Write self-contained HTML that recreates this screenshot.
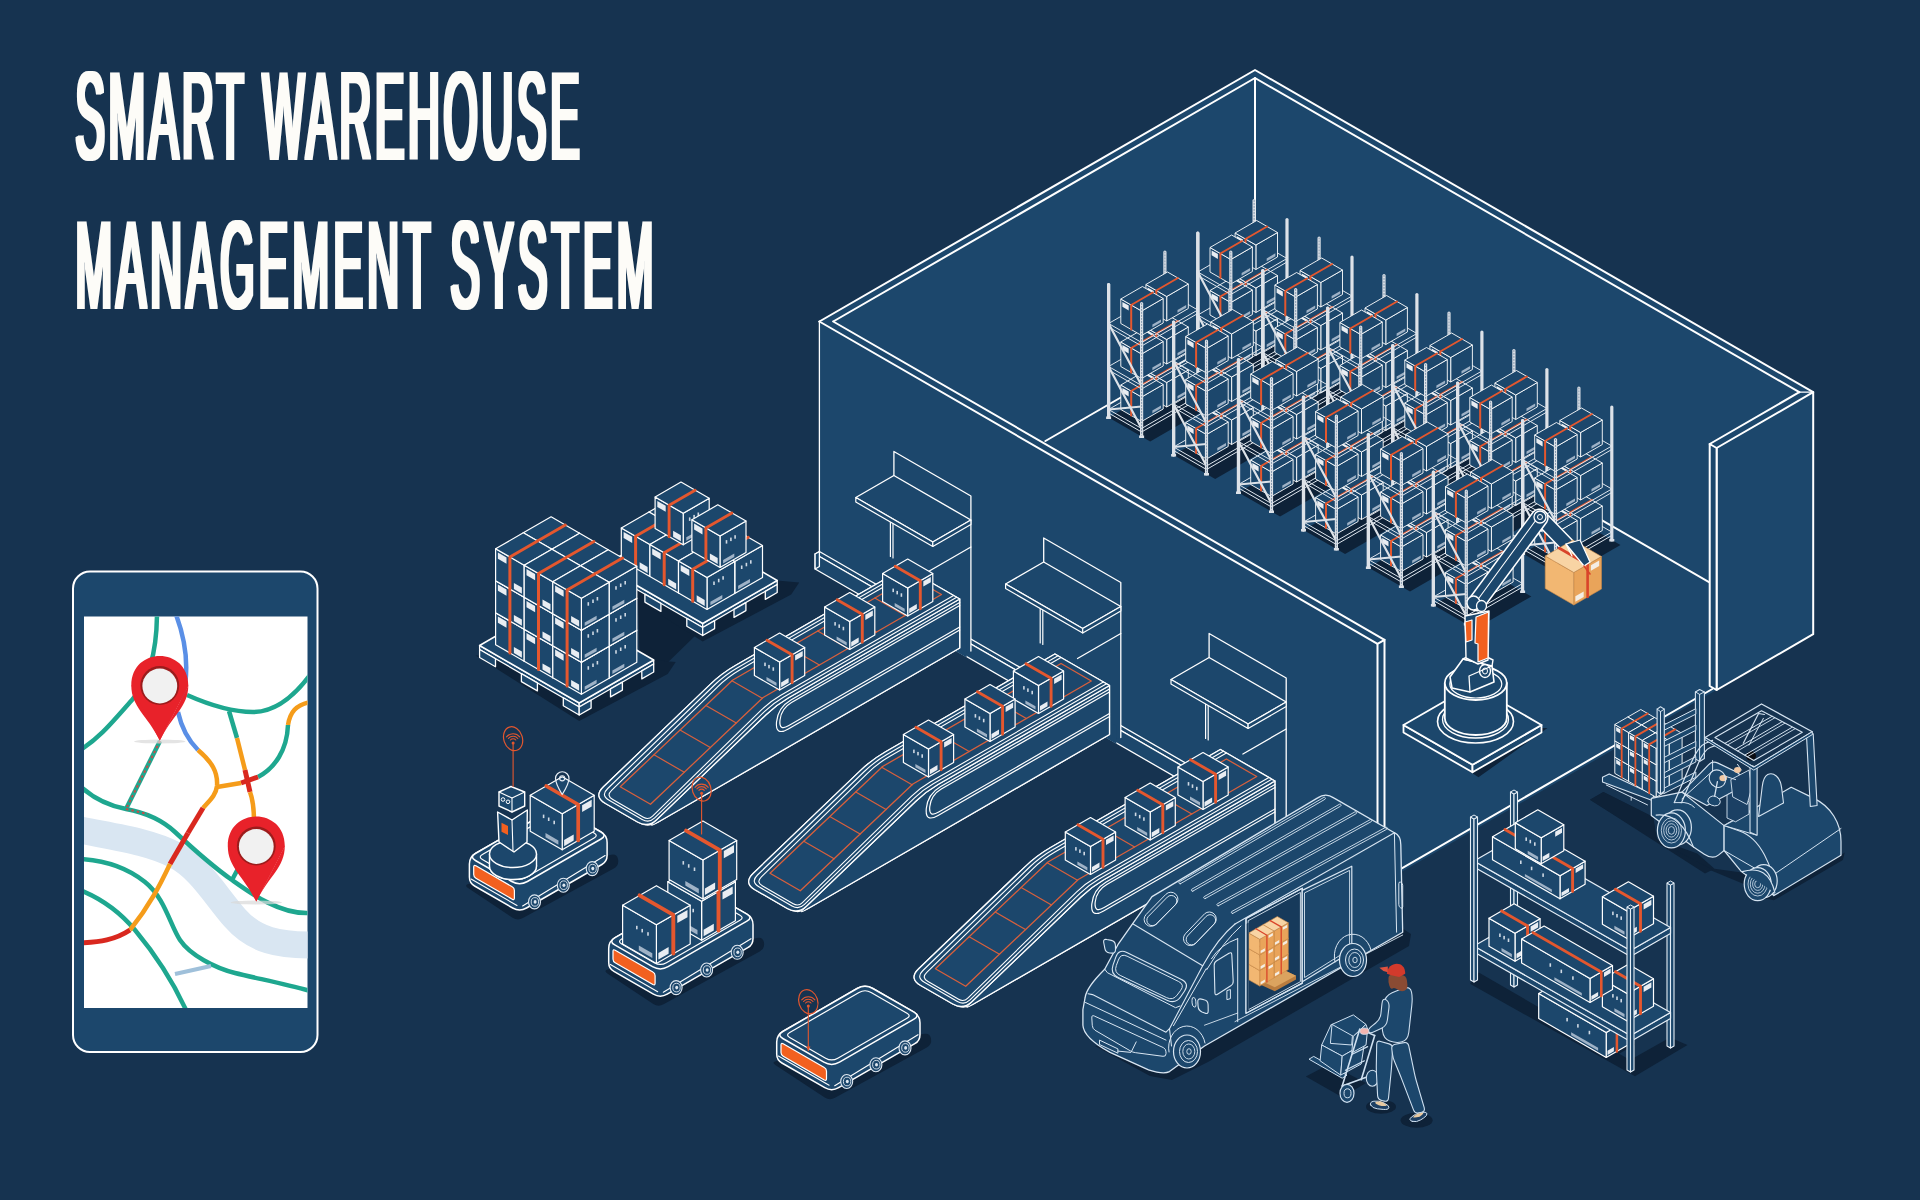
<!DOCTYPE html>
<html><head><meta charset="utf-8"><title>Smart Warehouse Management System</title>
<style>html,body{margin:0;padding:0;background:#163350;overflow:hidden}svg{display:block}</style></head>
<body><svg width="1920" height="1200" viewBox="0 0 1920 1200">
<rect width="1920" height="1200" fill="#163350"/>
<polygon points="819.4,321.5 1255,70 1813.2,392.2 1813.2,634.2 1377.5,885.8 819.4,563.5" fill="#1c476c" stroke="none" stroke-width="0" stroke-linejoin="round" />
<polygon points="819.4,551.5 1377.5,873.8 1377.5,889.8 819.4,567.5" fill="#1c476c" stroke="none" stroke-width="0" stroke-linejoin="round" />
<polyline points="1045.4,441 1255,320 1799.3,634.2" fill="none" stroke="#ffffff" stroke-width="2" stroke-linejoin="round" stroke-linecap="round" />
<polyline points="1255,320 1255,78" fill="none" stroke="#ffffff" stroke-width="2" stroke-linejoin="round" stroke-linecap="round" />
<polyline points="819.4,321.5 1255,70 1813.2,392.2" fill="none" stroke="#ffffff" stroke-width="2" stroke-linejoin="round" stroke-linecap="round" />
<polyline points="833.2,321.5 1255,78 1799.3,392.2" fill="none" stroke="#ffffff" stroke-width="2" stroke-linejoin="round" stroke-linecap="round" />
<polygon points="1813.2,392.2 1716.6,448 1716.6,690 1813.2,634.2" fill="#1c476c" stroke="#ffffff" stroke-width="2" stroke-linejoin="round" />
<polygon points="1716.6,448 1709.7,444 1709.7,686 1716.6,690" fill="#1c476c" stroke="#ffffff" stroke-width="2" stroke-linejoin="round" />
<polyline points="1799.3,392.2 1709.7,444" fill="none" stroke="#ffffff" stroke-width="2" stroke-linejoin="round" stroke-linecap="round" />
<polyline points="1813.2,392.2 1799.3,392.2" fill="none" stroke="#ffffff" stroke-width="1.2" stroke-linejoin="round" stroke-linecap="round" />
<polyline points="1712.3,689 1373.2,884.8" fill="none" stroke="#ffffff" stroke-width="2" stroke-linejoin="round" stroke-linecap="round" />
<polygon points="1254.1,333.5 1295.7,357.5 1239.4,390 1197.8,366" fill="#0e2238" stroke="none" stroke-width="0" stroke-linejoin="round" />
<polyline points="1254.1,333.5 1254.1,200.5" fill="none" stroke="#dde2e8" stroke-width="3.2" stroke-linejoin="round" stroke-linecap="round" stroke-linecap="butt"/>
<polyline points="1254.1,333.5 1254.1,200.5" fill="none" stroke="#8398ae" stroke-width="1" stroke-linejoin="round" stroke-linecap="round" stroke-dasharray="1.2 1.8" stroke-linecap="butt"/>
<polyline points="1287,352.5 1287,219.5" fill="none" stroke="#dde2e8" stroke-width="3.2" stroke-linejoin="round" stroke-linecap="round" stroke-linecap="butt"/>
<polyline points="1197.8,366 1197.8,233" fill="none" stroke="#dde2e8" stroke-width="3.2" stroke-linejoin="round" stroke-linecap="round" stroke-linecap="butt"/>
<polygon points="1254.1,325.5 1287,344.5 1230.8,377 1197.8,358" fill="none" stroke="#dfe6ee" stroke-width="1" stroke-linejoin="round" />
<polyline points="1197.8,361.5 1230.8,380.5 1287,348" fill="none" stroke="#dfe6ee" stroke-width="1" stroke-linejoin="round" stroke-linecap="round" />
<polygon points="1255.9,355.5 1277.5,343 1277.5,318.5 1255.9,331" fill="#1c476c" stroke="#ffffff" stroke-width="0.9" stroke-linejoin="round" />
<polygon points="1255.9,355.5 1235.1,343.5 1235.1,319 1255.9,331" fill="#1c476c" stroke="#ffffff" stroke-width="0.9" stroke-linejoin="round" />
<polygon points="1255.9,331 1277.5,318.5 1256.7,306.5 1235.1,319" fill="#1c476c" stroke="#ffffff" stroke-width="0.9" stroke-linejoin="round" />
<polyline points="1267.1,312.5 1245.5,325 1245.5,349.5" fill="none" stroke="#e4572e" stroke-width="2" stroke-linejoin="round" stroke-linecap="round" stroke-linecap="butt"/>
<polygon points="1236.7,321.9 1243,325.5 1243,330.4 1236.7,326.8" fill="#e9edf2" stroke="none" stroke-width="0" stroke-linejoin="round" />
<polygon points="1266.7,344.4 1275.4,339.4 1275.4,342.3 1266.7,347.3" fill="#9fb2c6" stroke="none" stroke-width="0" stroke-linejoin="round" />
<polygon points="1230.8,370 1252.4,357.5 1252.4,333 1230.8,345.5" fill="#1c476c" stroke="#ffffff" stroke-width="0.9" stroke-linejoin="round" />
<polygon points="1230.8,370 1210,358 1210,333.5 1230.8,345.5" fill="#1c476c" stroke="#ffffff" stroke-width="0.9" stroke-linejoin="round" />
<polygon points="1230.8,345.5 1252.4,333 1231.6,321 1210,333.5" fill="#1c476c" stroke="#ffffff" stroke-width="0.9" stroke-linejoin="round" />
<polyline points="1242,327 1220.4,339.5 1220.4,364" fill="none" stroke="#e4572e" stroke-width="2" stroke-linejoin="round" stroke-linecap="round" stroke-linecap="butt"/>
<polygon points="1211.6,336.4 1217.9,340 1217.9,344.9 1211.6,341.3" fill="#e9edf2" stroke="none" stroke-width="0" stroke-linejoin="round" />
<polygon points="1241.6,358.9 1250.2,353.9 1250.2,356.8 1241.6,361.8" fill="#9fb2c6" stroke="none" stroke-width="0" stroke-linejoin="round" />
<polygon points="1254.1,282.5 1287,301.5 1230.8,334 1197.8,315" fill="none" stroke="#dfe6ee" stroke-width="1" stroke-linejoin="round" />
<polyline points="1197.8,318.5 1230.8,337.5 1287,305" fill="none" stroke="#dfe6ee" stroke-width="1" stroke-linejoin="round" stroke-linecap="round" />
<polygon points="1255.9,312.5 1277.5,300 1277.5,275.5 1255.9,288" fill="#1c476c" stroke="#ffffff" stroke-width="0.9" stroke-linejoin="round" />
<polygon points="1255.9,312.5 1235.1,300.5 1235.1,276 1255.9,288" fill="#1c476c" stroke="#ffffff" stroke-width="0.9" stroke-linejoin="round" />
<polygon points="1255.9,288 1277.5,275.5 1256.7,263.5 1235.1,276" fill="#1c476c" stroke="#ffffff" stroke-width="0.9" stroke-linejoin="round" />
<polyline points="1267.1,269.5 1245.5,282 1245.5,306.5" fill="none" stroke="#e4572e" stroke-width="2" stroke-linejoin="round" stroke-linecap="round" stroke-linecap="butt"/>
<polygon points="1236.7,278.9 1243,282.5 1243,287.4 1236.7,283.8" fill="#e9edf2" stroke="none" stroke-width="0" stroke-linejoin="round" />
<polygon points="1266.7,301.4 1275.4,296.4 1275.4,299.3 1266.7,304.3" fill="#9fb2c6" stroke="none" stroke-width="0" stroke-linejoin="round" />
<polygon points="1230.8,327 1252.4,314.5 1252.4,290 1230.8,302.5" fill="#1c476c" stroke="#ffffff" stroke-width="0.9" stroke-linejoin="round" />
<polygon points="1230.8,327 1210,315 1210,290.5 1230.8,302.5" fill="#1c476c" stroke="#ffffff" stroke-width="0.9" stroke-linejoin="round" />
<polygon points="1230.8,302.5 1252.4,290 1231.6,278 1210,290.5" fill="#1c476c" stroke="#ffffff" stroke-width="0.9" stroke-linejoin="round" />
<polyline points="1242,284 1220.4,296.5 1220.4,321" fill="none" stroke="#e4572e" stroke-width="2" stroke-linejoin="round" stroke-linecap="round" stroke-linecap="butt"/>
<polygon points="1211.6,293.4 1217.9,297 1217.9,301.9 1211.6,298.3" fill="#e9edf2" stroke="none" stroke-width="0" stroke-linejoin="round" />
<polygon points="1241.6,315.9 1250.2,310.9 1250.2,313.8 1241.6,318.8" fill="#9fb2c6" stroke="none" stroke-width="0" stroke-linejoin="round" />
<polygon points="1254.1,239.5 1287,258.5 1230.8,291 1197.8,272" fill="none" stroke="#dfe6ee" stroke-width="1" stroke-linejoin="round" />
<polyline points="1197.8,275.5 1230.8,294.5 1287,262" fill="none" stroke="#dfe6ee" stroke-width="1" stroke-linejoin="round" stroke-linecap="round" />
<polygon points="1255.9,269.5 1277.5,257 1277.5,232.5 1255.9,245" fill="#1c476c" stroke="#ffffff" stroke-width="0.9" stroke-linejoin="round" />
<polygon points="1255.9,269.5 1235.1,257.5 1235.1,233 1255.9,245" fill="#1c476c" stroke="#ffffff" stroke-width="0.9" stroke-linejoin="round" />
<polygon points="1255.9,245 1277.5,232.5 1256.7,220.5 1235.1,233" fill="#1c476c" stroke="#ffffff" stroke-width="0.9" stroke-linejoin="round" />
<polyline points="1267.1,226.5 1245.5,239 1245.5,263.5" fill="none" stroke="#e4572e" stroke-width="2" stroke-linejoin="round" stroke-linecap="round" stroke-linecap="butt"/>
<polygon points="1236.7,235.9 1243,239.5 1243,244.4 1236.7,240.8" fill="#e9edf2" stroke="none" stroke-width="0" stroke-linejoin="round" />
<polygon points="1266.7,258.4 1275.4,253.3 1275.4,256.3 1266.7,261.3" fill="#9fb2c6" stroke="none" stroke-width="0" stroke-linejoin="round" />
<polygon points="1230.8,284 1252.4,271.5 1252.4,247 1230.8,259.5" fill="#1c476c" stroke="#ffffff" stroke-width="0.9" stroke-linejoin="round" />
<polygon points="1230.8,284 1210,272 1210,247.5 1230.8,259.5" fill="#1c476c" stroke="#ffffff" stroke-width="0.9" stroke-linejoin="round" />
<polygon points="1230.8,259.5 1252.4,247 1231.6,235 1210,247.5" fill="#1c476c" stroke="#ffffff" stroke-width="0.9" stroke-linejoin="round" />
<polyline points="1242,241 1220.4,253.5 1220.4,278" fill="none" stroke="#e4572e" stroke-width="2" stroke-linejoin="round" stroke-linecap="round" stroke-linecap="butt"/>
<polygon points="1211.6,250.4 1217.9,254 1217.9,258.9 1211.6,255.3" fill="#e9edf2" stroke="none" stroke-width="0" stroke-linejoin="round" />
<polygon points="1241.6,272.9 1250.2,267.9 1250.2,270.8 1241.6,275.8" fill="#9fb2c6" stroke="none" stroke-width="0" stroke-linejoin="round" />
<polyline points="1197.8,315 1230.8,377" fill="none" stroke="#dde2e8" stroke-width="2.2" stroke-linejoin="round" stroke-linecap="round" />
<polyline points="1197.8,272 1230.8,334" fill="none" stroke="#dde2e8" stroke-width="2.2" stroke-linejoin="round" stroke-linecap="round" />
<polyline points="1197.8,358 1230.8,355" fill="none" stroke="#dde2e8" stroke-width="2.2" stroke-linejoin="round" stroke-linecap="round" />
<polyline points="1197.8,366 1197.8,233" fill="none" stroke="#dde2e8" stroke-width="3.2" stroke-linejoin="round" stroke-linecap="round" stroke-linecap="butt"/>
<polyline points="1230.8,385 1230.8,252" fill="none" stroke="#dde2e8" stroke-width="3.2" stroke-linejoin="round" stroke-linecap="round" stroke-linecap="butt"/>
<polyline points="1230.8,385 1230.8,252" fill="none" stroke="#8398ae" stroke-width="1" stroke-linejoin="round" stroke-linecap="round" stroke-dasharray="1.2 1.8" stroke-linecap="butt"/>
<rect x="1228.3" y="384" width="5" height="2.5" fill="#dde2e8"/>
<rect x="1195.3" y="365" width="5" height="2.5" fill="#dde2e8"/>
<rect x="1284.5" y="351.5" width="5" height="2.5" fill="#dde2e8"/>
<polygon points="1319.1,371 1360.7,395 1304.4,427.5 1262.8,403.5" fill="#0e2238" stroke="none" stroke-width="0" stroke-linejoin="round" />
<polyline points="1319.1,371 1319.1,238" fill="none" stroke="#dde2e8" stroke-width="3.2" stroke-linejoin="round" stroke-linecap="round" stroke-linecap="butt"/>
<polyline points="1319.1,371 1319.1,238" fill="none" stroke="#8398ae" stroke-width="1" stroke-linejoin="round" stroke-linecap="round" stroke-dasharray="1.2 1.8" stroke-linecap="butt"/>
<polyline points="1352,390 1352,257" fill="none" stroke="#dde2e8" stroke-width="3.2" stroke-linejoin="round" stroke-linecap="round" stroke-linecap="butt"/>
<polyline points="1262.8,403.5 1262.8,270.5" fill="none" stroke="#dde2e8" stroke-width="3.2" stroke-linejoin="round" stroke-linecap="round" stroke-linecap="butt"/>
<polygon points="1319.1,363 1352,382 1295.7,414.5 1262.8,395.5" fill="none" stroke="#dfe6ee" stroke-width="1" stroke-linejoin="round" />
<polyline points="1262.8,399 1295.7,418 1352,385.5" fill="none" stroke="#dfe6ee" stroke-width="1" stroke-linejoin="round" stroke-linecap="round" />
<polygon points="1320.8,393 1342.5,380.5 1342.5,356 1320.8,368.5" fill="#1c476c" stroke="#ffffff" stroke-width="0.9" stroke-linejoin="round" />
<polygon points="1320.8,393 1300,381 1300,356.5 1320.8,368.5" fill="#1c476c" stroke="#ffffff" stroke-width="0.9" stroke-linejoin="round" />
<polygon points="1320.8,368.5 1342.5,356 1321.7,344 1300,356.5" fill="#1c476c" stroke="#ffffff" stroke-width="0.9" stroke-linejoin="round" />
<polyline points="1332.1,350 1310.4,362.5 1310.4,387" fill="none" stroke="#e4572e" stroke-width="2" stroke-linejoin="round" stroke-linecap="round" stroke-linecap="butt"/>
<polygon points="1301.7,359.4 1307.9,363 1307.9,367.9 1301.7,364.3" fill="#e9edf2" stroke="none" stroke-width="0" stroke-linejoin="round" />
<polygon points="1331.6,381.9 1340.3,376.9 1340.3,379.8 1331.6,384.8" fill="#9fb2c6" stroke="none" stroke-width="0" stroke-linejoin="round" />
<polygon points="1295.7,407.5 1317.4,395 1317.4,370.5 1295.7,383" fill="#1c476c" stroke="#ffffff" stroke-width="0.9" stroke-linejoin="round" />
<polygon points="1295.7,407.5 1274.9,395.5 1274.9,371 1295.7,383" fill="#1c476c" stroke="#ffffff" stroke-width="0.9" stroke-linejoin="round" />
<polygon points="1295.7,383 1317.4,370.5 1296.6,358.5 1274.9,371" fill="#1c476c" stroke="#ffffff" stroke-width="0.9" stroke-linejoin="round" />
<polyline points="1307,364.5 1285.3,377 1285.3,401.5" fill="none" stroke="#e4572e" stroke-width="2" stroke-linejoin="round" stroke-linecap="round" stroke-linecap="butt"/>
<polygon points="1276.6,373.9 1282.8,377.5 1282.8,382.4 1276.6,378.8" fill="#e9edf2" stroke="none" stroke-width="0" stroke-linejoin="round" />
<polygon points="1306.5,396.4 1315.2,391.4 1315.2,394.3 1306.5,399.3" fill="#9fb2c6" stroke="none" stroke-width="0" stroke-linejoin="round" />
<polygon points="1319.1,320 1352,339 1295.7,371.5 1262.8,352.5" fill="none" stroke="#dfe6ee" stroke-width="1" stroke-linejoin="round" />
<polyline points="1262.8,356 1295.7,375 1352,342.5" fill="none" stroke="#dfe6ee" stroke-width="1" stroke-linejoin="round" stroke-linecap="round" />
<polygon points="1320.8,350 1342.5,337.5 1342.5,313 1320.8,325.5" fill="#1c476c" stroke="#ffffff" stroke-width="0.9" stroke-linejoin="round" />
<polygon points="1320.8,350 1300,338 1300,313.5 1320.8,325.5" fill="#1c476c" stroke="#ffffff" stroke-width="0.9" stroke-linejoin="round" />
<polygon points="1320.8,325.5 1342.5,313 1321.7,301 1300,313.5" fill="#1c476c" stroke="#ffffff" stroke-width="0.9" stroke-linejoin="round" />
<polyline points="1332.1,307 1310.4,319.5 1310.4,344" fill="none" stroke="#e4572e" stroke-width="2" stroke-linejoin="round" stroke-linecap="round" stroke-linecap="butt"/>
<polygon points="1301.7,316.4 1307.9,320 1307.9,324.9 1301.7,321.3" fill="#e9edf2" stroke="none" stroke-width="0" stroke-linejoin="round" />
<polygon points="1331.6,338.9 1340.3,333.9 1340.3,336.8 1331.6,341.8" fill="#9fb2c6" stroke="none" stroke-width="0" stroke-linejoin="round" />
<polygon points="1295.7,364.5 1317.4,352 1317.4,327.5 1295.7,340" fill="#1c476c" stroke="#ffffff" stroke-width="0.9" stroke-linejoin="round" />
<polygon points="1295.7,364.5 1274.9,352.5 1274.9,328 1295.7,340" fill="#1c476c" stroke="#ffffff" stroke-width="0.9" stroke-linejoin="round" />
<polygon points="1295.7,340 1317.4,327.5 1296.6,315.5 1274.9,328" fill="#1c476c" stroke="#ffffff" stroke-width="0.9" stroke-linejoin="round" />
<polyline points="1307,321.5 1285.3,334 1285.3,358.5" fill="none" stroke="#e4572e" stroke-width="2" stroke-linejoin="round" stroke-linecap="round" stroke-linecap="butt"/>
<polygon points="1276.6,330.9 1282.8,334.5 1282.8,339.4 1276.6,335.8" fill="#e9edf2" stroke="none" stroke-width="0" stroke-linejoin="round" />
<polygon points="1306.5,353.4 1315.2,348.4 1315.2,351.3 1306.5,356.3" fill="#9fb2c6" stroke="none" stroke-width="0" stroke-linejoin="round" />
<polygon points="1319.1,277 1352,296 1295.7,328.5 1262.8,309.5" fill="none" stroke="#dfe6ee" stroke-width="1" stroke-linejoin="round" />
<polyline points="1262.8,313 1295.7,332 1352,299.5" fill="none" stroke="#dfe6ee" stroke-width="1" stroke-linejoin="round" stroke-linecap="round" />
<polygon points="1320.8,307 1342.5,294.5 1342.5,270 1320.8,282.5" fill="#1c476c" stroke="#ffffff" stroke-width="0.9" stroke-linejoin="round" />
<polygon points="1320.8,307 1300,295 1300,270.5 1320.8,282.5" fill="#1c476c" stroke="#ffffff" stroke-width="0.9" stroke-linejoin="round" />
<polygon points="1320.8,282.5 1342.5,270 1321.7,258 1300,270.5" fill="#1c476c" stroke="#ffffff" stroke-width="0.9" stroke-linejoin="round" />
<polyline points="1332.1,264 1310.4,276.5 1310.4,301" fill="none" stroke="#e4572e" stroke-width="2" stroke-linejoin="round" stroke-linecap="round" stroke-linecap="butt"/>
<polygon points="1301.7,273.4 1307.9,277 1307.9,281.9 1301.7,278.3" fill="#e9edf2" stroke="none" stroke-width="0" stroke-linejoin="round" />
<polygon points="1331.6,295.9 1340.3,290.9 1340.3,293.8 1331.6,298.8" fill="#9fb2c6" stroke="none" stroke-width="0" stroke-linejoin="round" />
<polygon points="1295.7,321.5 1317.4,309 1317.4,284.5 1295.7,297" fill="#1c476c" stroke="#ffffff" stroke-width="0.9" stroke-linejoin="round" />
<polygon points="1295.7,321.5 1274.9,309.5 1274.9,285 1295.7,297" fill="#1c476c" stroke="#ffffff" stroke-width="0.9" stroke-linejoin="round" />
<polygon points="1295.7,297 1317.4,284.5 1296.6,272.5 1274.9,285" fill="#1c476c" stroke="#ffffff" stroke-width="0.9" stroke-linejoin="round" />
<polyline points="1307,278.5 1285.3,291 1285.3,315.5" fill="none" stroke="#e4572e" stroke-width="2" stroke-linejoin="round" stroke-linecap="round" stroke-linecap="butt"/>
<polygon points="1276.6,287.9 1282.8,291.5 1282.8,296.4 1276.6,292.8" fill="#e9edf2" stroke="none" stroke-width="0" stroke-linejoin="round" />
<polygon points="1306.5,310.4 1315.2,305.4 1315.2,308.3 1306.5,313.3" fill="#9fb2c6" stroke="none" stroke-width="0" stroke-linejoin="round" />
<polyline points="1262.8,352.5 1295.7,414.5" fill="none" stroke="#dde2e8" stroke-width="2.2" stroke-linejoin="round" stroke-linecap="round" />
<polyline points="1262.8,309.5 1295.7,371.5" fill="none" stroke="#dde2e8" stroke-width="2.2" stroke-linejoin="round" stroke-linecap="round" />
<polyline points="1262.8,395.5 1295.7,392.5" fill="none" stroke="#dde2e8" stroke-width="2.2" stroke-linejoin="round" stroke-linecap="round" />
<polyline points="1262.8,403.5 1262.8,270.5" fill="none" stroke="#dde2e8" stroke-width="3.2" stroke-linejoin="round" stroke-linecap="round" stroke-linecap="butt"/>
<polyline points="1295.7,422.5 1295.7,289.5" fill="none" stroke="#dde2e8" stroke-width="3.2" stroke-linejoin="round" stroke-linecap="round" stroke-linecap="butt"/>
<polyline points="1295.7,422.5 1295.7,289.5" fill="none" stroke="#8398ae" stroke-width="1" stroke-linejoin="round" stroke-linecap="round" stroke-dasharray="1.2 1.8" stroke-linecap="butt"/>
<rect x="1293.2" y="421.5" width="5" height="2.5" fill="#dde2e8"/>
<rect x="1260.3" y="402.5" width="5" height="2.5" fill="#dde2e8"/>
<rect x="1349.5" y="389" width="5" height="2.5" fill="#dde2e8"/>
<polygon points="1384,408.5 1425.6,432.5 1369.3,465 1327.7,441" fill="#0e2238" stroke="none" stroke-width="0" stroke-linejoin="round" />
<polyline points="1384,408.5 1384,275.5" fill="none" stroke="#dde2e8" stroke-width="3.2" stroke-linejoin="round" stroke-linecap="round" stroke-linecap="butt"/>
<polyline points="1384,408.5 1384,275.5" fill="none" stroke="#8398ae" stroke-width="1" stroke-linejoin="round" stroke-linecap="round" stroke-dasharray="1.2 1.8" stroke-linecap="butt"/>
<polyline points="1416.9,427.5 1416.9,294.5" fill="none" stroke="#dde2e8" stroke-width="3.2" stroke-linejoin="round" stroke-linecap="round" stroke-linecap="butt"/>
<polyline points="1327.7,441 1327.7,308" fill="none" stroke="#dde2e8" stroke-width="3.2" stroke-linejoin="round" stroke-linecap="round" stroke-linecap="butt"/>
<polygon points="1384,400.5 1416.9,419.5 1360.7,452 1327.7,433" fill="none" stroke="#dfe6ee" stroke-width="1" stroke-linejoin="round" />
<polyline points="1327.7,436.5 1360.7,455.5 1416.9,423" fill="none" stroke="#dfe6ee" stroke-width="1" stroke-linejoin="round" stroke-linecap="round" />
<polygon points="1385.8,430.5 1407.4,418 1407.4,393.5 1385.8,406" fill="#1c476c" stroke="#ffffff" stroke-width="0.9" stroke-linejoin="round" />
<polygon points="1385.8,430.5 1365,418.5 1365,394 1385.8,406" fill="#1c476c" stroke="#ffffff" stroke-width="0.9" stroke-linejoin="round" />
<polygon points="1385.8,406 1407.4,393.5 1386.6,381.5 1365,394" fill="#1c476c" stroke="#ffffff" stroke-width="0.9" stroke-linejoin="round" />
<polyline points="1397,387.5 1375.4,400 1375.4,424.5" fill="none" stroke="#e4572e" stroke-width="2" stroke-linejoin="round" stroke-linecap="round" stroke-linecap="butt"/>
<polygon points="1366.6,396.9 1372.9,400.5 1372.9,405.4 1366.6,401.8" fill="#e9edf2" stroke="none" stroke-width="0" stroke-linejoin="round" />
<polygon points="1396.6,419.4 1405.3,414.4 1405.3,417.3 1396.6,422.3" fill="#9fb2c6" stroke="none" stroke-width="0" stroke-linejoin="round" />
<polygon points="1360.7,445 1382.3,432.5 1382.3,408 1360.7,420.5" fill="#1c476c" stroke="#ffffff" stroke-width="0.9" stroke-linejoin="round" />
<polygon points="1360.7,445 1339.9,433 1339.9,408.5 1360.7,420.5" fill="#1c476c" stroke="#ffffff" stroke-width="0.9" stroke-linejoin="round" />
<polygon points="1360.7,420.5 1382.3,408 1361.5,396 1339.9,408.5" fill="#1c476c" stroke="#ffffff" stroke-width="0.9" stroke-linejoin="round" />
<polyline points="1371.9,402 1350.3,414.5 1350.3,439" fill="none" stroke="#e4572e" stroke-width="2" stroke-linejoin="round" stroke-linecap="round" stroke-linecap="butt"/>
<polygon points="1341.5,411.4 1347.8,415 1347.8,419.9 1341.5,416.3" fill="#e9edf2" stroke="none" stroke-width="0" stroke-linejoin="round" />
<polygon points="1371.5,433.9 1380.1,428.9 1380.1,431.8 1371.5,436.8" fill="#9fb2c6" stroke="none" stroke-width="0" stroke-linejoin="round" />
<polygon points="1384,357.5 1416.9,376.5 1360.7,409 1327.7,390" fill="none" stroke="#dfe6ee" stroke-width="1" stroke-linejoin="round" />
<polyline points="1327.7,393.5 1360.7,412.5 1416.9,380" fill="none" stroke="#dfe6ee" stroke-width="1" stroke-linejoin="round" stroke-linecap="round" />
<polygon points="1385.8,387.5 1407.4,375 1407.4,350.5 1385.8,363" fill="#1c476c" stroke="#ffffff" stroke-width="0.9" stroke-linejoin="round" />
<polygon points="1385.8,387.5 1365,375.5 1365,351 1385.8,363" fill="#1c476c" stroke="#ffffff" stroke-width="0.9" stroke-linejoin="round" />
<polygon points="1385.8,363 1407.4,350.5 1386.6,338.5 1365,351" fill="#1c476c" stroke="#ffffff" stroke-width="0.9" stroke-linejoin="round" />
<polyline points="1397,344.5 1375.4,357 1375.4,381.5" fill="none" stroke="#e4572e" stroke-width="2" stroke-linejoin="round" stroke-linecap="round" stroke-linecap="butt"/>
<polygon points="1366.6,353.9 1372.9,357.5 1372.9,362.4 1366.6,358.8" fill="#e9edf2" stroke="none" stroke-width="0" stroke-linejoin="round" />
<polygon points="1396.6,376.4 1405.3,371.4 1405.3,374.3 1396.6,379.3" fill="#9fb2c6" stroke="none" stroke-width="0" stroke-linejoin="round" />
<polygon points="1360.7,402 1382.3,389.5 1382.3,365 1360.7,377.5" fill="#1c476c" stroke="#ffffff" stroke-width="0.9" stroke-linejoin="round" />
<polygon points="1360.7,402 1339.9,390 1339.9,365.5 1360.7,377.5" fill="#1c476c" stroke="#ffffff" stroke-width="0.9" stroke-linejoin="round" />
<polygon points="1360.7,377.5 1382.3,365 1361.5,353 1339.9,365.5" fill="#1c476c" stroke="#ffffff" stroke-width="0.9" stroke-linejoin="round" />
<polyline points="1371.9,359 1350.3,371.5 1350.3,396" fill="none" stroke="#e4572e" stroke-width="2" stroke-linejoin="round" stroke-linecap="round" stroke-linecap="butt"/>
<polygon points="1341.5,368.4 1347.8,372 1347.8,376.9 1341.5,373.3" fill="#e9edf2" stroke="none" stroke-width="0" stroke-linejoin="round" />
<polygon points="1371.5,390.9 1380.1,385.9 1380.1,388.8 1371.5,393.8" fill="#9fb2c6" stroke="none" stroke-width="0" stroke-linejoin="round" />
<polygon points="1384,314.5 1416.9,333.5 1360.7,366 1327.7,347" fill="none" stroke="#dfe6ee" stroke-width="1" stroke-linejoin="round" />
<polyline points="1327.7,350.5 1360.7,369.5 1416.9,337" fill="none" stroke="#dfe6ee" stroke-width="1" stroke-linejoin="round" stroke-linecap="round" />
<polygon points="1385.8,344.5 1407.4,332 1407.4,307.5 1385.8,320" fill="#1c476c" stroke="#ffffff" stroke-width="0.9" stroke-linejoin="round" />
<polygon points="1385.8,344.5 1365,332.5 1365,308 1385.8,320" fill="#1c476c" stroke="#ffffff" stroke-width="0.9" stroke-linejoin="round" />
<polygon points="1385.8,320 1407.4,307.5 1386.6,295.5 1365,308" fill="#1c476c" stroke="#ffffff" stroke-width="0.9" stroke-linejoin="round" />
<polyline points="1397,301.5 1375.4,314 1375.4,338.5" fill="none" stroke="#e4572e" stroke-width="2" stroke-linejoin="round" stroke-linecap="round" stroke-linecap="butt"/>
<polygon points="1366.6,310.9 1372.9,314.5 1372.9,319.4 1366.6,315.8" fill="#e9edf2" stroke="none" stroke-width="0" stroke-linejoin="round" />
<polygon points="1396.6,333.4 1405.3,328.4 1405.3,331.3 1396.6,336.3" fill="#9fb2c6" stroke="none" stroke-width="0" stroke-linejoin="round" />
<polygon points="1360.7,359 1382.3,346.5 1382.3,322 1360.7,334.5" fill="#1c476c" stroke="#ffffff" stroke-width="0.9" stroke-linejoin="round" />
<polygon points="1360.7,359 1339.9,347 1339.9,322.5 1360.7,334.5" fill="#1c476c" stroke="#ffffff" stroke-width="0.9" stroke-linejoin="round" />
<polygon points="1360.7,334.5 1382.3,322 1361.5,310 1339.9,322.5" fill="#1c476c" stroke="#ffffff" stroke-width="0.9" stroke-linejoin="round" />
<polyline points="1371.9,316 1350.3,328.5 1350.3,353" fill="none" stroke="#e4572e" stroke-width="2" stroke-linejoin="round" stroke-linecap="round" stroke-linecap="butt"/>
<polygon points="1341.5,325.4 1347.8,329 1347.8,333.9 1341.5,330.3" fill="#e9edf2" stroke="none" stroke-width="0" stroke-linejoin="round" />
<polygon points="1371.5,347.9 1380.1,342.9 1380.1,345.8 1371.5,350.8" fill="#9fb2c6" stroke="none" stroke-width="0" stroke-linejoin="round" />
<polyline points="1327.7,390 1360.7,452" fill="none" stroke="#dde2e8" stroke-width="2.2" stroke-linejoin="round" stroke-linecap="round" />
<polyline points="1327.7,347 1360.7,409" fill="none" stroke="#dde2e8" stroke-width="2.2" stroke-linejoin="round" stroke-linecap="round" />
<polyline points="1327.7,433 1360.7,430" fill="none" stroke="#dde2e8" stroke-width="2.2" stroke-linejoin="round" stroke-linecap="round" />
<polyline points="1327.7,441 1327.7,308" fill="none" stroke="#dde2e8" stroke-width="3.2" stroke-linejoin="round" stroke-linecap="round" stroke-linecap="butt"/>
<polyline points="1360.7,460 1360.7,327" fill="none" stroke="#dde2e8" stroke-width="3.2" stroke-linejoin="round" stroke-linecap="round" stroke-linecap="butt"/>
<polyline points="1360.7,460 1360.7,327" fill="none" stroke="#8398ae" stroke-width="1" stroke-linejoin="round" stroke-linecap="round" stroke-dasharray="1.2 1.8" stroke-linecap="butt"/>
<rect x="1358.2" y="459" width="5" height="2.5" fill="#dde2e8"/>
<rect x="1325.2" y="440" width="5" height="2.5" fill="#dde2e8"/>
<rect x="1414.4" y="426.5" width="5" height="2.5" fill="#dde2e8"/>
<polygon points="1449,446 1490.6,470 1434.3,502.5 1392.7,478.5" fill="#0e2238" stroke="none" stroke-width="0" stroke-linejoin="round" />
<polyline points="1449,446 1449,313" fill="none" stroke="#dde2e8" stroke-width="3.2" stroke-linejoin="round" stroke-linecap="round" stroke-linecap="butt"/>
<polyline points="1449,446 1449,313" fill="none" stroke="#8398ae" stroke-width="1" stroke-linejoin="round" stroke-linecap="round" stroke-dasharray="1.2 1.8" stroke-linecap="butt"/>
<polyline points="1481.9,465 1481.9,332" fill="none" stroke="#dde2e8" stroke-width="3.2" stroke-linejoin="round" stroke-linecap="round" stroke-linecap="butt"/>
<polyline points="1392.7,478.5 1392.7,345.5" fill="none" stroke="#dde2e8" stroke-width="3.2" stroke-linejoin="round" stroke-linecap="round" stroke-linecap="butt"/>
<polygon points="1449,438 1481.9,457 1425.6,489.5 1392.7,470.5" fill="none" stroke="#dfe6ee" stroke-width="1" stroke-linejoin="round" />
<polyline points="1392.7,474 1425.6,493 1481.9,460.5" fill="none" stroke="#dfe6ee" stroke-width="1" stroke-linejoin="round" stroke-linecap="round" />
<polygon points="1450.7,468 1472.4,455.5 1472.4,431 1450.7,443.5" fill="#1c476c" stroke="#ffffff" stroke-width="0.9" stroke-linejoin="round" />
<polygon points="1450.7,468 1429.9,456 1429.9,431.5 1450.7,443.5" fill="#1c476c" stroke="#ffffff" stroke-width="0.9" stroke-linejoin="round" />
<polygon points="1450.7,443.5 1472.4,431 1451.6,419 1429.9,431.5" fill="#1c476c" stroke="#ffffff" stroke-width="0.9" stroke-linejoin="round" />
<polyline points="1462,425 1440.3,437.5 1440.3,462" fill="none" stroke="#e4572e" stroke-width="2" stroke-linejoin="round" stroke-linecap="round" stroke-linecap="butt"/>
<polygon points="1431.6,434.4 1437.8,438 1437.8,442.9 1431.6,439.3" fill="#e9edf2" stroke="none" stroke-width="0" stroke-linejoin="round" />
<polygon points="1461.5,456.9 1470.2,451.9 1470.2,454.8 1461.5,459.8" fill="#9fb2c6" stroke="none" stroke-width="0" stroke-linejoin="round" />
<polygon points="1425.6,482.5 1447.3,470 1447.3,445.5 1425.6,458" fill="#1c476c" stroke="#ffffff" stroke-width="0.9" stroke-linejoin="round" />
<polygon points="1425.6,482.5 1404.8,470.5 1404.8,446 1425.6,458" fill="#1c476c" stroke="#ffffff" stroke-width="0.9" stroke-linejoin="round" />
<polygon points="1425.6,458 1447.3,445.5 1426.5,433.5 1404.8,446" fill="#1c476c" stroke="#ffffff" stroke-width="0.9" stroke-linejoin="round" />
<polyline points="1436.9,439.5 1415.2,452 1415.2,476.5" fill="none" stroke="#e4572e" stroke-width="2" stroke-linejoin="round" stroke-linecap="round" stroke-linecap="butt"/>
<polygon points="1406.5,448.9 1412.7,452.5 1412.7,457.4 1406.5,453.8" fill="#e9edf2" stroke="none" stroke-width="0" stroke-linejoin="round" />
<polygon points="1436.4,471.4 1445.1,466.4 1445.1,469.3 1436.4,474.3" fill="#9fb2c6" stroke="none" stroke-width="0" stroke-linejoin="round" />
<polygon points="1449,395 1481.9,414 1425.6,446.5 1392.7,427.5" fill="none" stroke="#dfe6ee" stroke-width="1" stroke-linejoin="round" />
<polyline points="1392.7,431 1425.6,450 1481.9,417.5" fill="none" stroke="#dfe6ee" stroke-width="1" stroke-linejoin="round" stroke-linecap="round" />
<polygon points="1450.7,425 1472.4,412.5 1472.4,388 1450.7,400.5" fill="#1c476c" stroke="#ffffff" stroke-width="0.9" stroke-linejoin="round" />
<polygon points="1450.7,425 1429.9,413 1429.9,388.5 1450.7,400.5" fill="#1c476c" stroke="#ffffff" stroke-width="0.9" stroke-linejoin="round" />
<polygon points="1450.7,400.5 1472.4,388 1451.6,376 1429.9,388.5" fill="#1c476c" stroke="#ffffff" stroke-width="0.9" stroke-linejoin="round" />
<polyline points="1462,382 1440.3,394.5 1440.3,419" fill="none" stroke="#e4572e" stroke-width="2" stroke-linejoin="round" stroke-linecap="round" stroke-linecap="butt"/>
<polygon points="1431.6,391.4 1437.8,395 1437.8,399.9 1431.6,396.3" fill="#e9edf2" stroke="none" stroke-width="0" stroke-linejoin="round" />
<polygon points="1461.5,413.9 1470.2,408.9 1470.2,411.8 1461.5,416.8" fill="#9fb2c6" stroke="none" stroke-width="0" stroke-linejoin="round" />
<polygon points="1425.6,439.5 1447.3,427 1447.3,402.5 1425.6,415" fill="#1c476c" stroke="#ffffff" stroke-width="0.9" stroke-linejoin="round" />
<polygon points="1425.6,439.5 1404.8,427.5 1404.8,403 1425.6,415" fill="#1c476c" stroke="#ffffff" stroke-width="0.9" stroke-linejoin="round" />
<polygon points="1425.6,415 1447.3,402.5 1426.5,390.5 1404.8,403" fill="#1c476c" stroke="#ffffff" stroke-width="0.9" stroke-linejoin="round" />
<polyline points="1436.9,396.5 1415.2,409 1415.2,433.5" fill="none" stroke="#e4572e" stroke-width="2" stroke-linejoin="round" stroke-linecap="round" stroke-linecap="butt"/>
<polygon points="1406.5,405.9 1412.7,409.5 1412.7,414.4 1406.5,410.8" fill="#e9edf2" stroke="none" stroke-width="0" stroke-linejoin="round" />
<polygon points="1436.4,428.4 1445.1,423.4 1445.1,426.3 1436.4,431.3" fill="#9fb2c6" stroke="none" stroke-width="0" stroke-linejoin="round" />
<polygon points="1449,352 1481.9,371 1425.6,403.5 1392.7,384.5" fill="none" stroke="#dfe6ee" stroke-width="1" stroke-linejoin="round" />
<polyline points="1392.7,388 1425.6,407 1481.9,374.5" fill="none" stroke="#dfe6ee" stroke-width="1" stroke-linejoin="round" stroke-linecap="round" />
<polygon points="1450.7,382 1472.4,369.5 1472.4,345 1450.7,357.5" fill="#1c476c" stroke="#ffffff" stroke-width="0.9" stroke-linejoin="round" />
<polygon points="1450.7,382 1429.9,370 1429.9,345.5 1450.7,357.5" fill="#1c476c" stroke="#ffffff" stroke-width="0.9" stroke-linejoin="round" />
<polygon points="1450.7,357.5 1472.4,345 1451.6,333 1429.9,345.5" fill="#1c476c" stroke="#ffffff" stroke-width="0.9" stroke-linejoin="round" />
<polyline points="1462,339 1440.3,351.5 1440.3,376" fill="none" stroke="#e4572e" stroke-width="2" stroke-linejoin="round" stroke-linecap="round" stroke-linecap="butt"/>
<polygon points="1431.6,348.4 1437.8,352 1437.8,356.9 1431.6,353.3" fill="#e9edf2" stroke="none" stroke-width="0" stroke-linejoin="round" />
<polygon points="1461.5,370.9 1470.2,365.9 1470.2,368.8 1461.5,373.8" fill="#9fb2c6" stroke="none" stroke-width="0" stroke-linejoin="round" />
<polygon points="1425.6,396.5 1447.3,384 1447.3,359.5 1425.6,372" fill="#1c476c" stroke="#ffffff" stroke-width="0.9" stroke-linejoin="round" />
<polygon points="1425.6,396.5 1404.8,384.5 1404.8,360 1425.6,372" fill="#1c476c" stroke="#ffffff" stroke-width="0.9" stroke-linejoin="round" />
<polygon points="1425.6,372 1447.3,359.5 1426.5,347.5 1404.8,360" fill="#1c476c" stroke="#ffffff" stroke-width="0.9" stroke-linejoin="round" />
<polyline points="1436.9,353.5 1415.2,366 1415.2,390.5" fill="none" stroke="#e4572e" stroke-width="2" stroke-linejoin="round" stroke-linecap="round" stroke-linecap="butt"/>
<polygon points="1406.5,362.9 1412.7,366.5 1412.7,371.4 1406.5,367.8" fill="#e9edf2" stroke="none" stroke-width="0" stroke-linejoin="round" />
<polygon points="1436.4,385.4 1445.1,380.4 1445.1,383.3 1436.4,388.3" fill="#9fb2c6" stroke="none" stroke-width="0" stroke-linejoin="round" />
<polyline points="1392.7,427.5 1425.6,489.5" fill="none" stroke="#dde2e8" stroke-width="2.2" stroke-linejoin="round" stroke-linecap="round" />
<polyline points="1392.7,384.5 1425.6,446.5" fill="none" stroke="#dde2e8" stroke-width="2.2" stroke-linejoin="round" stroke-linecap="round" />
<polyline points="1392.7,470.5 1425.6,467.5" fill="none" stroke="#dde2e8" stroke-width="2.2" stroke-linejoin="round" stroke-linecap="round" />
<polyline points="1392.7,478.5 1392.7,345.5" fill="none" stroke="#dde2e8" stroke-width="3.2" stroke-linejoin="round" stroke-linecap="round" stroke-linecap="butt"/>
<polyline points="1425.6,497.5 1425.6,364.5" fill="none" stroke="#dde2e8" stroke-width="3.2" stroke-linejoin="round" stroke-linecap="round" stroke-linecap="butt"/>
<polyline points="1425.6,497.5 1425.6,364.5" fill="none" stroke="#8398ae" stroke-width="1" stroke-linejoin="round" stroke-linecap="round" stroke-dasharray="1.2 1.8" stroke-linecap="butt"/>
<rect x="1423.1" y="496.5" width="5" height="2.5" fill="#dde2e8"/>
<rect x="1390.2" y="477.5" width="5" height="2.5" fill="#dde2e8"/>
<rect x="1479.4" y="464" width="5" height="2.5" fill="#dde2e8"/>
<polygon points="1513.9,483.5 1555.5,507.5 1499.2,540 1457.6,516" fill="#0e2238" stroke="none" stroke-width="0" stroke-linejoin="round" />
<polyline points="1513.9,483.5 1513.9,350.5" fill="none" stroke="#dde2e8" stroke-width="3.2" stroke-linejoin="round" stroke-linecap="round" stroke-linecap="butt"/>
<polyline points="1513.9,483.5 1513.9,350.5" fill="none" stroke="#8398ae" stroke-width="1" stroke-linejoin="round" stroke-linecap="round" stroke-dasharray="1.2 1.8" stroke-linecap="butt"/>
<polyline points="1546.9,502.5 1546.9,369.5" fill="none" stroke="#dde2e8" stroke-width="3.2" stroke-linejoin="round" stroke-linecap="round" stroke-linecap="butt"/>
<polyline points="1457.6,516 1457.6,383" fill="none" stroke="#dde2e8" stroke-width="3.2" stroke-linejoin="round" stroke-linecap="round" stroke-linecap="butt"/>
<polygon points="1513.9,475.5 1546.9,494.5 1490.6,527 1457.6,508" fill="none" stroke="#dfe6ee" stroke-width="1" stroke-linejoin="round" />
<polyline points="1457.6,511.5 1490.6,530.5 1546.9,498" fill="none" stroke="#dfe6ee" stroke-width="1" stroke-linejoin="round" stroke-linecap="round" />
<polygon points="1515.7,505.5 1537.3,493 1537.3,468.5 1515.7,481" fill="#1c476c" stroke="#ffffff" stroke-width="0.9" stroke-linejoin="round" />
<polygon points="1515.7,505.5 1494.9,493.5 1494.9,469 1515.7,481" fill="#1c476c" stroke="#ffffff" stroke-width="0.9" stroke-linejoin="round" />
<polygon points="1515.7,481 1537.3,468.5 1516.5,456.5 1494.9,469" fill="#1c476c" stroke="#ffffff" stroke-width="0.9" stroke-linejoin="round" />
<polyline points="1526.9,462.5 1505.3,475 1505.3,499.5" fill="none" stroke="#e4572e" stroke-width="2" stroke-linejoin="round" stroke-linecap="round" stroke-linecap="butt"/>
<polygon points="1496.6,471.9 1502.8,475.5 1502.8,480.4 1496.6,476.8" fill="#e9edf2" stroke="none" stroke-width="0" stroke-linejoin="round" />
<polygon points="1526.5,494.4 1535.2,489.4 1535.2,492.3 1526.5,497.3" fill="#9fb2c6" stroke="none" stroke-width="0" stroke-linejoin="round" />
<polygon points="1490.6,520 1512.2,507.5 1512.2,483 1490.6,495.5" fill="#1c476c" stroke="#ffffff" stroke-width="0.9" stroke-linejoin="round" />
<polygon points="1490.6,520 1469.8,508 1469.8,483.5 1490.6,495.5" fill="#1c476c" stroke="#ffffff" stroke-width="0.9" stroke-linejoin="round" />
<polygon points="1490.6,495.5 1512.2,483 1491.4,471 1469.8,483.5" fill="#1c476c" stroke="#ffffff" stroke-width="0.9" stroke-linejoin="round" />
<polyline points="1501.8,477 1480.2,489.5 1480.2,514" fill="none" stroke="#e4572e" stroke-width="2" stroke-linejoin="round" stroke-linecap="round" stroke-linecap="butt"/>
<polygon points="1471.4,486.4 1477.7,490 1477.7,494.9 1471.4,491.3" fill="#e9edf2" stroke="none" stroke-width="0" stroke-linejoin="round" />
<polygon points="1501.4,508.9 1510,503.9 1510,506.8 1501.4,511.8" fill="#9fb2c6" stroke="none" stroke-width="0" stroke-linejoin="round" />
<polygon points="1513.9,432.5 1546.9,451.5 1490.6,484 1457.6,465" fill="none" stroke="#dfe6ee" stroke-width="1" stroke-linejoin="round" />
<polyline points="1457.6,468.5 1490.6,487.5 1546.9,455" fill="none" stroke="#dfe6ee" stroke-width="1" stroke-linejoin="round" stroke-linecap="round" />
<polygon points="1515.7,462.5 1537.3,450 1537.3,425.5 1515.7,438" fill="#1c476c" stroke="#ffffff" stroke-width="0.9" stroke-linejoin="round" />
<polygon points="1515.7,462.5 1494.9,450.5 1494.9,426 1515.7,438" fill="#1c476c" stroke="#ffffff" stroke-width="0.9" stroke-linejoin="round" />
<polygon points="1515.7,438 1537.3,425.5 1516.5,413.5 1494.9,426" fill="#1c476c" stroke="#ffffff" stroke-width="0.9" stroke-linejoin="round" />
<polyline points="1526.9,419.5 1505.3,432 1505.3,456.5" fill="none" stroke="#e4572e" stroke-width="2" stroke-linejoin="round" stroke-linecap="round" stroke-linecap="butt"/>
<polygon points="1496.6,428.9 1502.8,432.5 1502.8,437.4 1496.6,433.8" fill="#e9edf2" stroke="none" stroke-width="0" stroke-linejoin="round" />
<polygon points="1526.5,451.4 1535.2,446.4 1535.2,449.3 1526.5,454.3" fill="#9fb2c6" stroke="none" stroke-width="0" stroke-linejoin="round" />
<polygon points="1490.6,477 1512.2,464.5 1512.2,440 1490.6,452.5" fill="#1c476c" stroke="#ffffff" stroke-width="0.9" stroke-linejoin="round" />
<polygon points="1490.6,477 1469.8,465 1469.8,440.5 1490.6,452.5" fill="#1c476c" stroke="#ffffff" stroke-width="0.9" stroke-linejoin="round" />
<polygon points="1490.6,452.5 1512.2,440 1491.4,428 1469.8,440.5" fill="#1c476c" stroke="#ffffff" stroke-width="0.9" stroke-linejoin="round" />
<polyline points="1501.8,434 1480.2,446.5 1480.2,471" fill="none" stroke="#e4572e" stroke-width="2" stroke-linejoin="round" stroke-linecap="round" stroke-linecap="butt"/>
<polygon points="1471.4,443.4 1477.7,447 1477.7,451.9 1471.4,448.3" fill="#e9edf2" stroke="none" stroke-width="0" stroke-linejoin="round" />
<polygon points="1501.4,465.9 1510,460.9 1510,463.8 1501.4,468.8" fill="#9fb2c6" stroke="none" stroke-width="0" stroke-linejoin="round" />
<polygon points="1513.9,389.5 1546.9,408.5 1490.6,441 1457.6,422" fill="none" stroke="#dfe6ee" stroke-width="1" stroke-linejoin="round" />
<polyline points="1457.6,425.5 1490.6,444.5 1546.9,412" fill="none" stroke="#dfe6ee" stroke-width="1" stroke-linejoin="round" stroke-linecap="round" />
<polygon points="1515.7,419.5 1537.3,407 1537.3,382.5 1515.7,395" fill="#1c476c" stroke="#ffffff" stroke-width="0.9" stroke-linejoin="round" />
<polygon points="1515.7,419.5 1494.9,407.5 1494.9,383 1515.7,395" fill="#1c476c" stroke="#ffffff" stroke-width="0.9" stroke-linejoin="round" />
<polygon points="1515.7,395 1537.3,382.5 1516.5,370.5 1494.9,383" fill="#1c476c" stroke="#ffffff" stroke-width="0.9" stroke-linejoin="round" />
<polyline points="1526.9,376.5 1505.3,389 1505.3,413.5" fill="none" stroke="#e4572e" stroke-width="2" stroke-linejoin="round" stroke-linecap="round" stroke-linecap="butt"/>
<polygon points="1496.6,385.9 1502.8,389.5 1502.8,394.4 1496.6,390.8" fill="#e9edf2" stroke="none" stroke-width="0" stroke-linejoin="round" />
<polygon points="1526.5,408.4 1535.2,403.4 1535.2,406.3 1526.5,411.3" fill="#9fb2c6" stroke="none" stroke-width="0" stroke-linejoin="round" />
<polygon points="1490.6,434 1512.2,421.5 1512.2,397 1490.6,409.5" fill="#1c476c" stroke="#ffffff" stroke-width="0.9" stroke-linejoin="round" />
<polygon points="1490.6,434 1469.8,422 1469.8,397.5 1490.6,409.5" fill="#1c476c" stroke="#ffffff" stroke-width="0.9" stroke-linejoin="round" />
<polygon points="1490.6,409.5 1512.2,397 1491.4,385 1469.8,397.5" fill="#1c476c" stroke="#ffffff" stroke-width="0.9" stroke-linejoin="round" />
<polyline points="1501.8,391 1480.2,403.5 1480.2,428" fill="none" stroke="#e4572e" stroke-width="2" stroke-linejoin="round" stroke-linecap="round" stroke-linecap="butt"/>
<polygon points="1471.4,400.4 1477.7,404 1477.7,408.9 1471.4,405.3" fill="#e9edf2" stroke="none" stroke-width="0" stroke-linejoin="round" />
<polygon points="1501.4,422.9 1510,417.9 1510,420.8 1501.4,425.8" fill="#9fb2c6" stroke="none" stroke-width="0" stroke-linejoin="round" />
<polyline points="1457.6,465 1490.6,527" fill="none" stroke="#dde2e8" stroke-width="2.2" stroke-linejoin="round" stroke-linecap="round" />
<polyline points="1457.6,422 1490.6,484" fill="none" stroke="#dde2e8" stroke-width="2.2" stroke-linejoin="round" stroke-linecap="round" />
<polyline points="1457.6,508 1490.6,505" fill="none" stroke="#dde2e8" stroke-width="2.2" stroke-linejoin="round" stroke-linecap="round" />
<polyline points="1457.6,516 1457.6,383" fill="none" stroke="#dde2e8" stroke-width="3.2" stroke-linejoin="round" stroke-linecap="round" stroke-linecap="butt"/>
<polyline points="1490.6,535 1490.6,402" fill="none" stroke="#dde2e8" stroke-width="3.2" stroke-linejoin="round" stroke-linecap="round" stroke-linecap="butt"/>
<polyline points="1490.6,535 1490.6,402" fill="none" stroke="#8398ae" stroke-width="1" stroke-linejoin="round" stroke-linecap="round" stroke-dasharray="1.2 1.8" stroke-linecap="butt"/>
<rect x="1488.1" y="534" width="5" height="2.5" fill="#dde2e8"/>
<rect x="1455.1" y="515" width="5" height="2.5" fill="#dde2e8"/>
<rect x="1544.4" y="501.5" width="5" height="2.5" fill="#dde2e8"/>
<polygon points="1578.9,521 1620.5,545 1564.2,577.5 1522.6,553.5" fill="#0e2238" stroke="none" stroke-width="0" stroke-linejoin="round" />
<polyline points="1578.9,521 1578.9,388" fill="none" stroke="#dde2e8" stroke-width="3.2" stroke-linejoin="round" stroke-linecap="round" stroke-linecap="butt"/>
<polyline points="1578.9,521 1578.9,388" fill="none" stroke="#8398ae" stroke-width="1" stroke-linejoin="round" stroke-linecap="round" stroke-dasharray="1.2 1.8" stroke-linecap="butt"/>
<polyline points="1611.8,540 1611.8,407" fill="none" stroke="#dde2e8" stroke-width="3.2" stroke-linejoin="round" stroke-linecap="round" stroke-linecap="butt"/>
<polyline points="1522.6,553.5 1522.6,420.5" fill="none" stroke="#dde2e8" stroke-width="3.2" stroke-linejoin="round" stroke-linecap="round" stroke-linecap="butt"/>
<polygon points="1578.9,513 1611.8,532 1555.5,564.5 1522.6,545.5" fill="none" stroke="#dfe6ee" stroke-width="1" stroke-linejoin="round" />
<polyline points="1522.6,549 1555.5,568 1611.8,535.5" fill="none" stroke="#dfe6ee" stroke-width="1" stroke-linejoin="round" stroke-linecap="round" />
<polygon points="1580.6,543 1602.3,530.5 1602.3,506 1580.6,518.5" fill="#1c476c" stroke="#ffffff" stroke-width="0.9" stroke-linejoin="round" />
<polygon points="1580.6,543 1559.8,531 1559.8,506.5 1580.6,518.5" fill="#1c476c" stroke="#ffffff" stroke-width="0.9" stroke-linejoin="round" />
<polygon points="1580.6,518.5 1602.3,506 1581.5,494 1559.8,506.5" fill="#1c476c" stroke="#ffffff" stroke-width="0.9" stroke-linejoin="round" />
<polyline points="1591.9,500 1570.2,512.5 1570.2,537" fill="none" stroke="#e4572e" stroke-width="2" stroke-linejoin="round" stroke-linecap="round" stroke-linecap="butt"/>
<polygon points="1561.5,509.4 1567.7,513 1567.7,517.9 1561.5,514.3" fill="#e9edf2" stroke="none" stroke-width="0" stroke-linejoin="round" />
<polygon points="1591.5,531.9 1600.1,526.9 1600.1,529.8 1591.5,534.8" fill="#9fb2c6" stroke="none" stroke-width="0" stroke-linejoin="round" />
<polygon points="1555.5,557.5 1577.2,545 1577.2,520.5 1555.5,533" fill="#1c476c" stroke="#ffffff" stroke-width="0.9" stroke-linejoin="round" />
<polygon points="1555.5,557.5 1534.7,545.5 1534.7,521 1555.5,533" fill="#1c476c" stroke="#ffffff" stroke-width="0.9" stroke-linejoin="round" />
<polygon points="1555.5,533 1577.2,520.5 1556.4,508.5 1534.7,521" fill="#1c476c" stroke="#ffffff" stroke-width="0.9" stroke-linejoin="round" />
<polyline points="1566.8,514.5 1545.1,527 1545.1,551.5" fill="none" stroke="#e4572e" stroke-width="2" stroke-linejoin="round" stroke-linecap="round" stroke-linecap="butt"/>
<polygon points="1536.4,523.9 1542.6,527.5 1542.6,532.4 1536.4,528.8" fill="#e9edf2" stroke="none" stroke-width="0" stroke-linejoin="round" />
<polygon points="1566.3,546.4 1575,541.4 1575,544.3 1566.3,549.3" fill="#9fb2c6" stroke="none" stroke-width="0" stroke-linejoin="round" />
<polygon points="1578.9,470 1611.8,489 1555.5,521.5 1522.6,502.5" fill="none" stroke="#dfe6ee" stroke-width="1" stroke-linejoin="round" />
<polyline points="1522.6,506 1555.5,525 1611.8,492.5" fill="none" stroke="#dfe6ee" stroke-width="1" stroke-linejoin="round" stroke-linecap="round" />
<polygon points="1580.6,500 1602.3,487.5 1602.3,463 1580.6,475.5" fill="#1c476c" stroke="#ffffff" stroke-width="0.9" stroke-linejoin="round" />
<polygon points="1580.6,500 1559.8,488 1559.8,463.5 1580.6,475.5" fill="#1c476c" stroke="#ffffff" stroke-width="0.9" stroke-linejoin="round" />
<polygon points="1580.6,475.5 1602.3,463 1581.5,451 1559.8,463.5" fill="#1c476c" stroke="#ffffff" stroke-width="0.9" stroke-linejoin="round" />
<polyline points="1591.9,457 1570.2,469.5 1570.2,494" fill="none" stroke="#e4572e" stroke-width="2" stroke-linejoin="round" stroke-linecap="round" stroke-linecap="butt"/>
<polygon points="1561.5,466.4 1567.7,470 1567.7,474.9 1561.5,471.3" fill="#e9edf2" stroke="none" stroke-width="0" stroke-linejoin="round" />
<polygon points="1591.5,488.9 1600.1,483.9 1600.1,486.8 1591.5,491.8" fill="#9fb2c6" stroke="none" stroke-width="0" stroke-linejoin="round" />
<polygon points="1555.5,514.5 1577.2,502 1577.2,477.5 1555.5,490" fill="#1c476c" stroke="#ffffff" stroke-width="0.9" stroke-linejoin="round" />
<polygon points="1555.5,514.5 1534.7,502.5 1534.7,478 1555.5,490" fill="#1c476c" stroke="#ffffff" stroke-width="0.9" stroke-linejoin="round" />
<polygon points="1555.5,490 1577.2,477.5 1556.4,465.5 1534.7,478" fill="#1c476c" stroke="#ffffff" stroke-width="0.9" stroke-linejoin="round" />
<polyline points="1566.8,471.5 1545.1,484 1545.1,508.5" fill="none" stroke="#e4572e" stroke-width="2" stroke-linejoin="round" stroke-linecap="round" stroke-linecap="butt"/>
<polygon points="1536.4,480.9 1542.6,484.5 1542.6,489.4 1536.4,485.8" fill="#e9edf2" stroke="none" stroke-width="0" stroke-linejoin="round" />
<polygon points="1566.3,503.4 1575,498.4 1575,501.3 1566.3,506.3" fill="#9fb2c6" stroke="none" stroke-width="0" stroke-linejoin="round" />
<polygon points="1578.9,427 1611.8,446 1555.5,478.5 1522.6,459.5" fill="none" stroke="#dfe6ee" stroke-width="1" stroke-linejoin="round" />
<polyline points="1522.6,463 1555.5,482 1611.8,449.5" fill="none" stroke="#dfe6ee" stroke-width="1" stroke-linejoin="round" stroke-linecap="round" />
<polygon points="1580.6,457 1602.3,444.5 1602.3,420 1580.6,432.5" fill="#1c476c" stroke="#ffffff" stroke-width="0.9" stroke-linejoin="round" />
<polygon points="1580.6,457 1559.8,445 1559.8,420.5 1580.6,432.5" fill="#1c476c" stroke="#ffffff" stroke-width="0.9" stroke-linejoin="round" />
<polygon points="1580.6,432.5 1602.3,420 1581.5,408 1559.8,420.5" fill="#1c476c" stroke="#ffffff" stroke-width="0.9" stroke-linejoin="round" />
<polyline points="1591.9,414 1570.2,426.5 1570.2,451" fill="none" stroke="#e4572e" stroke-width="2" stroke-linejoin="round" stroke-linecap="round" stroke-linecap="butt"/>
<polygon points="1561.5,423.4 1567.7,427 1567.7,431.9 1561.5,428.3" fill="#e9edf2" stroke="none" stroke-width="0" stroke-linejoin="round" />
<polygon points="1591.5,445.9 1600.1,440.9 1600.1,443.8 1591.5,448.8" fill="#9fb2c6" stroke="none" stroke-width="0" stroke-linejoin="round" />
<polygon points="1555.5,471.5 1577.2,459 1577.2,434.5 1555.5,447" fill="#1c476c" stroke="#ffffff" stroke-width="0.9" stroke-linejoin="round" />
<polygon points="1555.5,471.5 1534.7,459.5 1534.7,435 1555.5,447" fill="#1c476c" stroke="#ffffff" stroke-width="0.9" stroke-linejoin="round" />
<polygon points="1555.5,447 1577.2,434.5 1556.4,422.5 1534.7,435" fill="#1c476c" stroke="#ffffff" stroke-width="0.9" stroke-linejoin="round" />
<polyline points="1566.8,428.5 1545.1,441 1545.1,465.5" fill="none" stroke="#e4572e" stroke-width="2" stroke-linejoin="round" stroke-linecap="round" stroke-linecap="butt"/>
<polygon points="1536.4,437.9 1542.6,441.5 1542.6,446.4 1536.4,442.8" fill="#e9edf2" stroke="none" stroke-width="0" stroke-linejoin="round" />
<polygon points="1566.3,460.4 1575,455.4 1575,458.3 1566.3,463.3" fill="#9fb2c6" stroke="none" stroke-width="0" stroke-linejoin="round" />
<polyline points="1522.6,502.5 1555.5,564.5" fill="none" stroke="#dde2e8" stroke-width="2.2" stroke-linejoin="round" stroke-linecap="round" />
<polyline points="1522.6,459.5 1555.5,521.5" fill="none" stroke="#dde2e8" stroke-width="2.2" stroke-linejoin="round" stroke-linecap="round" />
<polyline points="1522.6,545.5 1555.5,542.5" fill="none" stroke="#dde2e8" stroke-width="2.2" stroke-linejoin="round" stroke-linecap="round" />
<polyline points="1522.6,553.5 1522.6,420.5" fill="none" stroke="#dde2e8" stroke-width="3.2" stroke-linejoin="round" stroke-linecap="round" stroke-linecap="butt"/>
<polyline points="1555.5,572.5 1555.5,439.5" fill="none" stroke="#dde2e8" stroke-width="3.2" stroke-linejoin="round" stroke-linecap="round" stroke-linecap="butt"/>
<polyline points="1555.5,572.5 1555.5,439.5" fill="none" stroke="#8398ae" stroke-width="1" stroke-linejoin="round" stroke-linecap="round" stroke-dasharray="1.2 1.8" stroke-linecap="butt"/>
<rect x="1553" y="571.5" width="5" height="2.5" fill="#dde2e8"/>
<rect x="1520.1" y="552.5" width="5" height="2.5" fill="#dde2e8"/>
<rect x="1609.3" y="539" width="5" height="2.5" fill="#dde2e8"/>
<polygon points="1164.9,385 1206.5,409 1150.2,441.5 1108.6,417.5" fill="#0e2238" stroke="none" stroke-width="0" stroke-linejoin="round" />
<polyline points="1164.9,385 1164.9,252" fill="none" stroke="#dde2e8" stroke-width="3.2" stroke-linejoin="round" stroke-linecap="round" stroke-linecap="butt"/>
<polyline points="1164.9,385 1164.9,252" fill="none" stroke="#8398ae" stroke-width="1" stroke-linejoin="round" stroke-linecap="round" stroke-dasharray="1.2 1.8" stroke-linecap="butt"/>
<polyline points="1197.8,404 1197.8,271" fill="none" stroke="#dde2e8" stroke-width="3.2" stroke-linejoin="round" stroke-linecap="round" stroke-linecap="butt"/>
<polyline points="1108.6,417.5 1108.6,284.5" fill="none" stroke="#dde2e8" stroke-width="3.2" stroke-linejoin="round" stroke-linecap="round" stroke-linecap="butt"/>
<polygon points="1164.9,377 1197.8,396 1141.6,428.5 1108.6,409.5" fill="none" stroke="#dfe6ee" stroke-width="1" stroke-linejoin="round" />
<polyline points="1108.6,413 1141.6,432 1197.8,399.5" fill="none" stroke="#dfe6ee" stroke-width="1" stroke-linejoin="round" stroke-linecap="round" />
<polygon points="1166.7,407 1188.3,394.5 1188.3,370 1166.7,382.5" fill="#1c476c" stroke="#ffffff" stroke-width="0.9" stroke-linejoin="round" />
<polygon points="1166.7,407 1145.9,395 1145.9,370.5 1166.7,382.5" fill="#1c476c" stroke="#ffffff" stroke-width="0.9" stroke-linejoin="round" />
<polygon points="1166.7,382.5 1188.3,370 1167.5,358 1145.9,370.5" fill="#1c476c" stroke="#ffffff" stroke-width="0.9" stroke-linejoin="round" />
<polyline points="1177.9,364 1156.3,376.5 1156.3,401" fill="none" stroke="#e4572e" stroke-width="2" stroke-linejoin="round" stroke-linecap="round" stroke-linecap="butt"/>
<polygon points="1147.5,373.4 1153.8,377 1153.8,381.9 1147.5,378.3" fill="#e9edf2" stroke="none" stroke-width="0" stroke-linejoin="round" />
<polygon points="1177.5,395.9 1186.2,390.9 1186.2,393.8 1177.5,398.8" fill="#9fb2c6" stroke="none" stroke-width="0" stroke-linejoin="round" />
<polygon points="1141.6,421.5 1163.2,409 1163.2,384.5 1141.6,397" fill="#1c476c" stroke="#ffffff" stroke-width="0.9" stroke-linejoin="round" />
<polygon points="1141.6,421.5 1120.8,409.5 1120.8,385 1141.6,397" fill="#1c476c" stroke="#ffffff" stroke-width="0.9" stroke-linejoin="round" />
<polygon points="1141.6,397 1163.2,384.5 1142.4,372.5 1120.8,385" fill="#1c476c" stroke="#ffffff" stroke-width="0.9" stroke-linejoin="round" />
<polyline points="1152.8,378.5 1131.2,391 1131.2,415.5" fill="none" stroke="#e4572e" stroke-width="2" stroke-linejoin="round" stroke-linecap="round" stroke-linecap="butt"/>
<polygon points="1122.4,387.9 1128.7,391.5 1128.7,396.4 1122.4,392.8" fill="#e9edf2" stroke="none" stroke-width="0" stroke-linejoin="round" />
<polygon points="1152.4,410.4 1161,405.4 1161,408.3 1152.4,413.3" fill="#9fb2c6" stroke="none" stroke-width="0" stroke-linejoin="round" />
<polygon points="1164.9,334 1197.8,353 1141.6,385.5 1108.6,366.5" fill="none" stroke="#dfe6ee" stroke-width="1" stroke-linejoin="round" />
<polyline points="1108.6,370 1141.6,389 1197.8,356.5" fill="none" stroke="#dfe6ee" stroke-width="1" stroke-linejoin="round" stroke-linecap="round" />
<polygon points="1166.7,364 1188.3,351.5 1188.3,327 1166.7,339.5" fill="#1c476c" stroke="#ffffff" stroke-width="0.9" stroke-linejoin="round" />
<polygon points="1166.7,364 1145.9,352 1145.9,327.5 1166.7,339.5" fill="#1c476c" stroke="#ffffff" stroke-width="0.9" stroke-linejoin="round" />
<polygon points="1166.7,339.5 1188.3,327 1167.5,315 1145.9,327.5" fill="#1c476c" stroke="#ffffff" stroke-width="0.9" stroke-linejoin="round" />
<polyline points="1177.9,321 1156.3,333.5 1156.3,358" fill="none" stroke="#e4572e" stroke-width="2" stroke-linejoin="round" stroke-linecap="round" stroke-linecap="butt"/>
<polygon points="1147.5,330.4 1153.8,334 1153.8,338.9 1147.5,335.3" fill="#e9edf2" stroke="none" stroke-width="0" stroke-linejoin="round" />
<polygon points="1177.5,352.9 1186.2,347.9 1186.2,350.8 1177.5,355.8" fill="#9fb2c6" stroke="none" stroke-width="0" stroke-linejoin="round" />
<polygon points="1141.6,378.5 1163.2,366 1163.2,341.5 1141.6,354" fill="#1c476c" stroke="#ffffff" stroke-width="0.9" stroke-linejoin="round" />
<polygon points="1141.6,378.5 1120.8,366.5 1120.8,342 1141.6,354" fill="#1c476c" stroke="#ffffff" stroke-width="0.9" stroke-linejoin="round" />
<polygon points="1141.6,354 1163.2,341.5 1142.4,329.5 1120.8,342" fill="#1c476c" stroke="#ffffff" stroke-width="0.9" stroke-linejoin="round" />
<polyline points="1152.8,335.5 1131.2,348 1131.2,372.5" fill="none" stroke="#e4572e" stroke-width="2" stroke-linejoin="round" stroke-linecap="round" stroke-linecap="butt"/>
<polygon points="1122.4,344.9 1128.7,348.5 1128.7,353.4 1122.4,349.8" fill="#e9edf2" stroke="none" stroke-width="0" stroke-linejoin="round" />
<polygon points="1152.4,367.4 1161,362.4 1161,365.3 1152.4,370.3" fill="#9fb2c6" stroke="none" stroke-width="0" stroke-linejoin="round" />
<polygon points="1164.9,291 1197.8,310 1141.6,342.5 1108.6,323.5" fill="none" stroke="#dfe6ee" stroke-width="1" stroke-linejoin="round" />
<polyline points="1108.6,327 1141.6,346 1197.8,313.5" fill="none" stroke="#dfe6ee" stroke-width="1" stroke-linejoin="round" stroke-linecap="round" />
<polygon points="1166.7,321 1188.3,308.5 1188.3,284 1166.7,296.5" fill="#1c476c" stroke="#ffffff" stroke-width="0.9" stroke-linejoin="round" />
<polygon points="1166.7,321 1145.9,309 1145.9,284.5 1166.7,296.5" fill="#1c476c" stroke="#ffffff" stroke-width="0.9" stroke-linejoin="round" />
<polygon points="1166.7,296.5 1188.3,284 1167.5,272 1145.9,284.5" fill="#1c476c" stroke="#ffffff" stroke-width="0.9" stroke-linejoin="round" />
<polyline points="1177.9,278 1156.3,290.5 1156.3,315" fill="none" stroke="#e4572e" stroke-width="2" stroke-linejoin="round" stroke-linecap="round" stroke-linecap="butt"/>
<polygon points="1147.5,287.4 1153.8,291 1153.8,295.9 1147.5,292.3" fill="#e9edf2" stroke="none" stroke-width="0" stroke-linejoin="round" />
<polygon points="1177.5,309.9 1186.2,304.9 1186.2,307.8 1177.5,312.8" fill="#9fb2c6" stroke="none" stroke-width="0" stroke-linejoin="round" />
<polygon points="1141.6,335.5 1163.2,323 1163.2,298.5 1141.6,311" fill="#1c476c" stroke="#ffffff" stroke-width="0.9" stroke-linejoin="round" />
<polygon points="1141.6,335.5 1120.8,323.5 1120.8,299 1141.6,311" fill="#1c476c" stroke="#ffffff" stroke-width="0.9" stroke-linejoin="round" />
<polygon points="1141.6,311 1163.2,298.5 1142.4,286.5 1120.8,299" fill="#1c476c" stroke="#ffffff" stroke-width="0.9" stroke-linejoin="round" />
<polyline points="1152.8,292.5 1131.2,305 1131.2,329.5" fill="none" stroke="#e4572e" stroke-width="2" stroke-linejoin="round" stroke-linecap="round" stroke-linecap="butt"/>
<polygon points="1122.4,301.9 1128.7,305.5 1128.7,310.4 1122.4,306.8" fill="#e9edf2" stroke="none" stroke-width="0" stroke-linejoin="round" />
<polygon points="1152.4,324.4 1161,319.4 1161,322.3 1152.4,327.3" fill="#9fb2c6" stroke="none" stroke-width="0" stroke-linejoin="round" />
<polyline points="1108.6,366.5 1141.6,428.5" fill="none" stroke="#dde2e8" stroke-width="2.2" stroke-linejoin="round" stroke-linecap="round" />
<polyline points="1108.6,323.5 1141.6,385.5" fill="none" stroke="#dde2e8" stroke-width="2.2" stroke-linejoin="round" stroke-linecap="round" />
<polyline points="1108.6,409.5 1141.6,406.5" fill="none" stroke="#dde2e8" stroke-width="2.2" stroke-linejoin="round" stroke-linecap="round" />
<polyline points="1108.6,417.5 1108.6,284.5" fill="none" stroke="#dde2e8" stroke-width="3.2" stroke-linejoin="round" stroke-linecap="round" stroke-linecap="butt"/>
<polyline points="1141.6,436.5 1141.6,303.5" fill="none" stroke="#dde2e8" stroke-width="3.2" stroke-linejoin="round" stroke-linecap="round" stroke-linecap="butt"/>
<polyline points="1141.6,436.5 1141.6,303.5" fill="none" stroke="#8398ae" stroke-width="1" stroke-linejoin="round" stroke-linecap="round" stroke-dasharray="1.2 1.8" stroke-linecap="butt"/>
<rect x="1139.1" y="435.5" width="5" height="2.5" fill="#dde2e8"/>
<rect x="1106.1" y="416.5" width="5" height="2.5" fill="#dde2e8"/>
<rect x="1195.3" y="403" width="5" height="2.5" fill="#dde2e8"/>
<polygon points="1229.9,422.5 1271.5,446.5 1215.2,479 1173.6,455" fill="#0e2238" stroke="none" stroke-width="0" stroke-linejoin="round" />
<polyline points="1229.9,422.5 1229.9,289.5" fill="none" stroke="#dde2e8" stroke-width="3.2" stroke-linejoin="round" stroke-linecap="round" stroke-linecap="butt"/>
<polyline points="1229.9,422.5 1229.9,289.5" fill="none" stroke="#8398ae" stroke-width="1" stroke-linejoin="round" stroke-linecap="round" stroke-dasharray="1.2 1.8" stroke-linecap="butt"/>
<polyline points="1262.8,441.5 1262.8,308.5" fill="none" stroke="#dde2e8" stroke-width="3.2" stroke-linejoin="round" stroke-linecap="round" stroke-linecap="butt"/>
<polyline points="1173.6,455 1173.6,322" fill="none" stroke="#dde2e8" stroke-width="3.2" stroke-linejoin="round" stroke-linecap="round" stroke-linecap="butt"/>
<polygon points="1229.9,414.5 1262.8,433.5 1206.5,466 1173.6,447" fill="none" stroke="#dfe6ee" stroke-width="1" stroke-linejoin="round" />
<polyline points="1173.6,450.5 1206.5,469.5 1262.8,437" fill="none" stroke="#dfe6ee" stroke-width="1" stroke-linejoin="round" stroke-linecap="round" />
<polygon points="1231.6,444.5 1253.3,432 1253.3,407.5 1231.6,420" fill="#1c476c" stroke="#ffffff" stroke-width="0.9" stroke-linejoin="round" />
<polygon points="1231.6,444.5 1210.8,432.5 1210.8,408 1231.6,420" fill="#1c476c" stroke="#ffffff" stroke-width="0.9" stroke-linejoin="round" />
<polygon points="1231.6,420 1253.3,407.5 1232.5,395.5 1210.8,408" fill="#1c476c" stroke="#ffffff" stroke-width="0.9" stroke-linejoin="round" />
<polyline points="1242.9,401.5 1221.2,414 1221.2,438.5" fill="none" stroke="#e4572e" stroke-width="2" stroke-linejoin="round" stroke-linecap="round" stroke-linecap="butt"/>
<polygon points="1212.5,410.9 1218.7,414.5 1218.7,419.4 1212.5,415.8" fill="#e9edf2" stroke="none" stroke-width="0" stroke-linejoin="round" />
<polygon points="1242.4,433.4 1251.1,428.4 1251.1,431.3 1242.4,436.3" fill="#9fb2c6" stroke="none" stroke-width="0" stroke-linejoin="round" />
<polygon points="1206.5,459 1228.2,446.5 1228.2,422 1206.5,434.5" fill="#1c476c" stroke="#ffffff" stroke-width="0.9" stroke-linejoin="round" />
<polygon points="1206.5,459 1185.7,447 1185.7,422.5 1206.5,434.5" fill="#1c476c" stroke="#ffffff" stroke-width="0.9" stroke-linejoin="round" />
<polygon points="1206.5,434.5 1228.2,422 1207.4,410 1185.7,422.5" fill="#1c476c" stroke="#ffffff" stroke-width="0.9" stroke-linejoin="round" />
<polyline points="1217.8,416 1196.1,428.5 1196.1,453" fill="none" stroke="#e4572e" stroke-width="2" stroke-linejoin="round" stroke-linecap="round" stroke-linecap="butt"/>
<polygon points="1187.4,425.4 1193.6,429 1193.6,433.9 1187.4,430.3" fill="#e9edf2" stroke="none" stroke-width="0" stroke-linejoin="round" />
<polygon points="1217.3,447.9 1226,442.9 1226,445.8 1217.3,450.8" fill="#9fb2c6" stroke="none" stroke-width="0" stroke-linejoin="round" />
<polygon points="1229.9,371.5 1262.8,390.5 1206.5,423 1173.6,404" fill="none" stroke="#dfe6ee" stroke-width="1" stroke-linejoin="round" />
<polyline points="1173.6,407.5 1206.5,426.5 1262.8,394" fill="none" stroke="#dfe6ee" stroke-width="1" stroke-linejoin="round" stroke-linecap="round" />
<polygon points="1231.6,401.5 1253.3,389 1253.3,364.5 1231.6,377" fill="#1c476c" stroke="#ffffff" stroke-width="0.9" stroke-linejoin="round" />
<polygon points="1231.6,401.5 1210.8,389.5 1210.8,365 1231.6,377" fill="#1c476c" stroke="#ffffff" stroke-width="0.9" stroke-linejoin="round" />
<polygon points="1231.6,377 1253.3,364.5 1232.5,352.5 1210.8,365" fill="#1c476c" stroke="#ffffff" stroke-width="0.9" stroke-linejoin="round" />
<polyline points="1242.9,358.5 1221.2,371 1221.2,395.5" fill="none" stroke="#e4572e" stroke-width="2" stroke-linejoin="round" stroke-linecap="round" stroke-linecap="butt"/>
<polygon points="1212.5,367.9 1218.7,371.5 1218.7,376.4 1212.5,372.8" fill="#e9edf2" stroke="none" stroke-width="0" stroke-linejoin="round" />
<polygon points="1242.4,390.4 1251.1,385.4 1251.1,388.3 1242.4,393.3" fill="#9fb2c6" stroke="none" stroke-width="0" stroke-linejoin="round" />
<polygon points="1206.5,416 1228.2,403.5 1228.2,379 1206.5,391.5" fill="#1c476c" stroke="#ffffff" stroke-width="0.9" stroke-linejoin="round" />
<polygon points="1206.5,416 1185.7,404 1185.7,379.5 1206.5,391.5" fill="#1c476c" stroke="#ffffff" stroke-width="0.9" stroke-linejoin="round" />
<polygon points="1206.5,391.5 1228.2,379 1207.4,367 1185.7,379.5" fill="#1c476c" stroke="#ffffff" stroke-width="0.9" stroke-linejoin="round" />
<polyline points="1217.8,373 1196.1,385.5 1196.1,410" fill="none" stroke="#e4572e" stroke-width="2" stroke-linejoin="round" stroke-linecap="round" stroke-linecap="butt"/>
<polygon points="1187.4,382.4 1193.6,386 1193.6,390.9 1187.4,387.3" fill="#e9edf2" stroke="none" stroke-width="0" stroke-linejoin="round" />
<polygon points="1217.3,404.9 1226,399.9 1226,402.8 1217.3,407.8" fill="#9fb2c6" stroke="none" stroke-width="0" stroke-linejoin="round" />
<polygon points="1229.9,328.5 1262.8,347.5 1206.5,380 1173.6,361" fill="none" stroke="#dfe6ee" stroke-width="1" stroke-linejoin="round" />
<polyline points="1173.6,364.5 1206.5,383.5 1262.8,351" fill="none" stroke="#dfe6ee" stroke-width="1" stroke-linejoin="round" stroke-linecap="round" />
<polygon points="1231.6,358.5 1253.3,346 1253.3,321.5 1231.6,334" fill="#1c476c" stroke="#ffffff" stroke-width="0.9" stroke-linejoin="round" />
<polygon points="1231.6,358.5 1210.8,346.5 1210.8,322 1231.6,334" fill="#1c476c" stroke="#ffffff" stroke-width="0.9" stroke-linejoin="round" />
<polygon points="1231.6,334 1253.3,321.5 1232.5,309.5 1210.8,322" fill="#1c476c" stroke="#ffffff" stroke-width="0.9" stroke-linejoin="round" />
<polyline points="1242.9,315.5 1221.2,328 1221.2,352.5" fill="none" stroke="#e4572e" stroke-width="2" stroke-linejoin="round" stroke-linecap="round" stroke-linecap="butt"/>
<polygon points="1212.5,324.9 1218.7,328.5 1218.7,333.4 1212.5,329.8" fill="#e9edf2" stroke="none" stroke-width="0" stroke-linejoin="round" />
<polygon points="1242.4,347.4 1251.1,342.4 1251.1,345.3 1242.4,350.3" fill="#9fb2c6" stroke="none" stroke-width="0" stroke-linejoin="round" />
<polygon points="1206.5,373 1228.2,360.5 1228.2,336 1206.5,348.5" fill="#1c476c" stroke="#ffffff" stroke-width="0.9" stroke-linejoin="round" />
<polygon points="1206.5,373 1185.7,361 1185.7,336.5 1206.5,348.5" fill="#1c476c" stroke="#ffffff" stroke-width="0.9" stroke-linejoin="round" />
<polygon points="1206.5,348.5 1228.2,336 1207.4,324 1185.7,336.5" fill="#1c476c" stroke="#ffffff" stroke-width="0.9" stroke-linejoin="round" />
<polyline points="1217.8,330 1196.1,342.5 1196.1,367" fill="none" stroke="#e4572e" stroke-width="2" stroke-linejoin="round" stroke-linecap="round" stroke-linecap="butt"/>
<polygon points="1187.4,339.4 1193.6,343 1193.6,347.9 1187.4,344.3" fill="#e9edf2" stroke="none" stroke-width="0" stroke-linejoin="round" />
<polygon points="1217.3,361.9 1226,356.9 1226,359.8 1217.3,364.8" fill="#9fb2c6" stroke="none" stroke-width="0" stroke-linejoin="round" />
<polyline points="1173.6,404 1206.5,466" fill="none" stroke="#dde2e8" stroke-width="2.2" stroke-linejoin="round" stroke-linecap="round" />
<polyline points="1173.6,361 1206.5,423" fill="none" stroke="#dde2e8" stroke-width="2.2" stroke-linejoin="round" stroke-linecap="round" />
<polyline points="1173.6,447 1206.5,444" fill="none" stroke="#dde2e8" stroke-width="2.2" stroke-linejoin="round" stroke-linecap="round" />
<polyline points="1173.6,455 1173.6,322" fill="none" stroke="#dde2e8" stroke-width="3.2" stroke-linejoin="round" stroke-linecap="round" stroke-linecap="butt"/>
<polyline points="1206.5,474 1206.5,341" fill="none" stroke="#dde2e8" stroke-width="3.2" stroke-linejoin="round" stroke-linecap="round" stroke-linecap="butt"/>
<polyline points="1206.5,474 1206.5,341" fill="none" stroke="#8398ae" stroke-width="1" stroke-linejoin="round" stroke-linecap="round" stroke-dasharray="1.2 1.8" stroke-linecap="butt"/>
<rect x="1204" y="473" width="5" height="2.5" fill="#dde2e8"/>
<rect x="1171.1" y="454" width="5" height="2.5" fill="#dde2e8"/>
<rect x="1260.3" y="440.5" width="5" height="2.5" fill="#dde2e8"/>
<polygon points="1294.8,460 1336.4,484 1280.1,516.5 1238.5,492.5" fill="#0e2238" stroke="none" stroke-width="0" stroke-linejoin="round" />
<polyline points="1294.8,460 1294.8,327" fill="none" stroke="#dde2e8" stroke-width="3.2" stroke-linejoin="round" stroke-linecap="round" stroke-linecap="butt"/>
<polyline points="1294.8,460 1294.8,327" fill="none" stroke="#8398ae" stroke-width="1" stroke-linejoin="round" stroke-linecap="round" stroke-dasharray="1.2 1.8" stroke-linecap="butt"/>
<polyline points="1327.7,479 1327.7,346" fill="none" stroke="#dde2e8" stroke-width="3.2" stroke-linejoin="round" stroke-linecap="round" stroke-linecap="butt"/>
<polyline points="1238.5,492.5 1238.5,359.5" fill="none" stroke="#dde2e8" stroke-width="3.2" stroke-linejoin="round" stroke-linecap="round" stroke-linecap="butt"/>
<polygon points="1294.8,452 1327.7,471 1271.5,503.5 1238.5,484.5" fill="none" stroke="#dfe6ee" stroke-width="1" stroke-linejoin="round" />
<polyline points="1238.5,488 1271.5,507 1327.7,474.5" fill="none" stroke="#dfe6ee" stroke-width="1" stroke-linejoin="round" stroke-linecap="round" />
<polygon points="1296.6,482 1318.2,469.5 1318.2,445 1296.6,457.5" fill="#1c476c" stroke="#ffffff" stroke-width="0.9" stroke-linejoin="round" />
<polygon points="1296.6,482 1275.8,470 1275.8,445.5 1296.6,457.5" fill="#1c476c" stroke="#ffffff" stroke-width="0.9" stroke-linejoin="round" />
<polygon points="1296.6,457.5 1318.2,445 1297.4,433 1275.8,445.5" fill="#1c476c" stroke="#ffffff" stroke-width="0.9" stroke-linejoin="round" />
<polyline points="1307.8,439 1286.2,451.5 1286.2,476" fill="none" stroke="#e4572e" stroke-width="2" stroke-linejoin="round" stroke-linecap="round" stroke-linecap="butt"/>
<polygon points="1277.4,448.4 1283.7,452 1283.7,456.9 1277.4,453.3" fill="#e9edf2" stroke="none" stroke-width="0" stroke-linejoin="round" />
<polygon points="1307.4,470.9 1316.1,465.9 1316.1,468.8 1307.4,473.8" fill="#9fb2c6" stroke="none" stroke-width="0" stroke-linejoin="round" />
<polygon points="1271.5,496.5 1293.1,484 1293.1,459.5 1271.5,472" fill="#1c476c" stroke="#ffffff" stroke-width="0.9" stroke-linejoin="round" />
<polygon points="1271.5,496.5 1250.7,484.5 1250.7,460 1271.5,472" fill="#1c476c" stroke="#ffffff" stroke-width="0.9" stroke-linejoin="round" />
<polygon points="1271.5,472 1293.1,459.5 1272.3,447.5 1250.7,460" fill="#1c476c" stroke="#ffffff" stroke-width="0.9" stroke-linejoin="round" />
<polyline points="1282.7,453.5 1261.1,466 1261.1,490.5" fill="none" stroke="#e4572e" stroke-width="2" stroke-linejoin="round" stroke-linecap="round" stroke-linecap="butt"/>
<polygon points="1252.3,462.9 1258.6,466.5 1258.6,471.4 1252.3,467.8" fill="#e9edf2" stroke="none" stroke-width="0" stroke-linejoin="round" />
<polygon points="1282.3,485.4 1290.9,480.4 1290.9,483.3 1282.3,488.3" fill="#9fb2c6" stroke="none" stroke-width="0" stroke-linejoin="round" />
<polygon points="1294.8,409 1327.7,428 1271.5,460.5 1238.5,441.5" fill="none" stroke="#dfe6ee" stroke-width="1" stroke-linejoin="round" />
<polyline points="1238.5,445 1271.5,464 1327.7,431.5" fill="none" stroke="#dfe6ee" stroke-width="1" stroke-linejoin="round" stroke-linecap="round" />
<polygon points="1296.6,439 1318.2,426.5 1318.2,402 1296.6,414.5" fill="#1c476c" stroke="#ffffff" stroke-width="0.9" stroke-linejoin="round" />
<polygon points="1296.6,439 1275.8,427 1275.8,402.5 1296.6,414.5" fill="#1c476c" stroke="#ffffff" stroke-width="0.9" stroke-linejoin="round" />
<polygon points="1296.6,414.5 1318.2,402 1297.4,390 1275.8,402.5" fill="#1c476c" stroke="#ffffff" stroke-width="0.9" stroke-linejoin="round" />
<polyline points="1307.8,396 1286.2,408.5 1286.2,433" fill="none" stroke="#e4572e" stroke-width="2" stroke-linejoin="round" stroke-linecap="round" stroke-linecap="butt"/>
<polygon points="1277.4,405.4 1283.7,409 1283.7,413.9 1277.4,410.3" fill="#e9edf2" stroke="none" stroke-width="0" stroke-linejoin="round" />
<polygon points="1307.4,427.9 1316.1,422.9 1316.1,425.8 1307.4,430.8" fill="#9fb2c6" stroke="none" stroke-width="0" stroke-linejoin="round" />
<polygon points="1271.5,453.5 1293.1,441 1293.1,416.5 1271.5,429" fill="#1c476c" stroke="#ffffff" stroke-width="0.9" stroke-linejoin="round" />
<polygon points="1271.5,453.5 1250.7,441.5 1250.7,417 1271.5,429" fill="#1c476c" stroke="#ffffff" stroke-width="0.9" stroke-linejoin="round" />
<polygon points="1271.5,429 1293.1,416.5 1272.3,404.5 1250.7,417" fill="#1c476c" stroke="#ffffff" stroke-width="0.9" stroke-linejoin="round" />
<polyline points="1282.7,410.5 1261.1,423 1261.1,447.5" fill="none" stroke="#e4572e" stroke-width="2" stroke-linejoin="round" stroke-linecap="round" stroke-linecap="butt"/>
<polygon points="1252.3,419.9 1258.6,423.5 1258.6,428.4 1252.3,424.8" fill="#e9edf2" stroke="none" stroke-width="0" stroke-linejoin="round" />
<polygon points="1282.3,442.4 1290.9,437.4 1290.9,440.3 1282.3,445.3" fill="#9fb2c6" stroke="none" stroke-width="0" stroke-linejoin="round" />
<polygon points="1294.8,366 1327.7,385 1271.5,417.5 1238.5,398.5" fill="none" stroke="#dfe6ee" stroke-width="1" stroke-linejoin="round" />
<polyline points="1238.5,402 1271.5,421 1327.7,388.5" fill="none" stroke="#dfe6ee" stroke-width="1" stroke-linejoin="round" stroke-linecap="round" />
<polygon points="1296.6,396 1318.2,383.5 1318.2,359 1296.6,371.5" fill="#1c476c" stroke="#ffffff" stroke-width="0.9" stroke-linejoin="round" />
<polygon points="1296.6,396 1275.8,384 1275.8,359.5 1296.6,371.5" fill="#1c476c" stroke="#ffffff" stroke-width="0.9" stroke-linejoin="round" />
<polygon points="1296.6,371.5 1318.2,359 1297.4,347 1275.8,359.5" fill="#1c476c" stroke="#ffffff" stroke-width="0.9" stroke-linejoin="round" />
<polyline points="1307.8,353 1286.2,365.5 1286.2,390" fill="none" stroke="#e4572e" stroke-width="2" stroke-linejoin="round" stroke-linecap="round" stroke-linecap="butt"/>
<polygon points="1277.4,362.4 1283.7,366 1283.7,370.9 1277.4,367.3" fill="#e9edf2" stroke="none" stroke-width="0" stroke-linejoin="round" />
<polygon points="1307.4,384.9 1316.1,379.9 1316.1,382.8 1307.4,387.8" fill="#9fb2c6" stroke="none" stroke-width="0" stroke-linejoin="round" />
<polygon points="1271.5,410.5 1293.1,398 1293.1,373.5 1271.5,386" fill="#1c476c" stroke="#ffffff" stroke-width="0.9" stroke-linejoin="round" />
<polygon points="1271.5,410.5 1250.7,398.5 1250.7,374 1271.5,386" fill="#1c476c" stroke="#ffffff" stroke-width="0.9" stroke-linejoin="round" />
<polygon points="1271.5,386 1293.1,373.5 1272.3,361.5 1250.7,374" fill="#1c476c" stroke="#ffffff" stroke-width="0.9" stroke-linejoin="round" />
<polyline points="1282.7,367.5 1261.1,380 1261.1,404.5" fill="none" stroke="#e4572e" stroke-width="2" stroke-linejoin="round" stroke-linecap="round" stroke-linecap="butt"/>
<polygon points="1252.3,376.9 1258.6,380.5 1258.6,385.4 1252.3,381.8" fill="#e9edf2" stroke="none" stroke-width="0" stroke-linejoin="round" />
<polygon points="1282.3,399.4 1290.9,394.4 1290.9,397.3 1282.3,402.3" fill="#9fb2c6" stroke="none" stroke-width="0" stroke-linejoin="round" />
<polyline points="1238.5,441.5 1271.5,503.5" fill="none" stroke="#dde2e8" stroke-width="2.2" stroke-linejoin="round" stroke-linecap="round" />
<polyline points="1238.5,398.5 1271.5,460.5" fill="none" stroke="#dde2e8" stroke-width="2.2" stroke-linejoin="round" stroke-linecap="round" />
<polyline points="1238.5,484.5 1271.5,481.5" fill="none" stroke="#dde2e8" stroke-width="2.2" stroke-linejoin="round" stroke-linecap="round" />
<polyline points="1238.5,492.5 1238.5,359.5" fill="none" stroke="#dde2e8" stroke-width="3.2" stroke-linejoin="round" stroke-linecap="round" stroke-linecap="butt"/>
<polyline points="1271.5,511.5 1271.5,378.5" fill="none" stroke="#dde2e8" stroke-width="3.2" stroke-linejoin="round" stroke-linecap="round" stroke-linecap="butt"/>
<polyline points="1271.5,511.5 1271.5,378.5" fill="none" stroke="#8398ae" stroke-width="1" stroke-linejoin="round" stroke-linecap="round" stroke-dasharray="1.2 1.8" stroke-linecap="butt"/>
<rect x="1269" y="510.5" width="5" height="2.5" fill="#dde2e8"/>
<rect x="1236" y="491.5" width="5" height="2.5" fill="#dde2e8"/>
<rect x="1325.2" y="478" width="5" height="2.5" fill="#dde2e8"/>
<polygon points="1359.8,497.5 1401.4,521.5 1345.1,554 1303.5,530" fill="#0e2238" stroke="none" stroke-width="0" stroke-linejoin="round" />
<polyline points="1359.8,497.5 1359.8,364.5" fill="none" stroke="#dde2e8" stroke-width="3.2" stroke-linejoin="round" stroke-linecap="round" stroke-linecap="butt"/>
<polyline points="1359.8,497.5 1359.8,364.5" fill="none" stroke="#8398ae" stroke-width="1" stroke-linejoin="round" stroke-linecap="round" stroke-dasharray="1.2 1.8" stroke-linecap="butt"/>
<polyline points="1392.7,516.5 1392.7,383.5" fill="none" stroke="#dde2e8" stroke-width="3.2" stroke-linejoin="round" stroke-linecap="round" stroke-linecap="butt"/>
<polyline points="1303.5,530 1303.5,397" fill="none" stroke="#dde2e8" stroke-width="3.2" stroke-linejoin="round" stroke-linecap="round" stroke-linecap="butt"/>
<polygon points="1359.8,489.5 1392.7,508.5 1336.4,541 1303.5,522" fill="none" stroke="#dfe6ee" stroke-width="1" stroke-linejoin="round" />
<polyline points="1303.5,525.5 1336.4,544.5 1392.7,512" fill="none" stroke="#dfe6ee" stroke-width="1" stroke-linejoin="round" stroke-linecap="round" />
<polygon points="1361.5,519.5 1383.2,507 1383.2,482.5 1361.5,495" fill="#1c476c" stroke="#ffffff" stroke-width="0.9" stroke-linejoin="round" />
<polygon points="1361.5,519.5 1340.7,507.5 1340.7,483 1361.5,495" fill="#1c476c" stroke="#ffffff" stroke-width="0.9" stroke-linejoin="round" />
<polygon points="1361.5,495 1383.2,482.5 1362.4,470.5 1340.7,483" fill="#1c476c" stroke="#ffffff" stroke-width="0.9" stroke-linejoin="round" />
<polyline points="1372.8,476.5 1351.1,489 1351.1,513.5" fill="none" stroke="#e4572e" stroke-width="2" stroke-linejoin="round" stroke-linecap="round" stroke-linecap="butt"/>
<polygon points="1342.4,485.9 1348.6,489.5 1348.6,494.4 1342.4,490.8" fill="#e9edf2" stroke="none" stroke-width="0" stroke-linejoin="round" />
<polygon points="1372.3,508.4 1381,503.4 1381,506.3 1372.3,511.3" fill="#9fb2c6" stroke="none" stroke-width="0" stroke-linejoin="round" />
<polygon points="1336.4,534 1358.1,521.5 1358.1,497 1336.4,509.5" fill="#1c476c" stroke="#ffffff" stroke-width="0.9" stroke-linejoin="round" />
<polygon points="1336.4,534 1315.6,522 1315.6,497.5 1336.4,509.5" fill="#1c476c" stroke="#ffffff" stroke-width="0.9" stroke-linejoin="round" />
<polygon points="1336.4,509.5 1358.1,497 1337.3,485 1315.6,497.5" fill="#1c476c" stroke="#ffffff" stroke-width="0.9" stroke-linejoin="round" />
<polyline points="1347.7,491 1326,503.5 1326,528" fill="none" stroke="#e4572e" stroke-width="2" stroke-linejoin="round" stroke-linecap="round" stroke-linecap="butt"/>
<polygon points="1317.3,500.4 1323.5,504 1323.5,508.9 1317.3,505.3" fill="#e9edf2" stroke="none" stroke-width="0" stroke-linejoin="round" />
<polygon points="1347.2,522.9 1355.9,517.9 1355.9,520.8 1347.2,525.8" fill="#9fb2c6" stroke="none" stroke-width="0" stroke-linejoin="round" />
<polygon points="1359.8,446.5 1392.7,465.5 1336.4,498 1303.5,479" fill="none" stroke="#dfe6ee" stroke-width="1" stroke-linejoin="round" />
<polyline points="1303.5,482.5 1336.4,501.5 1392.7,469" fill="none" stroke="#dfe6ee" stroke-width="1" stroke-linejoin="round" stroke-linecap="round" />
<polygon points="1361.5,476.5 1383.2,464 1383.2,439.5 1361.5,452" fill="#1c476c" stroke="#ffffff" stroke-width="0.9" stroke-linejoin="round" />
<polygon points="1361.5,476.5 1340.7,464.5 1340.7,440 1361.5,452" fill="#1c476c" stroke="#ffffff" stroke-width="0.9" stroke-linejoin="round" />
<polygon points="1361.5,452 1383.2,439.5 1362.4,427.5 1340.7,440" fill="#1c476c" stroke="#ffffff" stroke-width="0.9" stroke-linejoin="round" />
<polyline points="1372.8,433.5 1351.1,446 1351.1,470.5" fill="none" stroke="#e4572e" stroke-width="2" stroke-linejoin="round" stroke-linecap="round" stroke-linecap="butt"/>
<polygon points="1342.4,442.9 1348.6,446.5 1348.6,451.4 1342.4,447.8" fill="#e9edf2" stroke="none" stroke-width="0" stroke-linejoin="round" />
<polygon points="1372.3,465.4 1381,460.4 1381,463.3 1372.3,468.3" fill="#9fb2c6" stroke="none" stroke-width="0" stroke-linejoin="round" />
<polygon points="1336.4,491 1358.1,478.5 1358.1,454 1336.4,466.5" fill="#1c476c" stroke="#ffffff" stroke-width="0.9" stroke-linejoin="round" />
<polygon points="1336.4,491 1315.6,479 1315.6,454.5 1336.4,466.5" fill="#1c476c" stroke="#ffffff" stroke-width="0.9" stroke-linejoin="round" />
<polygon points="1336.4,466.5 1358.1,454 1337.3,442 1315.6,454.5" fill="#1c476c" stroke="#ffffff" stroke-width="0.9" stroke-linejoin="round" />
<polyline points="1347.7,448 1326,460.5 1326,485" fill="none" stroke="#e4572e" stroke-width="2" stroke-linejoin="round" stroke-linecap="round" stroke-linecap="butt"/>
<polygon points="1317.3,457.4 1323.5,461 1323.5,465.9 1317.3,462.3" fill="#e9edf2" stroke="none" stroke-width="0" stroke-linejoin="round" />
<polygon points="1347.2,479.9 1355.9,474.9 1355.9,477.8 1347.2,482.8" fill="#9fb2c6" stroke="none" stroke-width="0" stroke-linejoin="round" />
<polygon points="1359.8,403.5 1392.7,422.5 1336.4,455 1303.5,436" fill="none" stroke="#dfe6ee" stroke-width="1" stroke-linejoin="round" />
<polyline points="1303.5,439.5 1336.4,458.5 1392.7,426" fill="none" stroke="#dfe6ee" stroke-width="1" stroke-linejoin="round" stroke-linecap="round" />
<polygon points="1361.5,433.5 1383.2,421 1383.2,396.5 1361.5,409" fill="#1c476c" stroke="#ffffff" stroke-width="0.9" stroke-linejoin="round" />
<polygon points="1361.5,433.5 1340.7,421.5 1340.7,397 1361.5,409" fill="#1c476c" stroke="#ffffff" stroke-width="0.9" stroke-linejoin="round" />
<polygon points="1361.5,409 1383.2,396.5 1362.4,384.5 1340.7,397" fill="#1c476c" stroke="#ffffff" stroke-width="0.9" stroke-linejoin="round" />
<polyline points="1372.8,390.5 1351.1,403 1351.1,427.5" fill="none" stroke="#e4572e" stroke-width="2" stroke-linejoin="round" stroke-linecap="round" stroke-linecap="butt"/>
<polygon points="1342.4,399.9 1348.6,403.5 1348.6,408.4 1342.4,404.8" fill="#e9edf2" stroke="none" stroke-width="0" stroke-linejoin="round" />
<polygon points="1372.3,422.4 1381,417.4 1381,420.3 1372.3,425.3" fill="#9fb2c6" stroke="none" stroke-width="0" stroke-linejoin="round" />
<polygon points="1336.4,448 1358.1,435.5 1358.1,411 1336.4,423.5" fill="#1c476c" stroke="#ffffff" stroke-width="0.9" stroke-linejoin="round" />
<polygon points="1336.4,448 1315.6,436 1315.6,411.5 1336.4,423.5" fill="#1c476c" stroke="#ffffff" stroke-width="0.9" stroke-linejoin="round" />
<polygon points="1336.4,423.5 1358.1,411 1337.3,399 1315.6,411.5" fill="#1c476c" stroke="#ffffff" stroke-width="0.9" stroke-linejoin="round" />
<polyline points="1347.7,405 1326,417.5 1326,442" fill="none" stroke="#e4572e" stroke-width="2" stroke-linejoin="round" stroke-linecap="round" stroke-linecap="butt"/>
<polygon points="1317.3,414.4 1323.5,418 1323.5,422.9 1317.3,419.3" fill="#e9edf2" stroke="none" stroke-width="0" stroke-linejoin="round" />
<polygon points="1347.2,436.9 1355.9,431.9 1355.9,434.8 1347.2,439.8" fill="#9fb2c6" stroke="none" stroke-width="0" stroke-linejoin="round" />
<polyline points="1303.5,479 1336.4,541" fill="none" stroke="#dde2e8" stroke-width="2.2" stroke-linejoin="round" stroke-linecap="round" />
<polyline points="1303.5,436 1336.4,498" fill="none" stroke="#dde2e8" stroke-width="2.2" stroke-linejoin="round" stroke-linecap="round" />
<polyline points="1303.5,522 1336.4,519" fill="none" stroke="#dde2e8" stroke-width="2.2" stroke-linejoin="round" stroke-linecap="round" />
<polyline points="1303.5,530 1303.5,397" fill="none" stroke="#dde2e8" stroke-width="3.2" stroke-linejoin="round" stroke-linecap="round" stroke-linecap="butt"/>
<polyline points="1336.4,549 1336.4,416" fill="none" stroke="#dde2e8" stroke-width="3.2" stroke-linejoin="round" stroke-linecap="round" stroke-linecap="butt"/>
<polyline points="1336.4,549 1336.4,416" fill="none" stroke="#8398ae" stroke-width="1" stroke-linejoin="round" stroke-linecap="round" stroke-dasharray="1.2 1.8" stroke-linecap="butt"/>
<rect x="1333.9" y="548" width="5" height="2.5" fill="#dde2e8"/>
<rect x="1301" y="529" width="5" height="2.5" fill="#dde2e8"/>
<rect x="1390.2" y="515.5" width="5" height="2.5" fill="#dde2e8"/>
<polygon points="1424.7,535 1466.3,559 1410,591.5 1368.4,567.5" fill="#0e2238" stroke="none" stroke-width="0" stroke-linejoin="round" />
<polyline points="1424.7,535 1424.7,402" fill="none" stroke="#dde2e8" stroke-width="3.2" stroke-linejoin="round" stroke-linecap="round" stroke-linecap="butt"/>
<polyline points="1424.7,535 1424.7,402" fill="none" stroke="#8398ae" stroke-width="1" stroke-linejoin="round" stroke-linecap="round" stroke-dasharray="1.2 1.8" stroke-linecap="butt"/>
<polyline points="1457.6,554 1457.6,421" fill="none" stroke="#dde2e8" stroke-width="3.2" stroke-linejoin="round" stroke-linecap="round" stroke-linecap="butt"/>
<polyline points="1368.4,567.5 1368.4,434.5" fill="none" stroke="#dde2e8" stroke-width="3.2" stroke-linejoin="round" stroke-linecap="round" stroke-linecap="butt"/>
<polygon points="1424.7,527 1457.6,546 1401.4,578.5 1368.4,559.5" fill="none" stroke="#dfe6ee" stroke-width="1" stroke-linejoin="round" />
<polyline points="1368.4,563 1401.4,582 1457.6,549.5" fill="none" stroke="#dfe6ee" stroke-width="1" stroke-linejoin="round" stroke-linecap="round" />
<polygon points="1426.5,557 1448.1,544.5 1448.1,520 1426.5,532.5" fill="#1c476c" stroke="#ffffff" stroke-width="0.9" stroke-linejoin="round" />
<polygon points="1426.5,557 1405.7,545 1405.7,520.5 1426.5,532.5" fill="#1c476c" stroke="#ffffff" stroke-width="0.9" stroke-linejoin="round" />
<polygon points="1426.5,532.5 1448.1,520 1427.3,508 1405.7,520.5" fill="#1c476c" stroke="#ffffff" stroke-width="0.9" stroke-linejoin="round" />
<polyline points="1437.7,514 1416.1,526.5 1416.1,551" fill="none" stroke="#e4572e" stroke-width="2" stroke-linejoin="round" stroke-linecap="round" stroke-linecap="butt"/>
<polygon points="1407.4,523.4 1413.6,527 1413.6,531.9 1407.4,528.3" fill="#e9edf2" stroke="none" stroke-width="0" stroke-linejoin="round" />
<polygon points="1437.3,545.9 1446,540.9 1446,543.8 1437.3,548.8" fill="#9fb2c6" stroke="none" stroke-width="0" stroke-linejoin="round" />
<polygon points="1401.4,571.5 1423,559 1423,534.5 1401.4,547" fill="#1c476c" stroke="#ffffff" stroke-width="0.9" stroke-linejoin="round" />
<polygon points="1401.4,571.5 1380.6,559.5 1380.6,535 1401.4,547" fill="#1c476c" stroke="#ffffff" stroke-width="0.9" stroke-linejoin="round" />
<polygon points="1401.4,547 1423,534.5 1402.2,522.5 1380.6,535" fill="#1c476c" stroke="#ffffff" stroke-width="0.9" stroke-linejoin="round" />
<polyline points="1412.6,528.5 1391,541 1391,565.5" fill="none" stroke="#e4572e" stroke-width="2" stroke-linejoin="round" stroke-linecap="round" stroke-linecap="butt"/>
<polygon points="1382.2,537.9 1388.5,541.5 1388.5,546.4 1382.2,542.8" fill="#e9edf2" stroke="none" stroke-width="0" stroke-linejoin="round" />
<polygon points="1412.2,560.4 1420.8,555.4 1420.8,558.3 1412.2,563.3" fill="#9fb2c6" stroke="none" stroke-width="0" stroke-linejoin="round" />
<polygon points="1424.7,484 1457.6,503 1401.4,535.5 1368.4,516.5" fill="none" stroke="#dfe6ee" stroke-width="1" stroke-linejoin="round" />
<polyline points="1368.4,520 1401.4,539 1457.6,506.5" fill="none" stroke="#dfe6ee" stroke-width="1" stroke-linejoin="round" stroke-linecap="round" />
<polygon points="1426.5,514 1448.1,501.5 1448.1,477 1426.5,489.5" fill="#1c476c" stroke="#ffffff" stroke-width="0.9" stroke-linejoin="round" />
<polygon points="1426.5,514 1405.7,502 1405.7,477.5 1426.5,489.5" fill="#1c476c" stroke="#ffffff" stroke-width="0.9" stroke-linejoin="round" />
<polygon points="1426.5,489.5 1448.1,477 1427.3,465 1405.7,477.5" fill="#1c476c" stroke="#ffffff" stroke-width="0.9" stroke-linejoin="round" />
<polyline points="1437.7,471 1416.1,483.5 1416.1,508" fill="none" stroke="#e4572e" stroke-width="2" stroke-linejoin="round" stroke-linecap="round" stroke-linecap="butt"/>
<polygon points="1407.4,480.4 1413.6,484 1413.6,488.9 1407.4,485.3" fill="#e9edf2" stroke="none" stroke-width="0" stroke-linejoin="round" />
<polygon points="1437.3,502.9 1446,497.9 1446,500.8 1437.3,505.8" fill="#9fb2c6" stroke="none" stroke-width="0" stroke-linejoin="round" />
<polygon points="1401.4,528.5 1423,516 1423,491.5 1401.4,504" fill="#1c476c" stroke="#ffffff" stroke-width="0.9" stroke-linejoin="round" />
<polygon points="1401.4,528.5 1380.6,516.5 1380.6,492 1401.4,504" fill="#1c476c" stroke="#ffffff" stroke-width="0.9" stroke-linejoin="round" />
<polygon points="1401.4,504 1423,491.5 1402.2,479.5 1380.6,492" fill="#1c476c" stroke="#ffffff" stroke-width="0.9" stroke-linejoin="round" />
<polyline points="1412.6,485.5 1391,498 1391,522.5" fill="none" stroke="#e4572e" stroke-width="2" stroke-linejoin="round" stroke-linecap="round" stroke-linecap="butt"/>
<polygon points="1382.2,494.9 1388.5,498.5 1388.5,503.4 1382.2,499.8" fill="#e9edf2" stroke="none" stroke-width="0" stroke-linejoin="round" />
<polygon points="1412.2,517.4 1420.8,512.4 1420.8,515.3 1412.2,520.3" fill="#9fb2c6" stroke="none" stroke-width="0" stroke-linejoin="round" />
<polygon points="1424.7,441 1457.6,460 1401.4,492.5 1368.4,473.5" fill="none" stroke="#dfe6ee" stroke-width="1" stroke-linejoin="round" />
<polyline points="1368.4,477 1401.4,496 1457.6,463.5" fill="none" stroke="#dfe6ee" stroke-width="1" stroke-linejoin="round" stroke-linecap="round" />
<polygon points="1426.5,471 1448.1,458.5 1448.1,434 1426.5,446.5" fill="#1c476c" stroke="#ffffff" stroke-width="0.9" stroke-linejoin="round" />
<polygon points="1426.5,471 1405.7,459 1405.7,434.5 1426.5,446.5" fill="#1c476c" stroke="#ffffff" stroke-width="0.9" stroke-linejoin="round" />
<polygon points="1426.5,446.5 1448.1,434 1427.3,422 1405.7,434.5" fill="#1c476c" stroke="#ffffff" stroke-width="0.9" stroke-linejoin="round" />
<polyline points="1437.7,428 1416.1,440.5 1416.1,465" fill="none" stroke="#e4572e" stroke-width="2" stroke-linejoin="round" stroke-linecap="round" stroke-linecap="butt"/>
<polygon points="1407.4,437.4 1413.6,441 1413.6,445.9 1407.4,442.3" fill="#e9edf2" stroke="none" stroke-width="0" stroke-linejoin="round" />
<polygon points="1437.3,459.9 1446,454.9 1446,457.8 1437.3,462.8" fill="#9fb2c6" stroke="none" stroke-width="0" stroke-linejoin="round" />
<polygon points="1401.4,485.5 1423,473 1423,448.5 1401.4,461" fill="#1c476c" stroke="#ffffff" stroke-width="0.9" stroke-linejoin="round" />
<polygon points="1401.4,485.5 1380.6,473.5 1380.6,449 1401.4,461" fill="#1c476c" stroke="#ffffff" stroke-width="0.9" stroke-linejoin="round" />
<polygon points="1401.4,461 1423,448.5 1402.2,436.5 1380.6,449" fill="#1c476c" stroke="#ffffff" stroke-width="0.9" stroke-linejoin="round" />
<polyline points="1412.6,442.5 1391,455 1391,479.5" fill="none" stroke="#e4572e" stroke-width="2" stroke-linejoin="round" stroke-linecap="round" stroke-linecap="butt"/>
<polygon points="1382.2,451.9 1388.5,455.5 1388.5,460.4 1382.2,456.8" fill="#e9edf2" stroke="none" stroke-width="0" stroke-linejoin="round" />
<polygon points="1412.2,474.4 1420.8,469.4 1420.8,472.3 1412.2,477.3" fill="#9fb2c6" stroke="none" stroke-width="0" stroke-linejoin="round" />
<polyline points="1368.4,516.5 1401.4,578.5" fill="none" stroke="#dde2e8" stroke-width="2.2" stroke-linejoin="round" stroke-linecap="round" />
<polyline points="1368.4,473.5 1401.4,535.5" fill="none" stroke="#dde2e8" stroke-width="2.2" stroke-linejoin="round" stroke-linecap="round" />
<polyline points="1368.4,559.5 1401.4,556.5" fill="none" stroke="#dde2e8" stroke-width="2.2" stroke-linejoin="round" stroke-linecap="round" />
<polyline points="1368.4,567.5 1368.4,434.5" fill="none" stroke="#dde2e8" stroke-width="3.2" stroke-linejoin="round" stroke-linecap="round" stroke-linecap="butt"/>
<polyline points="1401.4,586.5 1401.4,453.5" fill="none" stroke="#dde2e8" stroke-width="3.2" stroke-linejoin="round" stroke-linecap="round" stroke-linecap="butt"/>
<polyline points="1401.4,586.5 1401.4,453.5" fill="none" stroke="#8398ae" stroke-width="1" stroke-linejoin="round" stroke-linecap="round" stroke-dasharray="1.2 1.8" stroke-linecap="butt"/>
<rect x="1398.9" y="585.5" width="5" height="2.5" fill="#dde2e8"/>
<rect x="1365.9" y="566.5" width="5" height="2.5" fill="#dde2e8"/>
<rect x="1455.1" y="553" width="5" height="2.5" fill="#dde2e8"/>
<polygon points="1489.7,572.5 1531.3,596.5 1475,629 1433.4,605" fill="#0e2238" stroke="none" stroke-width="0" stroke-linejoin="round" />
<polyline points="1489.7,572.5 1489.7,439.5" fill="none" stroke="#dde2e8" stroke-width="3.2" stroke-linejoin="round" stroke-linecap="round" stroke-linecap="butt"/>
<polyline points="1489.7,572.5 1489.7,439.5" fill="none" stroke="#8398ae" stroke-width="1" stroke-linejoin="round" stroke-linecap="round" stroke-dasharray="1.2 1.8" stroke-linecap="butt"/>
<polyline points="1522.6,591.5 1522.6,458.5" fill="none" stroke="#dde2e8" stroke-width="3.2" stroke-linejoin="round" stroke-linecap="round" stroke-linecap="butt"/>
<polyline points="1433.4,605 1433.4,472" fill="none" stroke="#dde2e8" stroke-width="3.2" stroke-linejoin="round" stroke-linecap="round" stroke-linecap="butt"/>
<polygon points="1489.7,564.5 1522.6,583.5 1466.3,616 1433.4,597" fill="none" stroke="#dfe6ee" stroke-width="1" stroke-linejoin="round" />
<polyline points="1433.4,600.5 1466.3,619.5 1522.6,587" fill="none" stroke="#dfe6ee" stroke-width="1" stroke-linejoin="round" stroke-linecap="round" />
<polygon points="1491.4,594.5 1513.1,582 1513.1,557.5 1491.4,570" fill="#1c476c" stroke="#ffffff" stroke-width="0.9" stroke-linejoin="round" />
<polygon points="1491.4,594.5 1470.6,582.5 1470.6,558 1491.4,570" fill="#1c476c" stroke="#ffffff" stroke-width="0.9" stroke-linejoin="round" />
<polygon points="1491.4,570 1513.1,557.5 1492.3,545.5 1470.6,558" fill="#1c476c" stroke="#ffffff" stroke-width="0.9" stroke-linejoin="round" />
<polyline points="1502.7,551.5 1481,564 1481,588.5" fill="none" stroke="#e4572e" stroke-width="2" stroke-linejoin="round" stroke-linecap="round" stroke-linecap="butt"/>
<polygon points="1472.3,560.9 1478.5,564.5 1478.5,569.4 1472.3,565.8" fill="#e9edf2" stroke="none" stroke-width="0" stroke-linejoin="round" />
<polygon points="1502.3,583.4 1510.9,578.4 1510.9,581.3 1502.3,586.3" fill="#9fb2c6" stroke="none" stroke-width="0" stroke-linejoin="round" />
<polygon points="1466.3,609 1488,596.5 1488,572 1466.3,584.5" fill="#1c476c" stroke="#ffffff" stroke-width="0.9" stroke-linejoin="round" />
<polygon points="1466.3,609 1445.5,597 1445.5,572.5 1466.3,584.5" fill="#1c476c" stroke="#ffffff" stroke-width="0.9" stroke-linejoin="round" />
<polygon points="1466.3,584.5 1488,572 1467.2,560 1445.5,572.5" fill="#1c476c" stroke="#ffffff" stroke-width="0.9" stroke-linejoin="round" />
<polyline points="1477.6,566 1455.9,578.5 1455.9,603" fill="none" stroke="#e4572e" stroke-width="2" stroke-linejoin="round" stroke-linecap="round" stroke-linecap="butt"/>
<polygon points="1447.2,575.4 1453.4,579 1453.4,583.9 1447.2,580.3" fill="#e9edf2" stroke="none" stroke-width="0" stroke-linejoin="round" />
<polygon points="1477.1,597.9 1485.8,592.9 1485.8,595.8 1477.1,600.8" fill="#9fb2c6" stroke="none" stroke-width="0" stroke-linejoin="round" />
<polygon points="1489.7,521.5 1522.6,540.5 1466.3,573 1433.4,554" fill="none" stroke="#dfe6ee" stroke-width="1" stroke-linejoin="round" />
<polyline points="1433.4,557.5 1466.3,576.5 1522.6,544" fill="none" stroke="#dfe6ee" stroke-width="1" stroke-linejoin="round" stroke-linecap="round" />
<polygon points="1491.4,551.5 1513.1,539 1513.1,514.5 1491.4,527" fill="#1c476c" stroke="#ffffff" stroke-width="0.9" stroke-linejoin="round" />
<polygon points="1491.4,551.5 1470.6,539.5 1470.6,515 1491.4,527" fill="#1c476c" stroke="#ffffff" stroke-width="0.9" stroke-linejoin="round" />
<polygon points="1491.4,527 1513.1,514.5 1492.3,502.5 1470.6,515" fill="#1c476c" stroke="#ffffff" stroke-width="0.9" stroke-linejoin="round" />
<polyline points="1502.7,508.5 1481,521 1481,545.5" fill="none" stroke="#e4572e" stroke-width="2" stroke-linejoin="round" stroke-linecap="round" stroke-linecap="butt"/>
<polygon points="1472.3,517.9 1478.5,521.5 1478.5,526.4 1472.3,522.8" fill="#e9edf2" stroke="none" stroke-width="0" stroke-linejoin="round" />
<polygon points="1502.3,540.4 1510.9,535.4 1510.9,538.3 1502.3,543.3" fill="#9fb2c6" stroke="none" stroke-width="0" stroke-linejoin="round" />
<polygon points="1466.3,566 1488,553.5 1488,529 1466.3,541.5" fill="#1c476c" stroke="#ffffff" stroke-width="0.9" stroke-linejoin="round" />
<polygon points="1466.3,566 1445.5,554 1445.5,529.5 1466.3,541.5" fill="#1c476c" stroke="#ffffff" stroke-width="0.9" stroke-linejoin="round" />
<polygon points="1466.3,541.5 1488,529 1467.2,517 1445.5,529.5" fill="#1c476c" stroke="#ffffff" stroke-width="0.9" stroke-linejoin="round" />
<polyline points="1477.6,523 1455.9,535.5 1455.9,560" fill="none" stroke="#e4572e" stroke-width="2" stroke-linejoin="round" stroke-linecap="round" stroke-linecap="butt"/>
<polygon points="1447.2,532.4 1453.4,536 1453.4,540.9 1447.2,537.3" fill="#e9edf2" stroke="none" stroke-width="0" stroke-linejoin="round" />
<polygon points="1477.1,554.9 1485.8,549.9 1485.8,552.8 1477.1,557.8" fill="#9fb2c6" stroke="none" stroke-width="0" stroke-linejoin="round" />
<polygon points="1489.7,478.5 1522.6,497.5 1466.3,530 1433.4,511" fill="none" stroke="#dfe6ee" stroke-width="1" stroke-linejoin="round" />
<polyline points="1433.4,514.5 1466.3,533.5 1522.6,501" fill="none" stroke="#dfe6ee" stroke-width="1" stroke-linejoin="round" stroke-linecap="round" />
<polygon points="1491.4,508.5 1513.1,496 1513.1,471.5 1491.4,484" fill="#1c476c" stroke="#ffffff" stroke-width="0.9" stroke-linejoin="round" />
<polygon points="1491.4,508.5 1470.6,496.5 1470.6,472 1491.4,484" fill="#1c476c" stroke="#ffffff" stroke-width="0.9" stroke-linejoin="round" />
<polygon points="1491.4,484 1513.1,471.5 1492.3,459.5 1470.6,472" fill="#1c476c" stroke="#ffffff" stroke-width="0.9" stroke-linejoin="round" />
<polyline points="1502.7,465.5 1481,478 1481,502.5" fill="none" stroke="#e4572e" stroke-width="2" stroke-linejoin="round" stroke-linecap="round" stroke-linecap="butt"/>
<polygon points="1472.3,474.9 1478.5,478.5 1478.5,483.4 1472.3,479.8" fill="#e9edf2" stroke="none" stroke-width="0" stroke-linejoin="round" />
<polygon points="1502.3,497.4 1510.9,492.4 1510.9,495.3 1502.3,500.3" fill="#9fb2c6" stroke="none" stroke-width="0" stroke-linejoin="round" />
<polygon points="1466.3,523 1488,510.5 1488,486 1466.3,498.5" fill="#1c476c" stroke="#ffffff" stroke-width="0.9" stroke-linejoin="round" />
<polygon points="1466.3,523 1445.5,511 1445.5,486.5 1466.3,498.5" fill="#1c476c" stroke="#ffffff" stroke-width="0.9" stroke-linejoin="round" />
<polygon points="1466.3,498.5 1488,486 1467.2,474 1445.5,486.5" fill="#1c476c" stroke="#ffffff" stroke-width="0.9" stroke-linejoin="round" />
<polyline points="1477.6,480 1455.9,492.5 1455.9,517" fill="none" stroke="#e4572e" stroke-width="2" stroke-linejoin="round" stroke-linecap="round" stroke-linecap="butt"/>
<polygon points="1447.2,489.4 1453.4,493 1453.4,497.9 1447.2,494.3" fill="#e9edf2" stroke="none" stroke-width="0" stroke-linejoin="round" />
<polygon points="1477.1,511.9 1485.8,506.9 1485.8,509.8 1477.1,514.8" fill="#9fb2c6" stroke="none" stroke-width="0" stroke-linejoin="round" />
<polyline points="1433.4,554 1466.3,616" fill="none" stroke="#dde2e8" stroke-width="2.2" stroke-linejoin="round" stroke-linecap="round" />
<polyline points="1433.4,511 1466.3,573" fill="none" stroke="#dde2e8" stroke-width="2.2" stroke-linejoin="round" stroke-linecap="round" />
<polyline points="1433.4,597 1466.3,594" fill="none" stroke="#dde2e8" stroke-width="2.2" stroke-linejoin="round" stroke-linecap="round" />
<polyline points="1433.4,605 1433.4,472" fill="none" stroke="#dde2e8" stroke-width="3.2" stroke-linejoin="round" stroke-linecap="round" stroke-linecap="butt"/>
<polyline points="1466.3,624 1466.3,491" fill="none" stroke="#dde2e8" stroke-width="3.2" stroke-linejoin="round" stroke-linecap="round" stroke-linecap="butt"/>
<polyline points="1466.3,624 1466.3,491" fill="none" stroke="#8398ae" stroke-width="1" stroke-linejoin="round" stroke-linecap="round" stroke-dasharray="1.2 1.8" stroke-linecap="butt"/>
<rect x="1463.8" y="623" width="5" height="2.5" fill="#dde2e8"/>
<rect x="1430.9" y="604" width="5" height="2.5" fill="#dde2e8"/>
<rect x="1520.1" y="590.5" width="5" height="2.5" fill="#dde2e8"/>
<polygon points="1403.5,728 1547.5,728 1478.5,777.3" fill="#0e2238" stroke="none" stroke-width="0" stroke-linejoin="round" />
<polygon points="1403.5,725 1472.5,764.8 1472.5,772.3 1403.5,732.5" fill="#1c476c" stroke="#ffffff" stroke-width="1.8" stroke-linejoin="round" />
<polygon points="1541.5,725 1472.5,764.8 1472.5,772.3 1541.5,732.5" fill="#1c476c" stroke="#ffffff" stroke-width="1.8" stroke-linejoin="round" />
<polygon points="1403.5,725 1472.5,685.2 1541.5,725 1472.5,764.8" fill="#1c476c" stroke="#ffffff" stroke-width="1.8" stroke-linejoin="round" />
<ellipse cx="1475.5" cy="721.5" rx="38" ry="21.5" fill="#1c476c" stroke="#ffffff" stroke-width="1.6" />
<ellipse cx="1475.5" cy="719.5" rx="33" ry="18.5" fill="#1c476c" stroke="#ffffff" stroke-width="1.3" />
<path d="M1444.8 683 L1444.8 718 A31 17 0 0 0 1506.8 718 L1506.8 683 Z" fill="#1c476c" stroke="#ffffff" stroke-width="1.8" stroke-linejoin="round" stroke-linecap="round" />
<ellipse cx="1475.8" cy="683" rx="31" ry="17" fill="#1c476c" stroke="#ffffff" stroke-width="1.8" />
<ellipse cx="1475.8" cy="684" rx="26" ry="14" fill="#1c476c" stroke="#ffffff" stroke-width="1.2" />
<polygon points="1450,677 1463,659 1492,666 1494,682 1470,692 1452,688" fill="#1c476c" stroke="#ffffff" stroke-width="1.6" stroke-linejoin="round" />
<polygon points="1463,659 1477,652 1493,660 1492,666" fill="#1c476c" stroke="#ffffff" stroke-width="1.4" stroke-linejoin="round" />
<ellipse cx="1485" cy="671" rx="5.5" ry="6.5" fill="#1c476c" stroke="#ffffff" stroke-width="1.4" />
<ellipse cx="1485" cy="671" rx="2.5" ry="3" fill="#1c476c" stroke="#ffffff" stroke-width="1" />
<polyline points="1470,692 1469,676 1492,666" fill="none" stroke="#ffffff" stroke-width="1.3" stroke-linejoin="round" stroke-linecap="round" />
<polygon points="1465,616 1489,611 1488,660 1478,664 1466,658" fill="#1c476c" stroke="#ffffff" stroke-width="1.4" stroke-linejoin="round" />
<polygon points="1465,622 1472,620 1472,640 1466,642" fill="#f2601f" stroke="#ffffff" stroke-width="1.2" stroke-linejoin="round" />
<polygon points="1476,617 1488.5,612 1488,658 1478,662 1478,644 1475,643" fill="#f2601f" stroke="#ffffff" stroke-width="1.2" stroke-linejoin="round" />
<path d="M1535 521.9 L1568 555.9 A7 7 0 0 0 1578 546.1 L1545 512.1 A7 7 0 0 0 1535 521.9 Z" fill="#1c476c" stroke="#ffffff" stroke-width="1.5" stroke-linejoin="round" stroke-linecap="round" />
<path d="M1483.3 608 L1546.8 522 A8.5 8.5 0 0 0 1533.2 512 L1469.7 598 A8.5 8.5 0 0 0 1483.3 608 Z" fill="#1c476c" stroke="#ffffff" stroke-width="1.5" stroke-linejoin="round" stroke-linecap="round" />
<polyline points="1477.5,600 1536,520" fill="none" stroke="#ffffff" stroke-width="1.1" stroke-linejoin="round" stroke-linecap="round" />
<ellipse cx="1540" cy="517" rx="6" ry="6" fill="#1c476c" stroke="#ffffff" stroke-width="1.3" />
<ellipse cx="1540" cy="517" rx="2.5" ry="2.5" fill="#1c476c" stroke="#ffffff" stroke-width="1" />
<ellipse cx="1473.5" cy="603" rx="6.5" ry="7" fill="#1c476c" stroke="#ffffff" stroke-width="1.4" />
<ellipse cx="1481.5" cy="606" rx="5" ry="5.5" fill="#1c476c" stroke="#ffffff" stroke-width="1.3" />
<polygon points="1573.8,605 1601.5,589 1601.5,556.5 1573.8,572.5" fill="#e9a45a" stroke="#c98a48" stroke-width="0.6" stroke-linejoin="round" />
<polygon points="1573.8,605 1545.2,588.5 1545.2,556 1573.8,572.5" fill="#f2b772" stroke="#c98a48" stroke-width="0.6" stroke-linejoin="round" />
<polygon points="1573.8,572.5 1601.5,556.5 1572.9,540 1545.2,556" fill="#f8d4a4" stroke="#c98a48" stroke-width="0.6" stroke-linejoin="round" />
<polyline points="1559,548 1587.6,564.5 1587.6,597" fill="none" stroke="#d9442a" stroke-width="2.6" stroke-linejoin="round" stroke-linecap="round" stroke-linecap="butt"/>
<polygon points="1590.9,565.2 1599.2,560.4 1599.2,565.9 1590.9,570.7" fill="#f4ede4" stroke="none" stroke-width="0" stroke-linejoin="round" />
<polygon points="1575.4,596.2 1583.7,591.4 1583.7,597 1575.4,601.8" fill="#f4ede4" stroke="none" stroke-width="0" stroke-linejoin="round" />
<polygon points="1566,544 1580,540 1590,562 1584,566" fill="#1c476c" stroke="#ffffff" stroke-width="1.2" stroke-linejoin="round" />
<polyline points="1584,566 1590,574" fill="none" stroke="#d9442a" stroke-width="1.6" stroke-linejoin="round" stroke-linecap="round" />
<polyline points="1566,544 1572,556" fill="none" stroke="#ffffff" stroke-width="1.2" stroke-linejoin="round" stroke-linecap="round" />
<polygon points="819.4,321.5 1377.5,643.8 1377.5,885.8 819.4,563.5" fill="#1c476c" stroke="none" stroke-width="0" stroke-linejoin="round" />
<polygon points="819.4,321.5 833.2,321.5 1384.5,639.8 1377.5,643.8" fill="#1c476c" stroke="none" stroke-width="0" stroke-linejoin="round" />
<polyline points="819.4,321.5 1377.5,643.8" fill="none" stroke="#ffffff" stroke-width="2" stroke-linejoin="round" stroke-linecap="round" />
<polyline points="833.2,321.5 1384.5,639.8" fill="none" stroke="#ffffff" stroke-width="2" stroke-linejoin="round" stroke-linecap="round" />
<polygon points="1377.5,643.8 1384.5,639.8 1384.5,881.8 1377.5,885.8" fill="#1c476c" stroke="#ffffff" stroke-width="2" stroke-linejoin="round" />
<polyline points="819.4,321.5 819.4,551.5" fill="none" stroke="#ffffff" stroke-width="1.3" stroke-linejoin="round" stroke-linecap="round" />
<polygon points="819.4,551.5 1377.5,873.8 1373.2,876.2 815.1,554" fill="#1c476c" stroke="#ffffff" stroke-width="1.3" stroke-linejoin="round" />
<polygon points="815.1,554 1373.2,876.2 1373.2,891.2 815.1,569" fill="#1c476c" stroke="#ffffff" stroke-width="1.3" stroke-linejoin="round" />
<polygon points="819.4,551.5 815.1,554 815.1,569 819.4,566.5" fill="#1c476c" stroke="#ffffff" stroke-width="1.3" stroke-linejoin="round" />
<polygon points="893.9,451.5 970.9,496 970.9,654 893.9,609.5" fill="#1c476c" stroke="none" stroke-width="0" stroke-linejoin="round" />
<polygon points="889.5,595 966.6,639.5 966.6,657.5 889.5,613" fill="#1c476c" stroke="none" stroke-width="0" stroke-linejoin="round" />
<polyline points="893.9,475.5 893.9,451.5 970.9,496 970.9,651" fill="none" stroke="#ffffff" stroke-width="1.3" stroke-linejoin="round" stroke-linecap="round" />
<polyline points="890.4,495.5 890.4,556.5" fill="none" stroke="#ffffff" stroke-width="1.2" stroke-linejoin="round" stroke-linecap="round" />
<polyline points="893,499 893,558" fill="none" stroke="#ffffff" stroke-width="1.2" stroke-linejoin="round" stroke-linecap="round" />
<polyline points="970.9,547 927.6,572" fill="none" stroke="#ffffff" stroke-width="1.3" stroke-linejoin="round" stroke-linecap="round" />
<polygon points="893.9,475.5 970.9,520 932.8,542 855.8,497.5" fill="#1c476c" stroke="#ffffff" stroke-width="1.4" stroke-linejoin="round" />
<polygon points="855.8,497.5 932.8,542 932.8,546.5 855.8,502" fill="#1c476c" stroke="#ffffff" stroke-width="1.2" stroke-linejoin="round" />
<polygon points="970.9,520 932.8,542 932.8,546.5 970.9,524.5" fill="#1c476c" stroke="#ffffff" stroke-width="1.2" stroke-linejoin="round" />
<polygon points="1043.7,538 1120.8,582.5 1120.8,740.5 1043.7,696" fill="#1c476c" stroke="none" stroke-width="0" stroke-linejoin="round" />
<polygon points="1039.4,681.5 1116.4,726 1116.4,744 1039.4,699.5" fill="#1c476c" stroke="none" stroke-width="0" stroke-linejoin="round" />
<polyline points="1043.7,562 1043.7,538 1120.8,582.5 1120.8,737.5" fill="none" stroke="#ffffff" stroke-width="1.3" stroke-linejoin="round" stroke-linecap="round" />
<polyline points="1040.2,582 1040.2,643" fill="none" stroke="#ffffff" stroke-width="1.2" stroke-linejoin="round" stroke-linecap="round" />
<polyline points="1042.8,585.5 1042.8,644.5" fill="none" stroke="#ffffff" stroke-width="1.2" stroke-linejoin="round" stroke-linecap="round" />
<polyline points="1120.8,633.5 1077.5,658.5" fill="none" stroke="#ffffff" stroke-width="1.3" stroke-linejoin="round" stroke-linecap="round" />
<polygon points="1043.7,562 1120.8,606.5 1082.7,628.5 1005.6,584" fill="#1c476c" stroke="#ffffff" stroke-width="1.4" stroke-linejoin="round" />
<polygon points="1005.6,584 1082.7,628.5 1082.7,633 1005.6,588.5" fill="#1c476c" stroke="#ffffff" stroke-width="1.2" stroke-linejoin="round" />
<polygon points="1120.8,606.5 1082.7,628.5 1082.7,633 1120.8,611" fill="#1c476c" stroke="#ffffff" stroke-width="1.2" stroke-linejoin="round" />
<polygon points="1209.1,633.5 1286.2,678 1286.2,836 1209.1,791.5" fill="#1c476c" stroke="none" stroke-width="0" stroke-linejoin="round" />
<polygon points="1204.8,777 1281.8,821.5 1281.8,839.5 1204.8,795" fill="#1c476c" stroke="none" stroke-width="0" stroke-linejoin="round" />
<polyline points="1209.1,657.5 1209.1,633.5 1286.2,678 1286.2,833" fill="none" stroke="#ffffff" stroke-width="1.3" stroke-linejoin="round" stroke-linecap="round" />
<polyline points="1205.6,677.5 1205.6,738.5" fill="none" stroke="#ffffff" stroke-width="1.2" stroke-linejoin="round" stroke-linecap="round" />
<polyline points="1208.2,681 1208.2,740" fill="none" stroke="#ffffff" stroke-width="1.2" stroke-linejoin="round" stroke-linecap="round" />
<polyline points="1286.2,729 1242.9,754" fill="none" stroke="#ffffff" stroke-width="1.3" stroke-linejoin="round" stroke-linecap="round" />
<polygon points="1209.1,657.5 1286.2,702 1248.1,724 1171,679.5" fill="#1c476c" stroke="#ffffff" stroke-width="1.4" stroke-linejoin="round" />
<polygon points="1171,679.5 1248.1,724 1248.1,728.5 1171,684" fill="#1c476c" stroke="#ffffff" stroke-width="1.2" stroke-linejoin="round" />
<polygon points="1286.2,702 1248.1,724 1248.1,728.5 1286.2,706.5" fill="#1c476c" stroke="#ffffff" stroke-width="1.2" stroke-linejoin="round" />
<path d="M905.1 567.5 L735.4 665.5 Q721.5 673.5 710 684.6 L603.5 786.8 Q593.4 796.5 605.5 803.5 L637.5 822 Q647.9 828 658.3 822 L959.7 648 L959.7 599 Z" fill="#1c476c" stroke="#ffffff" stroke-width="1.3" stroke-linejoin="round" stroke-linecap="round" />
<path d="M959.7 599 L788.2 698 Q776.1 705 766 714.7 L655.1 821.1 Q647.9 828 656.6 823 L959.7 648 Z" fill="#1c476c" stroke="#ffffff" stroke-width="1.3" stroke-linejoin="round" stroke-linecap="round" />
<path d="M959.7 602.5 L790.9 699.9 Q777.8 707.5 776.5 722 L776.5 722 Q775.2 736.5 788.3 728.9 L959.7 630" fill="none" stroke="#ffffff" stroke-width="1.2" stroke-linejoin="round" stroke-linecap="round" />
<path d="M959.7 605.5 L791.5 702.6 Q781.3 708.5 780 720 L780 720 Q778.7 731.5 788.9 725.6 L959.7 627" fill="none" stroke="#ffffff" stroke-width="1.2" stroke-linejoin="round" stroke-linecap="round" />
<path d="M905.1 567.5 L735.4 665.5 Q721.5 673.5 710 684.6 L603.5 786.8 Q593.4 796.5 605.5 803.5 L637.5 822 Q647.9 828 656.6 819.7 L766 714.7 Q776.1 705 788.2 698 L959.7 599 Z" fill="#1c476c" stroke="#ffffff" stroke-width="1.3" stroke-linejoin="round" stroke-linecap="round" />
<path d="M908.2 569.2 L736.7 668.2 Q724.6 675.2 714.5 685 L607.7 788.5 Q600.5 795.4 609.1 800.3 L642.2 819.4 Q649 823.4 654.7 817.9 L764.4 711.6 Q773.1 703.2 783.4 697.2 L956.7 597.2" fill="none" stroke="#ffffff" stroke-width="1.1" stroke-linejoin="round" stroke-linecap="round" />
<path d="M911.2 571 L739.7 670 Q727.6 677 717.6 686.8 L611.6 790.3 Q606 795.7 612.8 799.6 L643.4 817.3 Q648.4 820.2 652.6 816.1 L761.4 709.9 Q770 701.5 780.4 695.5 L953.6 595.5" fill="none" stroke="#ffffff" stroke-width="1.1" stroke-linejoin="round" stroke-linecap="round" />
<polygon points="911.2,577 941.5,594.5 763.1,697.5 650.5,804.3 620.2,786.8 732.8,680" fill="none" stroke="#d9603c" stroke-width="1.3" stroke-linejoin="round" />
<polyline points="874.8,598 905.1,615.5" fill="none" stroke="#d9603c" stroke-width="1.2" stroke-linejoin="round" stroke-linecap="round" />
<polyline points="846.2,614.5 876.5,632" fill="none" stroke="#d9603c" stroke-width="1.2" stroke-linejoin="round" stroke-linecap="round" />
<polyline points="817.7,631 848,648.5" fill="none" stroke="#d9603c" stroke-width="1.2" stroke-linejoin="round" stroke-linecap="round" />
<polyline points="789.1,647.5 819.4,665" fill="none" stroke="#d9603c" stroke-width="1.2" stroke-linejoin="round" stroke-linecap="round" />
<polyline points="760.5,664 790.8,681.5" fill="none" stroke="#d9603c" stroke-width="1.2" stroke-linejoin="round" stroke-linecap="round" />
<polyline points="731.9,680.8 762.2,698.3" fill="none" stroke="#d9603c" stroke-width="1.2" stroke-linejoin="round" stroke-linecap="round" />
<polyline points="705.9,705.5 736.3,723" fill="none" stroke="#d9603c" stroke-width="1.2" stroke-linejoin="round" stroke-linecap="round" />
<polyline points="680,730.1 710.3,747.6" fill="none" stroke="#d9603c" stroke-width="1.2" stroke-linejoin="round" stroke-linecap="round" />
<polyline points="654,754.8 684.3,772.3" fill="none" stroke="#d9603c" stroke-width="1.2" stroke-linejoin="round" stroke-linecap="round" />
<polygon points="907.7,616 932.8,601.5 932.8,573.5 907.7,588" fill="#1c476c" stroke="#ffffff" stroke-width="1.2" stroke-linejoin="round" />
<polygon points="907.7,616 882.6,601.5 882.6,573.5 907.7,588" fill="#1c476c" stroke="#ffffff" stroke-width="1.2" stroke-linejoin="round" />
<polygon points="907.7,588 932.8,573.5 907.7,559 882.6,573.5" fill="#1c476c" stroke="#ffffff" stroke-width="1.2" stroke-linejoin="round" />
<polyline points="895.2,566.2 920.3,580.8 920.3,608.8" fill="none" stroke="#e4572e" stroke-width="2.9" stroke-linejoin="round" stroke-linecap="round" stroke-linecap="butt"/>
<polygon points="923.3,581.2 930.8,576.9 930.8,582.2 923.3,586.6" fill="#e9edf2" stroke="none" stroke-width="0" stroke-linejoin="round" />
<polygon points="909.2,608.4 916.8,604.1 916.8,608.8 909.2,613.2" fill="#e9edf2" stroke="none" stroke-width="0" stroke-linejoin="round" />
<polygon points="904.7,608.7 894.7,602.9 894.7,606.2 904.7,612" fill="#9fb2c6" stroke="none" stroke-width="0" stroke-linejoin="round" />
<rect x="900.6" y="593.3" width="1.6" height="3.5" fill="#cfd9e4"/>
<rect x="896.4" y="590.9" width="1.6" height="3.5" fill="#cfd9e4"/>
<rect x="892.4" y="588.6" width="1.6" height="3.5" fill="#cfd9e4"/>
<polygon points="849.7,649.5 874.8,635 874.8,607 849.7,621.5" fill="#1c476c" stroke="#ffffff" stroke-width="1.2" stroke-linejoin="round" />
<polygon points="849.7,649.5 824.6,635 824.6,607 849.7,621.5" fill="#1c476c" stroke="#ffffff" stroke-width="1.2" stroke-linejoin="round" />
<polygon points="849.7,621.5 874.8,607 849.7,592.5 824.6,607" fill="#1c476c" stroke="#ffffff" stroke-width="1.2" stroke-linejoin="round" />
<polyline points="837.1,599.8 862.3,614.2 862.3,642.2" fill="none" stroke="#e4572e" stroke-width="2.9" stroke-linejoin="round" stroke-linecap="round" stroke-linecap="butt"/>
<polygon points="865.3,614.8 872.8,610.4 872.8,615.7 865.3,620.1" fill="#e9edf2" stroke="none" stroke-width="0" stroke-linejoin="round" />
<polygon points="851.2,641.9 858.7,637.6 858.7,642.3 851.2,646.7" fill="#e9edf2" stroke="none" stroke-width="0" stroke-linejoin="round" />
<polygon points="846.7,642.2 836.6,636.4 836.6,639.7 846.7,645.5" fill="#9fb2c6" stroke="none" stroke-width="0" stroke-linejoin="round" />
<rect x="842.6" y="626.8" width="1.6" height="3.5" fill="#cfd9e4"/>
<rect x="838.4" y="624.4" width="1.6" height="3.5" fill="#cfd9e4"/>
<rect x="834.3" y="622.1" width="1.6" height="3.5" fill="#cfd9e4"/>
<polygon points="779.6,690 804.7,675.5 804.7,647.5 779.6,662" fill="#1c476c" stroke="#ffffff" stroke-width="1.2" stroke-linejoin="round" />
<polygon points="779.6,690 754.4,675.5 754.4,647.5 779.6,662" fill="#1c476c" stroke="#ffffff" stroke-width="1.2" stroke-linejoin="round" />
<polygon points="779.6,662 804.7,647.5 779.6,633 754.4,647.5" fill="#1c476c" stroke="#ffffff" stroke-width="1.2" stroke-linejoin="round" />
<polyline points="767,640.2 792.1,654.8 792.1,682.8" fill="none" stroke="#e4572e" stroke-width="2.9" stroke-linejoin="round" stroke-linecap="round" stroke-linecap="butt"/>
<polygon points="795.1,655.2 802.7,650.9 802.7,656.2 795.1,660.6" fill="#e9edf2" stroke="none" stroke-width="0" stroke-linejoin="round" />
<polygon points="781.1,682.4 788.6,678.1 788.6,682.8 781.1,687.2" fill="#e9edf2" stroke="none" stroke-width="0" stroke-linejoin="round" />
<polygon points="776.5,682.7 766.5,676.9 766.5,680.2 776.5,686" fill="#9fb2c6" stroke="none" stroke-width="0" stroke-linejoin="round" />
<rect x="772.5" y="667.3" width="1.6" height="3.5" fill="#cfd9e4"/>
<rect x="768.2" y="664.9" width="1.6" height="3.5" fill="#cfd9e4"/>
<rect x="764.2" y="662.6" width="1.6" height="3.5" fill="#cfd9e4"/>
<path d="M1054.9 654 L885.2 752 Q871.4 760 859.8 771.1 L753.3 873.3 Q743.2 883 755.3 890 L787.3 908.5 Q797.7 914.5 808.1 908.5 L1109.5 734.5 L1109.5 685.5 Z" fill="#1c476c" stroke="#ffffff" stroke-width="1.3" stroke-linejoin="round" stroke-linecap="round" />
<path d="M1109.5 685.5 L938 784.5 Q925.9 791.5 915.8 801.2 L805 907.6 Q797.7 914.5 806.4 909.5 L1109.5 734.5 Z" fill="#1c476c" stroke="#ffffff" stroke-width="1.3" stroke-linejoin="round" stroke-linecap="round" />
<path d="M1109.5 689 L940.7 786.4 Q927.6 794 926.3 808.5 L926.3 808.5 Q925 823 938.1 815.4 L1109.5 716.5" fill="none" stroke="#ffffff" stroke-width="1.2" stroke-linejoin="round" stroke-linecap="round" />
<path d="M1109.5 692 L941.3 789.1 Q931.1 795 929.8 806.5 L929.8 806.5 Q928.5 818 938.7 812.1 L1109.5 713.5" fill="none" stroke="#ffffff" stroke-width="1.2" stroke-linejoin="round" stroke-linecap="round" />
<path d="M1054.9 654 L885.2 752 Q871.4 760 859.8 771.1 L753.3 873.3 Q743.2 883 755.3 890 L787.3 908.5 Q797.7 914.5 806.4 906.2 L915.8 801.2 Q925.9 791.5 938 784.5 L1109.5 685.5 Z" fill="#1c476c" stroke="#ffffff" stroke-width="1.3" stroke-linejoin="round" stroke-linecap="round" />
<path d="M1058 655.8 L886.5 754.8 Q874.4 761.8 864.3 771.5 L757.5 875 Q750.4 881.9 758.9 886.8 L792 905.9 Q798.9 909.9 804.5 904.4 L914.3 798.1 Q922.9 789.8 933.3 783.8 L1106.5 683.8" fill="none" stroke="#ffffff" stroke-width="1.1" stroke-linejoin="round" stroke-linecap="round" />
<path d="M1061 657.5 L889.5 756.5 Q877.4 763.5 867.4 773.3 L761.4 876.8 Q755.8 882.2 762.6 886.1 L793.2 903.8 Q798.3 906.7 802.4 902.6 L911.3 796.4 Q919.8 788 930.2 782 L1103.4 682" fill="none" stroke="#ffffff" stroke-width="1.1" stroke-linejoin="round" stroke-linecap="round" />
<polygon points="1061,663.5 1091.3,681 912.9,784 800.3,890.8 770,873.3 882.6,766.5" fill="none" stroke="#d9603c" stroke-width="1.3" stroke-linejoin="round" />
<polyline points="1024.6,684.5 1054.9,702" fill="none" stroke="#d9603c" stroke-width="1.2" stroke-linejoin="round" stroke-linecap="round" />
<polyline points="996.1,701 1026.4,718.5" fill="none" stroke="#d9603c" stroke-width="1.2" stroke-linejoin="round" stroke-linecap="round" />
<polyline points="967.5,717.5 997.8,735" fill="none" stroke="#d9603c" stroke-width="1.2" stroke-linejoin="round" stroke-linecap="round" />
<polyline points="938.9,734 969.2,751.5" fill="none" stroke="#d9603c" stroke-width="1.2" stroke-linejoin="round" stroke-linecap="round" />
<polyline points="910.3,750.5 940.6,768" fill="none" stroke="#d9603c" stroke-width="1.2" stroke-linejoin="round" stroke-linecap="round" />
<polyline points="881.7,767.3 912.1,784.8" fill="none" stroke="#d9603c" stroke-width="1.2" stroke-linejoin="round" stroke-linecap="round" />
<polyline points="855.8,792 886.1,809.5" fill="none" stroke="#d9603c" stroke-width="1.2" stroke-linejoin="round" stroke-linecap="round" />
<polyline points="829.8,816.6 860.1,834.1" fill="none" stroke="#d9603c" stroke-width="1.2" stroke-linejoin="round" stroke-linecap="round" />
<polyline points="803.8,841.3 834.1,858.8" fill="none" stroke="#d9603c" stroke-width="1.2" stroke-linejoin="round" stroke-linecap="round" />
<polygon points="1038.5,713.5 1063.6,699 1063.6,671 1038.5,685.5" fill="#1c476c" stroke="#ffffff" stroke-width="1.2" stroke-linejoin="round" />
<polygon points="1038.5,713.5 1013.4,699 1013.4,671 1038.5,685.5" fill="#1c476c" stroke="#ffffff" stroke-width="1.2" stroke-linejoin="round" />
<polygon points="1038.5,685.5 1063.6,671 1038.5,656.5 1013.4,671" fill="#1c476c" stroke="#ffffff" stroke-width="1.2" stroke-linejoin="round" />
<polyline points="1025.9,663.8 1051.1,678.2 1051.1,706.2" fill="none" stroke="#e4572e" stroke-width="2.9" stroke-linejoin="round" stroke-linecap="round" stroke-linecap="butt"/>
<polygon points="1054.1,678.8 1061.6,674.4 1061.6,679.7 1054.1,684.1" fill="#e9edf2" stroke="none" stroke-width="0" stroke-linejoin="round" />
<polygon points="1040,705.9 1047.5,701.6 1047.5,706.3 1040,710.7" fill="#e9edf2" stroke="none" stroke-width="0" stroke-linejoin="round" />
<polygon points="1035.5,706.2 1025.4,700.4 1025.4,703.7 1035.5,709.5" fill="#9fb2c6" stroke="none" stroke-width="0" stroke-linejoin="round" />
<rect x="1031.4" y="690.8" width="1.6" height="3.5" fill="#cfd9e4"/>
<rect x="1027.1" y="688.4" width="1.6" height="3.5" fill="#cfd9e4"/>
<rect x="1023.1" y="686.1" width="1.6" height="3.5" fill="#cfd9e4"/>
<polygon points="990,741.5 1015.1,727 1015.1,699 990,713.5" fill="#1c476c" stroke="#ffffff" stroke-width="1.2" stroke-linejoin="round" />
<polygon points="990,741.5 964.9,727 964.9,699 990,713.5" fill="#1c476c" stroke="#ffffff" stroke-width="1.2" stroke-linejoin="round" />
<polygon points="990,713.5 1015.1,699 990,684.5 964.9,699" fill="#1c476c" stroke="#ffffff" stroke-width="1.2" stroke-linejoin="round" />
<polyline points="977.4,691.8 1002.6,706.2 1002.6,734.2" fill="none" stroke="#e4572e" stroke-width="2.9" stroke-linejoin="round" stroke-linecap="round" stroke-linecap="butt"/>
<polygon points="1005.6,706.8 1013.1,702.4 1013.1,707.7 1005.6,712.1" fill="#e9edf2" stroke="none" stroke-width="0" stroke-linejoin="round" />
<polygon points="991.5,733.9 999,729.6 999,734.3 991.5,738.7" fill="#e9edf2" stroke="none" stroke-width="0" stroke-linejoin="round" />
<polygon points="987,734.2 976.9,728.4 976.9,731.7 987,737.5" fill="#9fb2c6" stroke="none" stroke-width="0" stroke-linejoin="round" />
<rect x="982.9" y="718.8" width="1.6" height="3.5" fill="#cfd9e4"/>
<rect x="978.6" y="716.4" width="1.6" height="3.5" fill="#cfd9e4"/>
<rect x="974.6" y="714.1" width="1.6" height="3.5" fill="#cfd9e4"/>
<polygon points="928.5,777 953.6,762.5 953.6,734.5 928.5,749" fill="#1c476c" stroke="#ffffff" stroke-width="1.2" stroke-linejoin="round" />
<polygon points="928.5,777 903.4,762.5 903.4,734.5 928.5,749" fill="#1c476c" stroke="#ffffff" stroke-width="1.2" stroke-linejoin="round" />
<polygon points="928.5,749 953.6,734.5 928.5,720 903.4,734.5" fill="#1c476c" stroke="#ffffff" stroke-width="1.2" stroke-linejoin="round" />
<polyline points="916,727.2 941.1,741.8 941.1,769.8" fill="none" stroke="#e4572e" stroke-width="2.9" stroke-linejoin="round" stroke-linecap="round" stroke-linecap="butt"/>
<polygon points="944.1,742.2 951.6,737.9 951.6,743.2 944.1,747.6" fill="#e9edf2" stroke="none" stroke-width="0" stroke-linejoin="round" />
<polygon points="930,769.4 937.5,765.1 937.5,769.8 930,774.2" fill="#e9edf2" stroke="none" stroke-width="0" stroke-linejoin="round" />
<polygon points="925.5,769.7 915.4,763.9 915.4,767.2 925.5,773" fill="#9fb2c6" stroke="none" stroke-width="0" stroke-linejoin="round" />
<rect x="921.4" y="754.3" width="1.6" height="3.5" fill="#cfd9e4"/>
<rect x="917.2" y="751.9" width="1.6" height="3.5" fill="#cfd9e4"/>
<rect x="913.1" y="749.6" width="1.6" height="3.5" fill="#cfd9e4"/>
<path d="M1220.4 749.5 L1050.6 847.5 Q1036.8 855.5 1025.2 866.6 L918.7 968.8 Q908.6 978.5 920.7 985.5 L952.8 1004 Q963.1 1010 973.5 1004 L1274.9 830 L1274.9 781 Z" fill="#1c476c" stroke="#ffffff" stroke-width="1.3" stroke-linejoin="round" stroke-linecap="round" />
<path d="M1274.9 781 L1103.4 880 Q1091.3 887 1081.2 896.7 L970.4 1003.1 Q963.1 1010 971.8 1005 L1274.9 830 Z" fill="#1c476c" stroke="#ffffff" stroke-width="1.3" stroke-linejoin="round" stroke-linecap="round" />
<path d="M1274.9 784.5 L1106.2 881.9 Q1093.1 889.5 1091.8 904 L1091.8 904 Q1090.5 918.5 1103.6 910.9 L1274.9 812" fill="none" stroke="#ffffff" stroke-width="1.2" stroke-linejoin="round" stroke-linecap="round" />
<path d="M1274.9 787.5 L1106.8 884.6 Q1096.5 890.5 1095.2 902 L1095.2 902 Q1093.9 913.5 1104.2 907.6 L1274.9 809" fill="none" stroke="#ffffff" stroke-width="1.2" stroke-linejoin="round" stroke-linecap="round" />
<path d="M1220.4 749.5 L1050.6 847.5 Q1036.8 855.5 1025.2 866.6 L918.7 968.8 Q908.6 978.5 920.7 985.5 L952.8 1004 Q963.1 1010 971.8 1001.7 L1081.2 896.7 Q1091.3 887 1103.4 880 L1274.9 781 Z" fill="#1c476c" stroke="#ffffff" stroke-width="1.3" stroke-linejoin="round" stroke-linecap="round" />
<path d="M1223.4 751.2 L1051.9 850.2 Q1039.8 857.2 1029.7 867 L922.9 970.5 Q915.8 977.4 924.4 982.3 L957.4 1001.4 Q964.3 1005.4 970 999.9 L1079.7 893.6 Q1088.3 885.2 1098.7 879.2 L1271.9 779.2" fill="none" stroke="#ffffff" stroke-width="1.1" stroke-linejoin="round" stroke-linecap="round" />
<path d="M1226.4 753 L1054.9 852 Q1042.8 859 1032.8 868.8 L926.8 972.3 Q921.2 977.7 928 981.6 L958.6 999.3 Q963.7 1002.2 967.8 998.1 L1076.7 891.9 Q1085.3 883.5 1095.7 877.5 L1268.9 777.5" fill="none" stroke="#ffffff" stroke-width="1.1" stroke-linejoin="round" stroke-linecap="round" />
<polygon points="1226.4,759 1256.7,776.5 1078.3,879.5 965.7,986.3 935.4,968.8 1048,862" fill="none" stroke="#d9603c" stroke-width="1.3" stroke-linejoin="round" />
<polyline points="1190,780 1220.4,797.5" fill="none" stroke="#d9603c" stroke-width="1.2" stroke-linejoin="round" stroke-linecap="round" />
<polyline points="1161.5,796.5 1191.8,814" fill="none" stroke="#d9603c" stroke-width="1.2" stroke-linejoin="round" stroke-linecap="round" />
<polyline points="1132.9,813 1163.2,830.5" fill="none" stroke="#d9603c" stroke-width="1.2" stroke-linejoin="round" stroke-linecap="round" />
<polyline points="1104.3,829.5 1134.6,847" fill="none" stroke="#d9603c" stroke-width="1.2" stroke-linejoin="round" stroke-linecap="round" />
<polyline points="1075.7,846 1106,863.5" fill="none" stroke="#d9603c" stroke-width="1.2" stroke-linejoin="round" stroke-linecap="round" />
<polyline points="1047.2,862.8 1077.5,880.3" fill="none" stroke="#d9603c" stroke-width="1.2" stroke-linejoin="round" stroke-linecap="round" />
<polyline points="1021.2,887.5 1051.5,905" fill="none" stroke="#d9603c" stroke-width="1.2" stroke-linejoin="round" stroke-linecap="round" />
<polyline points="995.2,912.1 1025.5,929.6" fill="none" stroke="#d9603c" stroke-width="1.2" stroke-linejoin="round" stroke-linecap="round" />
<polyline points="969.2,936.8 999.5,954.3" fill="none" stroke="#d9603c" stroke-width="1.2" stroke-linejoin="round" stroke-linecap="round" />
<polygon points="1203,809.5 1228.2,795 1228.2,767 1203,781.5" fill="#1c476c" stroke="#ffffff" stroke-width="1.2" stroke-linejoin="round" />
<polygon points="1203,809.5 1177.9,795 1177.9,767 1203,781.5" fill="#1c476c" stroke="#ffffff" stroke-width="1.2" stroke-linejoin="round" />
<polygon points="1203,781.5 1228.2,767 1203,752.5 1177.9,767" fill="#1c476c" stroke="#ffffff" stroke-width="1.2" stroke-linejoin="round" />
<polyline points="1190.5,759.8 1215.6,774.2 1215.6,802.2" fill="none" stroke="#e4572e" stroke-width="2.9" stroke-linejoin="round" stroke-linecap="round" stroke-linecap="butt"/>
<polygon points="1218.6,774.8 1226.1,770.4 1226.1,775.7 1218.6,780.1" fill="#e9edf2" stroke="none" stroke-width="0" stroke-linejoin="round" />
<polygon points="1204.5,801.9 1212.1,797.6 1212.1,802.3 1204.5,806.7" fill="#e9edf2" stroke="none" stroke-width="0" stroke-linejoin="round" />
<polygon points="1200,802.2 1190,796.4 1190,799.7 1200,805.5" fill="#9fb2c6" stroke="none" stroke-width="0" stroke-linejoin="round" />
<rect x="1196" y="786.8" width="1.6" height="3.5" fill="#cfd9e4"/>
<rect x="1191.7" y="784.4" width="1.6" height="3.5" fill="#cfd9e4"/>
<rect x="1187.7" y="782.1" width="1.6" height="3.5" fill="#cfd9e4"/>
<polygon points="1150.2,840 1175.3,825.5 1175.3,797.5 1150.2,812" fill="#1c476c" stroke="#ffffff" stroke-width="1.2" stroke-linejoin="round" />
<polygon points="1150.2,840 1125.1,825.5 1125.1,797.5 1150.2,812" fill="#1c476c" stroke="#ffffff" stroke-width="1.2" stroke-linejoin="round" />
<polygon points="1150.2,812 1175.3,797.5 1150.2,783 1125.1,797.5" fill="#1c476c" stroke="#ffffff" stroke-width="1.2" stroke-linejoin="round" />
<polyline points="1137.7,790.2 1162.8,804.8 1162.8,832.8" fill="none" stroke="#e4572e" stroke-width="2.9" stroke-linejoin="round" stroke-linecap="round" stroke-linecap="butt"/>
<polygon points="1165.8,805.2 1173.3,800.9 1173.3,806.2 1165.8,810.6" fill="#e9edf2" stroke="none" stroke-width="0" stroke-linejoin="round" />
<polygon points="1151.7,832.4 1159.3,828.1 1159.3,832.8 1151.7,837.2" fill="#e9edf2" stroke="none" stroke-width="0" stroke-linejoin="round" />
<polygon points="1147.2,832.7 1137.2,826.9 1137.2,830.2 1147.2,836" fill="#9fb2c6" stroke="none" stroke-width="0" stroke-linejoin="round" />
<rect x="1143.1" y="817.3" width="1.6" height="3.5" fill="#cfd9e4"/>
<rect x="1138.9" y="814.9" width="1.6" height="3.5" fill="#cfd9e4"/>
<rect x="1134.8" y="812.6" width="1.6" height="3.5" fill="#cfd9e4"/>
<polygon points="1090.5,874.5 1115.6,860 1115.6,832 1090.5,846.5" fill="#1c476c" stroke="#ffffff" stroke-width="1.2" stroke-linejoin="round" />
<polygon points="1090.5,874.5 1065.3,860 1065.3,832 1090.5,846.5" fill="#1c476c" stroke="#ffffff" stroke-width="1.2" stroke-linejoin="round" />
<polygon points="1090.5,846.5 1115.6,832 1090.5,817.5 1065.3,832" fill="#1c476c" stroke="#ffffff" stroke-width="1.2" stroke-linejoin="round" />
<polyline points="1077.9,824.8 1103,839.2 1103,867.2" fill="none" stroke="#e4572e" stroke-width="2.9" stroke-linejoin="round" stroke-linecap="round" stroke-linecap="butt"/>
<polygon points="1106,839.8 1113.6,835.4 1113.6,840.7 1106,845.1" fill="#e9edf2" stroke="none" stroke-width="0" stroke-linejoin="round" />
<polygon points="1092,866.9 1099.5,862.6 1099.5,867.3 1092,871.7" fill="#e9edf2" stroke="none" stroke-width="0" stroke-linejoin="round" />
<polygon points="1087.4,867.2 1077.4,861.4 1077.4,864.7 1087.4,870.5" fill="#9fb2c6" stroke="none" stroke-width="0" stroke-linejoin="round" />
<rect x="1083.4" y="851.8" width="1.6" height="3.5" fill="#cfd9e4"/>
<rect x="1079.1" y="849.4" width="1.6" height="3.5" fill="#cfd9e4"/>
<rect x="1075.1" y="847.1" width="1.6" height="3.5" fill="#cfd9e4"/>
<polygon points="637.7,591.3 689.7,620.6 697,634 656,674 640,668" fill="#0e2238" stroke="none" stroke-width="0" stroke-linejoin="round" />
<polygon points="599.1,576 702.7,641.5 791.2,594.5 799.2,582.5 777.2,580.5" fill="#0e2238" stroke="none" stroke-width="0" stroke-linejoin="round" />
<polygon points="702.7,623.5 603.1,566 603.1,570 702.7,627.5" fill="#1c476c" stroke="#ffffff" stroke-width="1.3" stroke-linejoin="round" />
<polygon points="702.7,627.5 686.8,618.3 686.8,626.3 702.7,635.5" fill="#1c476c" stroke="#ffffff" stroke-width="1.3" stroke-linejoin="round" />
<polygon points="660.9,603.4 644.9,594.1 644.9,602.1 660.9,611.4" fill="#1c476c" stroke="#ffffff" stroke-width="1.3" stroke-linejoin="round" />
<polygon points="619,579.2 603.1,570 603.1,578 619,587.2" fill="#1c476c" stroke="#ffffff" stroke-width="1.3" stroke-linejoin="round" />
<polygon points="702.7,623.5 777.2,580.5 777.2,584.5 702.7,627.5" fill="#1c476c" stroke="#ffffff" stroke-width="1.3" stroke-linejoin="round" />
<polygon points="702.7,627.5 714.6,620.6 714.6,628.6 702.7,635.5" fill="#1c476c" stroke="#ffffff" stroke-width="1.3" stroke-linejoin="round" />
<polygon points="734,609.4 745.9,602.6 745.9,610.6 734,617.4" fill="#1c476c" stroke="#ffffff" stroke-width="1.3" stroke-linejoin="round" />
<polygon points="765.3,591.4 777.2,584.5 777.2,592.5 765.3,599.4" fill="#1c476c" stroke="#ffffff" stroke-width="1.3" stroke-linejoin="round" />
<polygon points="702.7,623.5 777.2,580.5 677.6,523 603.1,566" fill="#1c476c" stroke="#ffffff" stroke-width="1.5" stroke-linejoin="round" />
<polygon points="677.6,560.5 705.3,544.5 705.3,512.5 677.6,528.5" fill="#1c476c" stroke="#ffffff" stroke-width="1.2" stroke-linejoin="round" />
<polygon points="677.6,560.5 649,544 649,512 677.6,528.5" fill="#1c476c" stroke="#ffffff" stroke-width="1.2" stroke-linejoin="round" />
<polygon points="677.6,528.5 705.3,512.5 676.7,496 649,512" fill="#1c476c" stroke="#ffffff" stroke-width="1.2" stroke-linejoin="round" />
<polyline points="691,504.2 663.3,520.2 663.3,552.2" fill="none" stroke="#e4572e" stroke-width="3" stroke-linejoin="round" stroke-linecap="round" stroke-linecap="butt"/>
<polygon points="659.9,520.8 651.3,515.9 651.3,522 659.9,526.9" fill="#e9edf2" stroke="none" stroke-width="0" stroke-linejoin="round" />
<polygon points="675.3,550.9 667.3,546.2 667.3,552.3 675.3,556.9" fill="#e9edf2" stroke="none" stroke-width="0" stroke-linejoin="round" />
<polygon points="680.9,552.8 692.8,545.9 692.8,549.5 680.9,556.3" fill="#9fb2c6" stroke="none" stroke-width="0" stroke-linejoin="round" />
<rect x="683.7" y="532.5" width="1.6" height="3.5" fill="#cfd9e4"/>
<rect x="688.4" y="529.8" width="1.6" height="3.5" fill="#cfd9e4"/>
<rect x="692.9" y="527.2" width="1.6" height="3.5" fill="#cfd9e4"/>
<polygon points="706.2,577 733.9,561 733.9,529 706.2,545" fill="#1c476c" stroke="#ffffff" stroke-width="1.2" stroke-linejoin="round" />
<polygon points="706.2,577 677.6,560.5 677.6,528.5 706.2,545" fill="#1c476c" stroke="#ffffff" stroke-width="1.2" stroke-linejoin="round" />
<polygon points="706.2,545 733.9,529 705.3,512.5 677.6,528.5" fill="#1c476c" stroke="#ffffff" stroke-width="1.2" stroke-linejoin="round" />
<polyline points="719.6,520.8 691.9,536.8 691.9,568.8" fill="none" stroke="#e4572e" stroke-width="3" stroke-linejoin="round" stroke-linecap="round" stroke-linecap="butt"/>
<polygon points="688.4,537.3 679.9,532.4 679.9,538.5 688.4,543.4" fill="#e9edf2" stroke="none" stroke-width="0" stroke-linejoin="round" />
<polygon points="703.9,567.4 695.9,562.7 695.9,568.8 703.9,573.4" fill="#e9edf2" stroke="none" stroke-width="0" stroke-linejoin="round" />
<polygon points="709.5,569.3 721.4,562.4 721.4,566 709.5,572.8" fill="#9fb2c6" stroke="none" stroke-width="0" stroke-linejoin="round" />
<rect x="712.3" y="549" width="1.6" height="3.5" fill="#cfd9e4"/>
<rect x="717" y="546.3" width="1.6" height="3.5" fill="#cfd9e4"/>
<rect x="721.4" y="543.7" width="1.6" height="3.5" fill="#cfd9e4"/>
<polygon points="734.7,593.5 762.5,577.5 762.5,545.5 734.7,561.5" fill="#1c476c" stroke="#ffffff" stroke-width="1.2" stroke-linejoin="round" />
<polygon points="734.7,593.5 706.2,577 706.2,545 734.7,561.5" fill="#1c476c" stroke="#ffffff" stroke-width="1.2" stroke-linejoin="round" />
<polygon points="734.7,561.5 762.5,545.5 733.9,529 706.2,545" fill="#1c476c" stroke="#ffffff" stroke-width="1.2" stroke-linejoin="round" />
<polyline points="748.2,537.2 720.5,553.2 720.5,585.2" fill="none" stroke="#e4572e" stroke-width="3" stroke-linejoin="round" stroke-linecap="round" stroke-linecap="butt"/>
<polygon points="717,553.8 708.5,548.9 708.5,555 717,559.9" fill="#e9edf2" stroke="none" stroke-width="0" stroke-linejoin="round" />
<polygon points="732.5,583.9 724.5,579.2 724.5,585.3 732.5,589.9" fill="#e9edf2" stroke="none" stroke-width="0" stroke-linejoin="round" />
<polygon points="738.1,585.8 750,578.9 750,582.5 738.1,589.3" fill="#9fb2c6" stroke="none" stroke-width="0" stroke-linejoin="round" />
<rect x="740.9" y="565.5" width="1.6" height="3.5" fill="#cfd9e4"/>
<rect x="745.6" y="562.8" width="1.6" height="3.5" fill="#cfd9e4"/>
<rect x="750" y="560.2" width="1.6" height="3.5" fill="#cfd9e4"/>
<polygon points="649.9,576.5 677.6,560.5 677.6,528.5 649.9,544.5" fill="#1c476c" stroke="#ffffff" stroke-width="1.2" stroke-linejoin="round" />
<polygon points="649.9,576.5 621.3,560 621.3,528 649.9,544.5" fill="#1c476c" stroke="#ffffff" stroke-width="1.2" stroke-linejoin="round" />
<polygon points="649.9,544.5 677.6,528.5 649,512 621.3,528" fill="#1c476c" stroke="#ffffff" stroke-width="1.2" stroke-linejoin="round" />
<polyline points="663.3,520.2 635.6,536.2 635.6,568.2" fill="none" stroke="#e4572e" stroke-width="3" stroke-linejoin="round" stroke-linecap="round" stroke-linecap="butt"/>
<polygon points="632.2,536.8 623.6,531.9 623.6,538 632.2,542.9" fill="#e9edf2" stroke="none" stroke-width="0" stroke-linejoin="round" />
<polygon points="647.6,566.9 639.6,562.2 639.6,568.3 647.6,572.9" fill="#e9edf2" stroke="none" stroke-width="0" stroke-linejoin="round" />
<polygon points="653.2,568.8 665.1,561.9 665.1,565.5 653.2,572.3" fill="#9fb2c6" stroke="none" stroke-width="0" stroke-linejoin="round" />
<rect x="656" y="548.5" width="1.6" height="3.5" fill="#cfd9e4"/>
<rect x="660.7" y="545.8" width="1.6" height="3.5" fill="#cfd9e4"/>
<rect x="665.1" y="543.2" width="1.6" height="3.5" fill="#cfd9e4"/>
<polygon points="678.5,593 706.2,577 706.2,545 678.5,561" fill="#1c476c" stroke="#ffffff" stroke-width="1.2" stroke-linejoin="round" />
<polygon points="678.5,593 649.9,576.5 649.9,544.5 678.5,561" fill="#1c476c" stroke="#ffffff" stroke-width="1.2" stroke-linejoin="round" />
<polygon points="678.5,561 706.2,545 677.6,528.5 649.9,544.5" fill="#1c476c" stroke="#ffffff" stroke-width="1.2" stroke-linejoin="round" />
<polyline points="691.9,536.8 664.2,552.8 664.2,584.8" fill="none" stroke="#e4572e" stroke-width="3" stroke-linejoin="round" stroke-linecap="round" stroke-linecap="butt"/>
<polygon points="660.7,553.3 652.2,548.4 652.2,554.5 660.7,559.4" fill="#e9edf2" stroke="none" stroke-width="0" stroke-linejoin="round" />
<polygon points="676.2,583.4 668.2,578.7 668.2,584.8 676.2,589.4" fill="#e9edf2" stroke="none" stroke-width="0" stroke-linejoin="round" />
<polygon points="681.8,585.3 693.7,578.4 693.7,582 681.8,588.8" fill="#9fb2c6" stroke="none" stroke-width="0" stroke-linejoin="round" />
<rect x="684.6" y="565" width="1.6" height="3.5" fill="#cfd9e4"/>
<rect x="689.3" y="562.3" width="1.6" height="3.5" fill="#cfd9e4"/>
<rect x="693.7" y="559.7" width="1.6" height="3.5" fill="#cfd9e4"/>
<polygon points="707,609.5 734.7,593.5 734.7,561.5 707,577.5" fill="#1c476c" stroke="#ffffff" stroke-width="1.2" stroke-linejoin="round" />
<polygon points="707,609.5 678.5,593 678.5,561 707,577.5" fill="#1c476c" stroke="#ffffff" stroke-width="1.2" stroke-linejoin="round" />
<polygon points="707,577.5 734.7,561.5 706.2,545 678.5,561" fill="#1c476c" stroke="#ffffff" stroke-width="1.2" stroke-linejoin="round" />
<polyline points="720.5,553.2 692.7,569.2 692.7,601.2" fill="none" stroke="#e4572e" stroke-width="3" stroke-linejoin="round" stroke-linecap="round" stroke-linecap="butt"/>
<polygon points="689.3,569.8 680.7,564.9 680.7,571 689.3,575.9" fill="#e9edf2" stroke="none" stroke-width="0" stroke-linejoin="round" />
<polygon points="704.7,599.9 696.7,595.2 696.7,601.3 704.7,605.9" fill="#e9edf2" stroke="none" stroke-width="0" stroke-linejoin="round" />
<polygon points="710.4,601.8 722.3,594.9 722.3,598.5 710.4,605.3" fill="#9fb2c6" stroke="none" stroke-width="0" stroke-linejoin="round" />
<rect x="713.2" y="581.5" width="1.6" height="3.5" fill="#cfd9e4"/>
<rect x="717.9" y="578.8" width="1.6" height="3.5" fill="#cfd9e4"/>
<rect x="722.3" y="576.2" width="1.6" height="3.5" fill="#cfd9e4"/>
<polygon points="683.2,544.8 709.2,529.8 709.2,498.3 683.2,513.3" fill="#1c476c" stroke="#ffffff" stroke-width="1.2" stroke-linejoin="round" />
<polygon points="683.2,544.8 655.1,528.5 655.1,497 683.2,513.3" fill="#1c476c" stroke="#ffffff" stroke-width="1.2" stroke-linejoin="round" />
<polygon points="683.2,513.3 709.2,498.3 681,482 655.1,497" fill="#1c476c" stroke="#ffffff" stroke-width="1.2" stroke-linejoin="round" />
<polyline points="695.1,490.2 669.1,505.2 669.1,536.7" fill="none" stroke="#e4572e" stroke-width="2.9" stroke-linejoin="round" stroke-linecap="round" stroke-linecap="butt"/>
<polygon points="665.7,505.7 657.3,500.9 657.3,506.9 665.7,511.7" fill="#e9edf2" stroke="none" stroke-width="0" stroke-linejoin="round" />
<polygon points="680.9,535.3 673.1,530.8 673.1,536.7 680.9,541.3" fill="#e9edf2" stroke="none" stroke-width="0" stroke-linejoin="round" />
<polygon points="686.3,537.3 697.5,530.9 697.5,534.3 686.3,540.8" fill="#9fb2c6" stroke="none" stroke-width="0" stroke-linejoin="round" />
<rect x="688.9" y="517.4" width="1.6" height="3.5" fill="#cfd9e4"/>
<rect x="693.3" y="514.9" width="1.6" height="3.5" fill="#cfd9e4"/>
<rect x="697.5" y="512.5" width="1.6" height="3.5" fill="#cfd9e4"/>
<polygon points="720,567.5 746,552.5 746,521 720,536" fill="#1c476c" stroke="#ffffff" stroke-width="1.2" stroke-linejoin="round" />
<polygon points="720,567.5 691.9,551.2 691.9,519.8 720,536" fill="#1c476c" stroke="#ffffff" stroke-width="1.2" stroke-linejoin="round" />
<polygon points="720,536 746,521 717.8,504.8 691.9,519.8" fill="#1c476c" stroke="#ffffff" stroke-width="1.2" stroke-linejoin="round" />
<polyline points="731.9,512.9 705.9,527.9 705.9,559.4" fill="none" stroke="#e4572e" stroke-width="2.9" stroke-linejoin="round" stroke-linecap="round" stroke-linecap="butt"/>
<polygon points="702.5,528.4 694.1,523.6 694.1,529.6 702.5,534.4" fill="#e9edf2" stroke="none" stroke-width="0" stroke-linejoin="round" />
<polygon points="717.7,558 709.9,553.5 709.9,559.4 717.7,564" fill="#e9edf2" stroke="none" stroke-width="0" stroke-linejoin="round" />
<polygon points="723.1,560 734.3,553.6 734.3,557 723.1,563.5" fill="#9fb2c6" stroke="none" stroke-width="0" stroke-linejoin="round" />
<rect x="725.7" y="540.1" width="1.6" height="3.5" fill="#cfd9e4"/>
<rect x="730.1" y="537.6" width="1.6" height="3.5" fill="#cfd9e4"/>
<rect x="734.3" y="535.2" width="1.6" height="3.5" fill="#cfd9e4"/>
<polygon points="475.6,655.5 579.2,721 667.7,674 675.7,662 653.7,660" fill="#0e2238" stroke="none" stroke-width="0" stroke-linejoin="round" />
<polygon points="579.2,703 479.6,645.5 479.6,649.5 579.2,707" fill="#1c476c" stroke="#ffffff" stroke-width="1.3" stroke-linejoin="round" />
<polygon points="579.2,707 563.3,697.8 563.3,705.8 579.2,715" fill="#1c476c" stroke="#ffffff" stroke-width="1.3" stroke-linejoin="round" />
<polygon points="537.4,682.9 521.4,673.6 521.4,681.6 537.4,690.9" fill="#1c476c" stroke="#ffffff" stroke-width="1.3" stroke-linejoin="round" />
<polygon points="495.5,658.7 479.6,649.5 479.6,657.5 495.5,666.7" fill="#1c476c" stroke="#ffffff" stroke-width="1.3" stroke-linejoin="round" />
<polygon points="579.2,703 653.7,660 653.7,664 579.2,707" fill="#1c476c" stroke="#ffffff" stroke-width="1.3" stroke-linejoin="round" />
<polygon points="579.2,707 591.1,700.1 591.1,708.1 579.2,715" fill="#1c476c" stroke="#ffffff" stroke-width="1.3" stroke-linejoin="round" />
<polygon points="610.5,688.9 622.4,682.1 622.4,690.1 610.5,696.9" fill="#1c476c" stroke="#ffffff" stroke-width="1.3" stroke-linejoin="round" />
<polygon points="641.8,670.9 653.7,664 653.7,672 641.8,678.9" fill="#1c476c" stroke="#ffffff" stroke-width="1.3" stroke-linejoin="round" />
<polygon points="579.2,703 653.7,660 554.1,602.5 479.6,645.5" fill="#1c476c" stroke="#ffffff" stroke-width="1.5" stroke-linejoin="round" />
<polygon points="551.9,645.2 579.6,629.2 579.6,597.2 551.9,613.2" fill="#1c476c" stroke="#ffffff" stroke-width="1.2" stroke-linejoin="round" />
<polygon points="551.9,645.2 523.3,628.8 523.3,596.8 551.9,613.2" fill="#1c476c" stroke="#ffffff" stroke-width="1.2" stroke-linejoin="round" />
<polygon points="551.9,613.2 579.6,597.2 551.1,580.8 523.3,596.8" fill="#1c476c" stroke="#ffffff" stroke-width="1.2" stroke-linejoin="round" />
<polyline points="565.3,589 537.6,605 537.6,637" fill="none" stroke="#e4572e" stroke-width="3" stroke-linejoin="round" stroke-linecap="round" stroke-linecap="butt"/>
<polygon points="534.2,605.6 525.6,600.6 525.6,606.7 534.2,611.7" fill="#e9edf2" stroke="none" stroke-width="0" stroke-linejoin="round" />
<polygon points="549.6,635.6 541.6,631 541.6,637.1 549.6,641.7" fill="#e9edf2" stroke="none" stroke-width="0" stroke-linejoin="round" />
<polygon points="555.2,637.6 567.2,630.7 567.2,634.2 555.2,641.1" fill="#9fb2c6" stroke="none" stroke-width="0" stroke-linejoin="round" />
<rect x="558" y="617.2" width="1.6" height="3.5" fill="#cfd9e4"/>
<rect x="562.8" y="614.5" width="1.6" height="3.5" fill="#cfd9e4"/>
<rect x="567.2" y="612" width="1.6" height="3.5" fill="#cfd9e4"/>
<polygon points="580.5,661.8 608.2,645.8 608.2,613.8 580.5,629.8" fill="#1c476c" stroke="#ffffff" stroke-width="1.2" stroke-linejoin="round" />
<polygon points="580.5,661.8 551.9,645.2 551.9,613.2 580.5,629.8" fill="#1c476c" stroke="#ffffff" stroke-width="1.2" stroke-linejoin="round" />
<polygon points="580.5,629.8 608.2,613.8 579.6,597.2 551.9,613.2" fill="#1c476c" stroke="#ffffff" stroke-width="1.2" stroke-linejoin="round" />
<polyline points="593.9,605.5 566.2,621.5 566.2,653.5" fill="none" stroke="#e4572e" stroke-width="3" stroke-linejoin="round" stroke-linecap="round" stroke-linecap="butt"/>
<polygon points="562.8,622.1 554.2,617.1 554.2,623.2 562.8,628.2" fill="#e9edf2" stroke="none" stroke-width="0" stroke-linejoin="round" />
<polygon points="578.2,652.1 570.2,647.5 570.2,653.6 578.2,658.2" fill="#e9edf2" stroke="none" stroke-width="0" stroke-linejoin="round" />
<polygon points="583.8,654.1 595.7,647.2 595.7,650.7 583.8,657.6" fill="#9fb2c6" stroke="none" stroke-width="0" stroke-linejoin="round" />
<rect x="586.6" y="633.8" width="1.6" height="3.5" fill="#cfd9e4"/>
<rect x="591.3" y="631" width="1.6" height="3.5" fill="#cfd9e4"/>
<rect x="595.8" y="628.5" width="1.6" height="3.5" fill="#cfd9e4"/>
<polygon points="609.1,678.2 636.8,662.2 636.8,630.2 609.1,646.2" fill="#1c476c" stroke="#ffffff" stroke-width="1.2" stroke-linejoin="round" />
<polygon points="609.1,678.2 580.5,661.8 580.5,629.8 609.1,646.2" fill="#1c476c" stroke="#ffffff" stroke-width="1.2" stroke-linejoin="round" />
<polygon points="609.1,646.2 636.8,630.2 608.2,613.8 580.5,629.8" fill="#1c476c" stroke="#ffffff" stroke-width="1.2" stroke-linejoin="round" />
<polyline points="622.5,622 594.8,638 594.8,670" fill="none" stroke="#e4572e" stroke-width="3" stroke-linejoin="round" stroke-linecap="round" stroke-linecap="butt"/>
<polygon points="591.4,638.6 582.8,633.6 582.8,639.7 591.4,644.7" fill="#e9edf2" stroke="none" stroke-width="0" stroke-linejoin="round" />
<polygon points="606.8,668.6 598.8,664 598.8,670.1 606.8,674.7" fill="#e9edf2" stroke="none" stroke-width="0" stroke-linejoin="round" />
<polygon points="612.4,670.6 624.3,663.7 624.3,667.2 612.4,674.1" fill="#9fb2c6" stroke="none" stroke-width="0" stroke-linejoin="round" />
<rect x="615.2" y="650.2" width="1.6" height="3.5" fill="#cfd9e4"/>
<rect x="619.9" y="647.5" width="1.6" height="3.5" fill="#cfd9e4"/>
<rect x="624.4" y="645" width="1.6" height="3.5" fill="#cfd9e4"/>
<polygon points="524.2,661.2 551.9,645.2 551.9,613.2 524.2,629.2" fill="#1c476c" stroke="#ffffff" stroke-width="1.2" stroke-linejoin="round" />
<polygon points="524.2,661.2 495.6,644.8 495.6,612.8 524.2,629.2" fill="#1c476c" stroke="#ffffff" stroke-width="1.2" stroke-linejoin="round" />
<polygon points="524.2,629.2 551.9,613.2 523.3,596.8 495.6,612.8" fill="#1c476c" stroke="#ffffff" stroke-width="1.2" stroke-linejoin="round" />
<polyline points="537.6,605 509.9,621 509.9,653" fill="none" stroke="#e4572e" stroke-width="3" stroke-linejoin="round" stroke-linecap="round" stroke-linecap="butt"/>
<polygon points="506.5,621.6 497.9,616.6 497.9,622.7 506.5,627.7" fill="#e9edf2" stroke="none" stroke-width="0" stroke-linejoin="round" />
<polygon points="521.9,651.6 513.9,647 513.9,653.1 521.9,657.7" fill="#e9edf2" stroke="none" stroke-width="0" stroke-linejoin="round" />
<polygon points="527.5,653.6 539.4,646.7 539.4,650.2 527.5,657.1" fill="#9fb2c6" stroke="none" stroke-width="0" stroke-linejoin="round" />
<rect x="530.3" y="633.2" width="1.6" height="3.5" fill="#cfd9e4"/>
<rect x="535" y="630.5" width="1.6" height="3.5" fill="#cfd9e4"/>
<rect x="539.5" y="628" width="1.6" height="3.5" fill="#cfd9e4"/>
<polygon points="552.8,677.8 580.5,661.8 580.5,629.8 552.8,645.8" fill="#1c476c" stroke="#ffffff" stroke-width="1.2" stroke-linejoin="round" />
<polygon points="552.8,677.8 524.2,661.2 524.2,629.2 552.8,645.8" fill="#1c476c" stroke="#ffffff" stroke-width="1.2" stroke-linejoin="round" />
<polygon points="552.8,645.8 580.5,629.8 551.9,613.2 524.2,629.2" fill="#1c476c" stroke="#ffffff" stroke-width="1.2" stroke-linejoin="round" />
<polyline points="566.2,621.5 538.5,637.5 538.5,669.5" fill="none" stroke="#e4572e" stroke-width="3" stroke-linejoin="round" stroke-linecap="round" stroke-linecap="butt"/>
<polygon points="535.1,638.1 526.5,633.1 526.5,639.2 535.1,644.2" fill="#e9edf2" stroke="none" stroke-width="0" stroke-linejoin="round" />
<polygon points="550.5,668.1 542.5,663.5 542.5,669.6 550.5,674.2" fill="#e9edf2" stroke="none" stroke-width="0" stroke-linejoin="round" />
<polygon points="556.1,670.1 568,663.2 568,666.7 556.1,673.6" fill="#9fb2c6" stroke="none" stroke-width="0" stroke-linejoin="round" />
<rect x="558.9" y="649.8" width="1.6" height="3.5" fill="#cfd9e4"/>
<rect x="563.6" y="647" width="1.6" height="3.5" fill="#cfd9e4"/>
<rect x="568.1" y="644.5" width="1.6" height="3.5" fill="#cfd9e4"/>
<polygon points="581.4,694.2 609.1,678.2 609.1,646.2 581.4,662.2" fill="#1c476c" stroke="#ffffff" stroke-width="1.2" stroke-linejoin="round" />
<polygon points="581.4,694.2 552.8,677.8 552.8,645.8 581.4,662.2" fill="#1c476c" stroke="#ffffff" stroke-width="1.2" stroke-linejoin="round" />
<polygon points="581.4,662.2 609.1,646.2 580.5,629.8 552.8,645.8" fill="#1c476c" stroke="#ffffff" stroke-width="1.2" stroke-linejoin="round" />
<polyline points="594.8,638 567.1,654 567.1,686" fill="none" stroke="#e4572e" stroke-width="3" stroke-linejoin="round" stroke-linecap="round" stroke-linecap="butt"/>
<polygon points="563.6,654.6 555.1,649.6 555.1,655.7 563.6,660.7" fill="#e9edf2" stroke="none" stroke-width="0" stroke-linejoin="round" />
<polygon points="579.1,684.6 571.1,680 571.1,686.1 579.1,690.7" fill="#e9edf2" stroke="none" stroke-width="0" stroke-linejoin="round" />
<polygon points="584.7,686.6 596.6,679.7 596.6,683.2 584.7,690.1" fill="#9fb2c6" stroke="none" stroke-width="0" stroke-linejoin="round" />
<rect x="587.5" y="666.2" width="1.6" height="3.5" fill="#cfd9e4"/>
<rect x="592.2" y="663.5" width="1.6" height="3.5" fill="#cfd9e4"/>
<rect x="596.6" y="661" width="1.6" height="3.5" fill="#cfd9e4"/>
<polygon points="551.9,613.2 579.6,597.2 579.6,565.2 551.9,581.2" fill="#1c476c" stroke="#ffffff" stroke-width="1.2" stroke-linejoin="round" />
<polygon points="551.9,613.2 523.3,596.8 523.3,564.8 551.9,581.2" fill="#1c476c" stroke="#ffffff" stroke-width="1.2" stroke-linejoin="round" />
<polygon points="551.9,581.2 579.6,565.2 551.1,548.8 523.3,564.8" fill="#1c476c" stroke="#ffffff" stroke-width="1.2" stroke-linejoin="round" />
<polyline points="565.3,557 537.6,573 537.6,605" fill="none" stroke="#e4572e" stroke-width="3" stroke-linejoin="round" stroke-linecap="round" stroke-linecap="butt"/>
<polygon points="534.2,573.6 525.6,568.6 525.6,574.7 534.2,579.7" fill="#e9edf2" stroke="none" stroke-width="0" stroke-linejoin="round" />
<polygon points="549.6,603.6 541.6,599 541.6,605.1 549.6,609.7" fill="#e9edf2" stroke="none" stroke-width="0" stroke-linejoin="round" />
<polygon points="555.2,605.6 567.2,598.7 567.2,602.2 555.2,609.1" fill="#9fb2c6" stroke="none" stroke-width="0" stroke-linejoin="round" />
<rect x="558" y="585.2" width="1.6" height="3.5" fill="#cfd9e4"/>
<rect x="562.8" y="582.5" width="1.6" height="3.5" fill="#cfd9e4"/>
<rect x="567.2" y="580" width="1.6" height="3.5" fill="#cfd9e4"/>
<polygon points="580.5,629.8 608.2,613.8 608.2,581.8 580.5,597.8" fill="#1c476c" stroke="#ffffff" stroke-width="1.2" stroke-linejoin="round" />
<polygon points="580.5,629.8 551.9,613.2 551.9,581.2 580.5,597.8" fill="#1c476c" stroke="#ffffff" stroke-width="1.2" stroke-linejoin="round" />
<polygon points="580.5,597.8 608.2,581.8 579.6,565.2 551.9,581.2" fill="#1c476c" stroke="#ffffff" stroke-width="1.2" stroke-linejoin="round" />
<polyline points="593.9,573.5 566.2,589.5 566.2,621.5" fill="none" stroke="#e4572e" stroke-width="3" stroke-linejoin="round" stroke-linecap="round" stroke-linecap="butt"/>
<polygon points="562.8,590.1 554.2,585.1 554.2,591.2 562.8,596.2" fill="#e9edf2" stroke="none" stroke-width="0" stroke-linejoin="round" />
<polygon points="578.2,620.1 570.2,615.5 570.2,621.6 578.2,626.2" fill="#e9edf2" stroke="none" stroke-width="0" stroke-linejoin="round" />
<polygon points="583.8,622.1 595.7,615.2 595.7,618.7 583.8,625.6" fill="#9fb2c6" stroke="none" stroke-width="0" stroke-linejoin="round" />
<rect x="586.6" y="601.8" width="1.6" height="3.5" fill="#cfd9e4"/>
<rect x="591.3" y="599" width="1.6" height="3.5" fill="#cfd9e4"/>
<rect x="595.8" y="596.5" width="1.6" height="3.5" fill="#cfd9e4"/>
<polygon points="609.1,646.2 636.8,630.2 636.8,598.2 609.1,614.2" fill="#1c476c" stroke="#ffffff" stroke-width="1.2" stroke-linejoin="round" />
<polygon points="609.1,646.2 580.5,629.8 580.5,597.8 609.1,614.2" fill="#1c476c" stroke="#ffffff" stroke-width="1.2" stroke-linejoin="round" />
<polygon points="609.1,614.2 636.8,598.2 608.2,581.8 580.5,597.8" fill="#1c476c" stroke="#ffffff" stroke-width="1.2" stroke-linejoin="round" />
<polyline points="622.5,590 594.8,606 594.8,638" fill="none" stroke="#e4572e" stroke-width="3" stroke-linejoin="round" stroke-linecap="round" stroke-linecap="butt"/>
<polygon points="591.4,606.6 582.8,601.6 582.8,607.7 591.4,612.7" fill="#e9edf2" stroke="none" stroke-width="0" stroke-linejoin="round" />
<polygon points="606.8,636.6 598.8,632 598.8,638.1 606.8,642.7" fill="#e9edf2" stroke="none" stroke-width="0" stroke-linejoin="round" />
<polygon points="612.4,638.6 624.3,631.7 624.3,635.2 612.4,642.1" fill="#9fb2c6" stroke="none" stroke-width="0" stroke-linejoin="round" />
<rect x="615.2" y="618.2" width="1.6" height="3.5" fill="#cfd9e4"/>
<rect x="619.9" y="615.5" width="1.6" height="3.5" fill="#cfd9e4"/>
<rect x="624.4" y="613" width="1.6" height="3.5" fill="#cfd9e4"/>
<polygon points="524.2,629.2 551.9,613.2 551.9,581.2 524.2,597.2" fill="#1c476c" stroke="#ffffff" stroke-width="1.2" stroke-linejoin="round" />
<polygon points="524.2,629.2 495.6,612.8 495.6,580.8 524.2,597.2" fill="#1c476c" stroke="#ffffff" stroke-width="1.2" stroke-linejoin="round" />
<polygon points="524.2,597.2 551.9,581.2 523.3,564.8 495.6,580.8" fill="#1c476c" stroke="#ffffff" stroke-width="1.2" stroke-linejoin="round" />
<polyline points="537.6,573 509.9,589 509.9,621" fill="none" stroke="#e4572e" stroke-width="3" stroke-linejoin="round" stroke-linecap="round" stroke-linecap="butt"/>
<polygon points="506.5,589.6 497.9,584.6 497.9,590.7 506.5,595.7" fill="#e9edf2" stroke="none" stroke-width="0" stroke-linejoin="round" />
<polygon points="521.9,619.6 513.9,615 513.9,621.1 521.9,625.7" fill="#e9edf2" stroke="none" stroke-width="0" stroke-linejoin="round" />
<polygon points="527.5,621.6 539.4,614.7 539.4,618.2 527.5,625.1" fill="#9fb2c6" stroke="none" stroke-width="0" stroke-linejoin="round" />
<rect x="530.3" y="601.2" width="1.6" height="3.5" fill="#cfd9e4"/>
<rect x="535" y="598.5" width="1.6" height="3.5" fill="#cfd9e4"/>
<rect x="539.5" y="596" width="1.6" height="3.5" fill="#cfd9e4"/>
<polygon points="552.8,645.8 580.5,629.8 580.5,597.8 552.8,613.8" fill="#1c476c" stroke="#ffffff" stroke-width="1.2" stroke-linejoin="round" />
<polygon points="552.8,645.8 524.2,629.2 524.2,597.2 552.8,613.8" fill="#1c476c" stroke="#ffffff" stroke-width="1.2" stroke-linejoin="round" />
<polygon points="552.8,613.8 580.5,597.8 551.9,581.2 524.2,597.2" fill="#1c476c" stroke="#ffffff" stroke-width="1.2" stroke-linejoin="round" />
<polyline points="566.2,589.5 538.5,605.5 538.5,637.5" fill="none" stroke="#e4572e" stroke-width="3" stroke-linejoin="round" stroke-linecap="round" stroke-linecap="butt"/>
<polygon points="535.1,606.1 526.5,601.1 526.5,607.2 535.1,612.2" fill="#e9edf2" stroke="none" stroke-width="0" stroke-linejoin="round" />
<polygon points="550.5,636.1 542.5,631.5 542.5,637.6 550.5,642.2" fill="#e9edf2" stroke="none" stroke-width="0" stroke-linejoin="round" />
<polygon points="556.1,638.1 568,631.2 568,634.7 556.1,641.6" fill="#9fb2c6" stroke="none" stroke-width="0" stroke-linejoin="round" />
<rect x="558.9" y="617.8" width="1.6" height="3.5" fill="#cfd9e4"/>
<rect x="563.6" y="615" width="1.6" height="3.5" fill="#cfd9e4"/>
<rect x="568.1" y="612.5" width="1.6" height="3.5" fill="#cfd9e4"/>
<polygon points="581.4,662.2 609.1,646.2 609.1,614.2 581.4,630.2" fill="#1c476c" stroke="#ffffff" stroke-width="1.2" stroke-linejoin="round" />
<polygon points="581.4,662.2 552.8,645.8 552.8,613.8 581.4,630.2" fill="#1c476c" stroke="#ffffff" stroke-width="1.2" stroke-linejoin="round" />
<polygon points="581.4,630.2 609.1,614.2 580.5,597.8 552.8,613.8" fill="#1c476c" stroke="#ffffff" stroke-width="1.2" stroke-linejoin="round" />
<polyline points="594.8,606 567.1,622 567.1,654" fill="none" stroke="#e4572e" stroke-width="3" stroke-linejoin="round" stroke-linecap="round" stroke-linecap="butt"/>
<polygon points="563.6,622.6 555.1,617.6 555.1,623.7 563.6,628.7" fill="#e9edf2" stroke="none" stroke-width="0" stroke-linejoin="round" />
<polygon points="579.1,652.6 571.1,648 571.1,654.1 579.1,658.7" fill="#e9edf2" stroke="none" stroke-width="0" stroke-linejoin="round" />
<polygon points="584.7,654.6 596.6,647.7 596.6,651.2 584.7,658.1" fill="#9fb2c6" stroke="none" stroke-width="0" stroke-linejoin="round" />
<rect x="587.5" y="634.2" width="1.6" height="3.5" fill="#cfd9e4"/>
<rect x="592.2" y="631.5" width="1.6" height="3.5" fill="#cfd9e4"/>
<rect x="596.6" y="629" width="1.6" height="3.5" fill="#cfd9e4"/>
<polygon points="551.9,581.2 579.6,565.2 579.6,533.2 551.9,549.2" fill="#1c476c" stroke="#ffffff" stroke-width="1.2" stroke-linejoin="round" />
<polygon points="551.9,581.2 523.3,564.8 523.3,532.8 551.9,549.2" fill="#1c476c" stroke="#ffffff" stroke-width="1.2" stroke-linejoin="round" />
<polygon points="551.9,549.2 579.6,533.2 551.1,516.8 523.3,532.8" fill="#1c476c" stroke="#ffffff" stroke-width="1.2" stroke-linejoin="round" />
<polyline points="565.3,525 537.6,541 537.6,573" fill="none" stroke="#e4572e" stroke-width="3" stroke-linejoin="round" stroke-linecap="round" stroke-linecap="butt"/>
<polygon points="534.2,541.6 525.6,536.6 525.6,542.7 534.2,547.7" fill="#e9edf2" stroke="none" stroke-width="0" stroke-linejoin="round" />
<polygon points="549.6,571.6 541.6,567 541.6,573.1 549.6,577.7" fill="#e9edf2" stroke="none" stroke-width="0" stroke-linejoin="round" />
<polygon points="555.2,573.6 567.2,566.7 567.2,570.2 555.2,577.1" fill="#9fb2c6" stroke="none" stroke-width="0" stroke-linejoin="round" />
<rect x="558" y="553.2" width="1.6" height="3.5" fill="#cfd9e4"/>
<rect x="562.8" y="550.5" width="1.6" height="3.5" fill="#cfd9e4"/>
<rect x="567.2" y="548" width="1.6" height="3.5" fill="#cfd9e4"/>
<polygon points="580.5,597.8 608.2,581.8 608.2,549.8 580.5,565.8" fill="#1c476c" stroke="#ffffff" stroke-width="1.2" stroke-linejoin="round" />
<polygon points="580.5,597.8 551.9,581.2 551.9,549.2 580.5,565.8" fill="#1c476c" stroke="#ffffff" stroke-width="1.2" stroke-linejoin="round" />
<polygon points="580.5,565.8 608.2,549.8 579.6,533.2 551.9,549.2" fill="#1c476c" stroke="#ffffff" stroke-width="1.2" stroke-linejoin="round" />
<polyline points="593.9,541.5 566.2,557.5 566.2,589.5" fill="none" stroke="#e4572e" stroke-width="3" stroke-linejoin="round" stroke-linecap="round" stroke-linecap="butt"/>
<polygon points="562.8,558.1 554.2,553.1 554.2,559.2 562.8,564.2" fill="#e9edf2" stroke="none" stroke-width="0" stroke-linejoin="round" />
<polygon points="578.2,588.1 570.2,583.5 570.2,589.6 578.2,594.2" fill="#e9edf2" stroke="none" stroke-width="0" stroke-linejoin="round" />
<polygon points="583.8,590.1 595.7,583.2 595.7,586.7 583.8,593.6" fill="#9fb2c6" stroke="none" stroke-width="0" stroke-linejoin="round" />
<rect x="586.6" y="569.8" width="1.6" height="3.5" fill="#cfd9e4"/>
<rect x="591.3" y="567" width="1.6" height="3.5" fill="#cfd9e4"/>
<rect x="595.8" y="564.5" width="1.6" height="3.5" fill="#cfd9e4"/>
<polygon points="609.1,614.2 636.8,598.2 636.8,566.2 609.1,582.2" fill="#1c476c" stroke="#ffffff" stroke-width="1.2" stroke-linejoin="round" />
<polygon points="609.1,614.2 580.5,597.8 580.5,565.8 609.1,582.2" fill="#1c476c" stroke="#ffffff" stroke-width="1.2" stroke-linejoin="round" />
<polygon points="609.1,582.2 636.8,566.2 608.2,549.8 580.5,565.8" fill="#1c476c" stroke="#ffffff" stroke-width="1.2" stroke-linejoin="round" />
<polyline points="622.5,558 594.8,574 594.8,606" fill="none" stroke="#e4572e" stroke-width="3" stroke-linejoin="round" stroke-linecap="round" stroke-linecap="butt"/>
<polygon points="591.4,574.6 582.8,569.6 582.8,575.7 591.4,580.7" fill="#e9edf2" stroke="none" stroke-width="0" stroke-linejoin="round" />
<polygon points="606.8,604.6 598.8,600 598.8,606.1 606.8,610.7" fill="#e9edf2" stroke="none" stroke-width="0" stroke-linejoin="round" />
<polygon points="612.4,606.6 624.3,599.7 624.3,603.2 612.4,610.1" fill="#9fb2c6" stroke="none" stroke-width="0" stroke-linejoin="round" />
<rect x="615.2" y="586.2" width="1.6" height="3.5" fill="#cfd9e4"/>
<rect x="619.9" y="583.5" width="1.6" height="3.5" fill="#cfd9e4"/>
<rect x="624.4" y="581" width="1.6" height="3.5" fill="#cfd9e4"/>
<polygon points="524.2,597.2 551.9,581.2 551.9,549.2 524.2,565.2" fill="#1c476c" stroke="#ffffff" stroke-width="1.2" stroke-linejoin="round" />
<polygon points="524.2,597.2 495.6,580.8 495.6,548.8 524.2,565.2" fill="#1c476c" stroke="#ffffff" stroke-width="1.2" stroke-linejoin="round" />
<polygon points="524.2,565.2 551.9,549.2 523.3,532.8 495.6,548.8" fill="#1c476c" stroke="#ffffff" stroke-width="1.2" stroke-linejoin="round" />
<polyline points="537.6,541 509.9,557 509.9,589" fill="none" stroke="#e4572e" stroke-width="3" stroke-linejoin="round" stroke-linecap="round" stroke-linecap="butt"/>
<polygon points="506.5,557.6 497.9,552.6 497.9,558.7 506.5,563.7" fill="#e9edf2" stroke="none" stroke-width="0" stroke-linejoin="round" />
<polygon points="521.9,587.6 513.9,583 513.9,589.1 521.9,593.7" fill="#e9edf2" stroke="none" stroke-width="0" stroke-linejoin="round" />
<polygon points="527.5,589.6 539.4,582.7 539.4,586.2 527.5,593.1" fill="#9fb2c6" stroke="none" stroke-width="0" stroke-linejoin="round" />
<rect x="530.3" y="569.2" width="1.6" height="3.5" fill="#cfd9e4"/>
<rect x="535" y="566.5" width="1.6" height="3.5" fill="#cfd9e4"/>
<rect x="539.5" y="564" width="1.6" height="3.5" fill="#cfd9e4"/>
<polygon points="552.8,613.8 580.5,597.8 580.5,565.8 552.8,581.8" fill="#1c476c" stroke="#ffffff" stroke-width="1.2" stroke-linejoin="round" />
<polygon points="552.8,613.8 524.2,597.2 524.2,565.2 552.8,581.8" fill="#1c476c" stroke="#ffffff" stroke-width="1.2" stroke-linejoin="round" />
<polygon points="552.8,581.8 580.5,565.8 551.9,549.2 524.2,565.2" fill="#1c476c" stroke="#ffffff" stroke-width="1.2" stroke-linejoin="round" />
<polyline points="566.2,557.5 538.5,573.5 538.5,605.5" fill="none" stroke="#e4572e" stroke-width="3" stroke-linejoin="round" stroke-linecap="round" stroke-linecap="butt"/>
<polygon points="535.1,574.1 526.5,569.1 526.5,575.2 535.1,580.2" fill="#e9edf2" stroke="none" stroke-width="0" stroke-linejoin="round" />
<polygon points="550.5,604.1 542.5,599.5 542.5,605.6 550.5,610.2" fill="#e9edf2" stroke="none" stroke-width="0" stroke-linejoin="round" />
<polygon points="556.1,606.1 568,599.2 568,602.7 556.1,609.6" fill="#9fb2c6" stroke="none" stroke-width="0" stroke-linejoin="round" />
<rect x="558.9" y="585.8" width="1.6" height="3.5" fill="#cfd9e4"/>
<rect x="563.6" y="583" width="1.6" height="3.5" fill="#cfd9e4"/>
<rect x="568.1" y="580.5" width="1.6" height="3.5" fill="#cfd9e4"/>
<polygon points="581.4,630.2 609.1,614.2 609.1,582.2 581.4,598.2" fill="#1c476c" stroke="#ffffff" stroke-width="1.2" stroke-linejoin="round" />
<polygon points="581.4,630.2 552.8,613.8 552.8,581.8 581.4,598.2" fill="#1c476c" stroke="#ffffff" stroke-width="1.2" stroke-linejoin="round" />
<polygon points="581.4,598.2 609.1,582.2 580.5,565.8 552.8,581.8" fill="#1c476c" stroke="#ffffff" stroke-width="1.2" stroke-linejoin="round" />
<polyline points="594.8,574 567.1,590 567.1,622" fill="none" stroke="#e4572e" stroke-width="3" stroke-linejoin="round" stroke-linecap="round" stroke-linecap="butt"/>
<polygon points="563.6,590.6 555.1,585.6 555.1,591.7 563.6,596.7" fill="#e9edf2" stroke="none" stroke-width="0" stroke-linejoin="round" />
<polygon points="579.1,620.6 571.1,616 571.1,622.1 579.1,626.7" fill="#e9edf2" stroke="none" stroke-width="0" stroke-linejoin="round" />
<polygon points="584.7,622.6 596.6,615.7 596.6,619.2 584.7,626.1" fill="#9fb2c6" stroke="none" stroke-width="0" stroke-linejoin="round" />
<rect x="587.5" y="602.2" width="1.6" height="3.5" fill="#cfd9e4"/>
<rect x="592.2" y="599.5" width="1.6" height="3.5" fill="#cfd9e4"/>
<rect x="596.6" y="597" width="1.6" height="3.5" fill="#cfd9e4"/>
<path d="M469.2 883.8 Q463.4 885 468.4 888.3 L512.6 917.7 Q517.6 921 522.9 918.1 L613.8 868.4 Q619.1 865.5 618.1 859.6 L618.1 859.4 Q617.1 853.5 611.2 854.7 Z" fill="#0e2238" stroke="none" stroke-width="0" stroke-linejoin="round" stroke-linecap="round" />
<path d="M469.4 864 Q469.4 857 475.4 853.5 L549 811 Q556.8 806.5 564.6 811 L601 832 Q607.1 835.5 607.1 842.5 L607.1 855.5 Q607.1 861.5 601.9 864.5 L526.5 908 Q519.6 912 512.7 908 L474.6 886 Q469.4 883 469.4 877 Z" fill="#1c476c" stroke="#ffffff" stroke-width="1.5" stroke-linejoin="round" stroke-linecap="round" />
<polyline points="522.6,906 605.1,855.5" fill="none" stroke="#ffffff" stroke-width="1.1" stroke-linejoin="round" stroke-linecap="round" />
<ellipse cx="534.5" cy="901.9" rx="6" ry="7" fill="#1c476c" stroke="#dfe8f1" stroke-width="1.1"/>
<ellipse cx="534.9" cy="901.9" rx="3.7" ry="4.3" fill="none" stroke="#dfe8f1" stroke-width="0.9"/>
<ellipse cx="535.1" cy="901.9" rx="1.5" ry="1.8" fill="#dfe8f1" stroke="none"/>
<ellipse cx="563.3" cy="885.2" rx="6" ry="7" fill="#1c476c" stroke="#dfe8f1" stroke-width="1.1"/>
<ellipse cx="563.7" cy="885.2" rx="3.7" ry="4.3" fill="none" stroke="#dfe8f1" stroke-width="0.9"/>
<ellipse cx="563.9" cy="885.2" rx="1.5" ry="1.8" fill="#dfe8f1" stroke="none"/>
<ellipse cx="592.2" cy="868.6" rx="6" ry="7" fill="#1c476c" stroke="#dfe8f1" stroke-width="1.1"/>
<ellipse cx="592.6" cy="868.6" rx="3.7" ry="4.3" fill="none" stroke="#dfe8f1" stroke-width="0.9"/>
<ellipse cx="592.8" cy="868.6" rx="1.5" ry="1.8" fill="#dfe8f1" stroke="none"/>
<path d="M475.4 860.5 Q469.4 857 475.4 853.5 L549 811 Q556.8 806.5 564.6 811 L601 832 Q607.1 835.5 601 839 L527.4 881.5 Q519.6 886 511.8 881.5 Z" fill="#1c476c" stroke="#ffffff" stroke-width="1.5" stroke-linejoin="round" stroke-linecap="round" />
<path d="M482.4 859.5 Q478 857 482.4 854.5 L550.8 815 Q556.8 811.5 562.9 815 L594.1 833 Q598.4 835.5 594.1 838 L525.7 877.5 Q519.6 881 513.5 877.5 Z" fill="none" stroke="#ffffff" stroke-width="1.2" stroke-linejoin="round" stroke-linecap="round" />
<path d="M473.7 867 Q473.7 864.5 475.9 865.8 L512.2 886.8 Q514.4 888 514.4 890.5 L514.4 898 Q514.4 900.5 512.2 899.2 L475.9 878.2 Q473.7 877 473.7 874.5 Z" fill="#f2601f" stroke="#ffffff" stroke-width="1.2" stroke-linejoin="round" stroke-linecap="round" />
<polyline points="471.1,879 517,905.5" fill="none" stroke="#ffffff" stroke-width="1.1" stroke-linejoin="round" stroke-linecap="round" />
<ellipse cx="513" cy="866" rx="23.5" ry="13.5" fill="#1c476c" stroke="#fff" stroke-width="1.4"/>
<path d="M489.5 854 L489.5 866 A23.5 13.5 0 0 0 536.5 866 L536.5 854" fill="#1c476c" stroke="#ffffff" stroke-width="1.4" stroke-linejoin="round" stroke-linecap="round" />
<ellipse cx="513" cy="854" rx="23.5" ry="13.5" fill="#1c476c" stroke="#fff" stroke-width="1.4"/>
<polygon points="497.6,812 512,820 527.3,810 527,842 514,852 499,842" fill="#1c476c" stroke="#ffffff" stroke-width="1.4" stroke-linejoin="round" />
<polyline points="512,820 513,851" fill="none" stroke="#ffffff" stroke-width="1.1" stroke-linejoin="round" stroke-linecap="round" />
<rect x="501.5" y="824" width="6.5" height="9" fill="#f2601f" transform="skewY(28) translate(0,-268)"/>
<polygon points="499,792 511,786.5 524.7,792 524.7,806 512,812 499,806" fill="#1c476c" stroke="#ffffff" stroke-width="1.4" stroke-linejoin="round" />
<polyline points="499,792 512,798 524.7,792" fill="none" stroke="#ffffff" stroke-width="1.1" stroke-linejoin="round" stroke-linecap="round" />
<polyline points="512,798 512,812" fill="none" stroke="#ffffff" stroke-width="1.1" stroke-linejoin="round" stroke-linecap="round" />
<circle cx="503" cy="799.5" r="1.8" fill="none" stroke="#fff" stroke-width="1"/><circle cx="508" cy="801.8" r="1.8" fill="none" stroke="#fff" stroke-width="1"/>
<ellipse cx="513.1" cy="738.7" rx="9.3" ry="12.2" fill="none" stroke="#e4572e" stroke-width="1.2" transform="rotate(-18 513.1 738.7)"/>
<path d="M510.4 740 A3.5 3.5 0 0 1 515.8 740" fill="none" stroke="#e4572e" stroke-width="1.1" stroke-linejoin="round" stroke-linecap="round" />
<path d="M508.4 738.5 A6 6 0 0 1 517.8 738.5" fill="none" stroke="#e4572e" stroke-width="1.1" stroke-linejoin="round" stroke-linecap="round" />
<path d="M506.5 736.9 A8.5 8.5 0 0 1 519.7 736.9" fill="none" stroke="#e4572e" stroke-width="1.1" stroke-linejoin="round" stroke-linecap="round" />
<circle cx="513.1" cy="742.9" r="1.5" fill="#e4572e"/>
<polyline points="513.1,743.7 513.1,786.5" fill="none" stroke="#e4572e" stroke-width="1.1" stroke-linejoin="round" stroke-linecap="round" />
<polygon points="562.2,849.8 594.2,831.3 594.2,795.3 562.2,813.8" fill="#1c476c" stroke="#ffffff" stroke-width="1.2" stroke-linejoin="round" />
<polygon points="562.2,849.8 530.2,831.3 530.2,795.3 562.2,813.8" fill="#1c476c" stroke="#ffffff" stroke-width="1.2" stroke-linejoin="round" />
<polygon points="562.2,813.8 594.2,795.3 562.2,776.8 530.2,795.3" fill="#1c476c" stroke="#ffffff" stroke-width="1.2" stroke-linejoin="round" />
<polyline points="546.2,786 578.2,804.5 578.2,840.5" fill="none" stroke="#e4572e" stroke-width="3.7" stroke-linejoin="round" stroke-linecap="round" stroke-linecap="butt"/>
<polygon points="582.1,805.2 591.7,799.7 591.7,806.5 582.1,812" fill="#e9edf2" stroke="none" stroke-width="0" stroke-linejoin="round" />
<polygon points="564.1,840 573.7,834.5 573.7,840.6 564.1,846.2" fill="#e9edf2" stroke="none" stroke-width="0" stroke-linejoin="round" />
<polygon points="558.4,840.4 545.5,833 545.5,837.3 558.4,844.7" fill="#9fb2c6" stroke="none" stroke-width="0" stroke-linejoin="round" />
<rect x="553.4" y="820.7" width="1.6" height="3.5" fill="#cfd9e4"/>
<rect x="547.9" y="817.5" width="1.6" height="3.5" fill="#cfd9e4"/>
<rect x="542.8" y="814.6" width="1.6" height="3.5" fill="#cfd9e4"/>
<path d="M562.2 794.5 C557 786 555.5 782 555.5 778.5 A6.7 6.7 0 0 1 569 778.5 C569 782 567.5 786 562.2 794.5 Z" fill="none" stroke="#e8eef5" stroke-width="1.2" stroke-linejoin="round" stroke-linecap="round" />
<circle cx="562.2" cy="778.3" r="2.6" fill="none" stroke="#e8eef5" stroke-width="1.1"/>
<path d="M608.6 969.2 Q602.7 970.4 607.7 973.7 L653.3 1003.9 Q658.3 1007.2 663.6 1004.3 L759.7 951.6 Q765 948.7 764 942.8 L764 942.6 Q763 936.7 757.1 937.9 Z" fill="#0e2238" stroke="none" stroke-width="0" stroke-linejoin="round" stroke-linecap="round" />
<path d="M608.7 948.4 Q608.7 941.4 614.7 937.9 L693.6 892.4 Q701.3 887.9 709.1 892.4 L746.9 914.2 Q753 917.7 753 924.7 L753 938.7 Q753 944.7 747.8 947.7 L667.2 994.2 Q660.3 998.2 653.4 994.2 L613.9 971.4 Q608.7 968.4 608.7 962.4 Z" fill="#1c476c" stroke="#ffffff" stroke-width="1.5" stroke-linejoin="round" stroke-linecap="round" />
<polyline points="663.3,992.2 751,938.7" fill="none" stroke="#ffffff" stroke-width="1.1" stroke-linejoin="round" stroke-linecap="round" />
<ellipse cx="676.1" cy="987.6" rx="6" ry="7" fill="#1c476c" stroke="#dfe8f1" stroke-width="1.1"/>
<ellipse cx="676.5" cy="987.6" rx="3.7" ry="4.3" fill="none" stroke="#dfe8f1" stroke-width="0.9"/>
<ellipse cx="676.7" cy="987.6" rx="1.5" ry="1.8" fill="#dfe8f1" stroke="none"/>
<ellipse cx="706.6" cy="970" rx="6" ry="7" fill="#1c476c" stroke="#dfe8f1" stroke-width="1.1"/>
<ellipse cx="707" cy="970" rx="3.7" ry="4.3" fill="none" stroke="#dfe8f1" stroke-width="0.9"/>
<ellipse cx="707.2" cy="970" rx="1.5" ry="1.8" fill="#dfe8f1" stroke="none"/>
<ellipse cx="737.2" cy="952.3" rx="6" ry="7" fill="#1c476c" stroke="#dfe8f1" stroke-width="1.1"/>
<ellipse cx="737.6" cy="952.3" rx="3.7" ry="4.3" fill="none" stroke="#dfe8f1" stroke-width="0.9"/>
<ellipse cx="737.8" cy="952.3" rx="1.5" ry="1.8" fill="#dfe8f1" stroke="none"/>
<path d="M614.7 944.9 Q608.7 941.4 614.7 937.9 L693.6 892.4 Q701.3 887.9 709.1 892.4 L746.9 914.2 Q753 917.7 746.9 921.2 L668.1 966.7 Q660.3 971.2 652.5 966.7 Z" fill="#1c476c" stroke="#ffffff" stroke-width="1.5" stroke-linejoin="round" stroke-linecap="round" />
<path d="M621.7 943.9 Q617.3 941.4 621.7 938.9 L695.3 896.4 Q701.3 892.9 707.4 896.4 L740 915.2 Q744.3 917.7 740 920.2 L666.4 962.7 Q660.3 966.2 654.2 962.7 Z" fill="none" stroke="#ffffff" stroke-width="1.2" stroke-linejoin="round" stroke-linecap="round" />
<path d="M613 951.4 Q613 948.9 615.2 950.2 L652.9 972 Q655.1 973.2 655.1 975.7 L655.1 983.2 Q655.1 985.7 652.9 984.5 L615.2 962.7 Q613 961.4 613 958.9 Z" fill="#f2601f" stroke="#ffffff" stroke-width="1.2" stroke-linejoin="round" stroke-linecap="round" />
<polyline points="610.4,964.4 657.7,991.7" fill="none" stroke="#ffffff" stroke-width="1.1" stroke-linejoin="round" stroke-linecap="round" />
<polygon points="701.6,940.2 735.4,920.7 735.4,881.7 701.6,901.2" fill="#1c476c" stroke="#ffffff" stroke-width="1.2" stroke-linejoin="round" />
<polygon points="701.6,940.2 667.8,920.7 667.8,881.7 701.6,901.2" fill="#1c476c" stroke="#ffffff" stroke-width="1.2" stroke-linejoin="round" />
<polygon points="701.6,901.2 735.4,881.7 701.6,862.2 667.8,881.7" fill="#1c476c" stroke="#ffffff" stroke-width="1.2" stroke-linejoin="round" />
<polyline points="684.7,872 718.5,891.5 718.5,930.5" fill="none" stroke="#e4572e" stroke-width="3.9" stroke-linejoin="round" stroke-linecap="round" stroke-linecap="butt"/>
<polygon points="722.5,892.2 732.7,886.4 732.7,893.8 722.5,899.6" fill="#e9edf2" stroke="none" stroke-width="0" stroke-linejoin="round" />
<polygon points="703.6,929.7 713.8,923.8 713.8,930.5 703.6,936.3" fill="#e9edf2" stroke="none" stroke-width="0" stroke-linejoin="round" />
<polygon points="697.5,930.1 684,922.3 684,926.9 697.5,934.7" fill="#9fb2c6" stroke="none" stroke-width="0" stroke-linejoin="round" />
<rect x="692.4" y="908.8" width="1.6" height="3.5" fill="#cfd9e4"/>
<rect x="686.6" y="905.5" width="1.6" height="3.5" fill="#cfd9e4"/>
<rect x="681.2" y="902.4" width="1.6" height="3.5" fill="#cfd9e4"/>
<polygon points="702.9,898.9 736.7,879.4 736.7,840.4 702.9,859.9" fill="#1c476c" stroke="#ffffff" stroke-width="1.2" stroke-linejoin="round" />
<polygon points="702.9,898.9 669.1,879.4 669.1,840.4 702.9,859.9" fill="#1c476c" stroke="#ffffff" stroke-width="1.2" stroke-linejoin="round" />
<polygon points="702.9,859.9 736.7,840.4 702.9,820.9 669.1,840.4" fill="#1c476c" stroke="#ffffff" stroke-width="1.2" stroke-linejoin="round" />
<polyline points="686,830.6 719.8,850.1 719.8,889.1" fill="none" stroke="#e4572e" stroke-width="3.9" stroke-linejoin="round" stroke-linecap="round" stroke-linecap="butt"/>
<polygon points="723.8,850.9 734,845.1 734,852.5 723.8,858.3" fill="#e9edf2" stroke="none" stroke-width="0" stroke-linejoin="round" />
<polygon points="704.9,888.4 715.1,882.5 715.1,889.1 704.9,895" fill="#e9edf2" stroke="none" stroke-width="0" stroke-linejoin="round" />
<polygon points="698.8,888.8 685.3,881 685.3,885.6 698.8,893.4" fill="#9fb2c6" stroke="none" stroke-width="0" stroke-linejoin="round" />
<rect x="693.7" y="867.5" width="1.6" height="3.5" fill="#cfd9e4"/>
<rect x="687.9" y="864.2" width="1.6" height="3.5" fill="#cfd9e4"/>
<rect x="682.5" y="861.1" width="1.6" height="3.5" fill="#cfd9e4"/>
<polygon points="656.4,963.4 690.2,943.9 690.2,905.2 656.4,924.7" fill="#1c476c" stroke="#ffffff" stroke-width="1.2" stroke-linejoin="round" />
<polygon points="656.4,963.4 622.6,943.9 622.6,905.2 656.4,924.7" fill="#1c476c" stroke="#ffffff" stroke-width="1.2" stroke-linejoin="round" />
<polygon points="656.4,924.7 690.2,905.2 656.4,885.7 622.6,905.2" fill="#1c476c" stroke="#ffffff" stroke-width="1.2" stroke-linejoin="round" />
<polyline points="639.5,895.4 673.3,914.9 673.3,953.6" fill="none" stroke="#e4572e" stroke-width="3.9" stroke-linejoin="round" stroke-linecap="round" stroke-linecap="butt"/>
<polygon points="677.3,915.7 687.5,909.9 687.5,917.2 677.3,923.1" fill="#e9edf2" stroke="none" stroke-width="0" stroke-linejoin="round" />
<polygon points="658.4,952.9 668.6,947.1 668.6,953.7 658.4,959.5" fill="#e9edf2" stroke="none" stroke-width="0" stroke-linejoin="round" />
<polygon points="652.3,953.3 638.8,945.5 638.8,950.2 652.3,958" fill="#9fb2c6" stroke="none" stroke-width="0" stroke-linejoin="round" />
<rect x="647.2" y="932.2" width="1.6" height="3.5" fill="#cfd9e4"/>
<rect x="641.4" y="928.9" width="1.6" height="3.5" fill="#cfd9e4"/>
<rect x="636" y="925.8" width="1.6" height="3.5" fill="#cfd9e4"/>
<ellipse cx="701.6" cy="789.1" rx="9.3" ry="12.2" fill="none" stroke="#e4572e" stroke-width="1.2" transform="rotate(-18 701.6 789.1)"/>
<path d="M698.9 790.4 A3.5 3.5 0 0 1 704.3 790.4" fill="none" stroke="#e4572e" stroke-width="1.1" stroke-linejoin="round" stroke-linecap="round" />
<path d="M696.9 788.9 A6 6 0 0 1 706.3 788.9" fill="none" stroke="#e4572e" stroke-width="1.1" stroke-linejoin="round" stroke-linecap="round" />
<path d="M695 787.3 A8.5 8.5 0 0 1 708.2 787.3" fill="none" stroke="#e4572e" stroke-width="1.1" stroke-linejoin="round" stroke-linecap="round" />
<circle cx="701.6" cy="793.3" r="1.5" fill="#e4572e"/>
<polyline points="701.6,794.1 701.6,834" fill="none" stroke="#e4572e" stroke-width="1.1" stroke-linejoin="round" stroke-linecap="round" />
<path d="M776.6 1060.9 Q770.7 1062 775.7 1065.2 L824.7 1097.4 Q829.7 1100.7 835 1097.8 L926.8 1047.6 Q932 1044.7 931 1038.8 L931 1038.6 Q930 1032.7 924.1 1033.8 Z" fill="#0e2238" stroke="none" stroke-width="0" stroke-linejoin="round" stroke-linecap="round" />
<path d="M776.7 1042 Q776.7 1035 782.8 1031.5 L857.2 988.5 Q865 984 872.8 988.5 L914 1012.2 Q920 1015.7 920 1022.7 L920 1034.7 Q920 1040.7 914.8 1043.7 L838.6 1087.7 Q831.7 1091.7 824.8 1087.7 L781.9 1063 Q776.7 1060 776.7 1054 Z" fill="#1c476c" stroke="#ffffff" stroke-width="1.5" stroke-linejoin="round" stroke-linecap="round" />
<polyline points="834.7,1085.7 918,1034.7" fill="none" stroke="#ffffff" stroke-width="1.1" stroke-linejoin="round" stroke-linecap="round" />
<ellipse cx="846.7" cy="1081.5" rx="6" ry="7" fill="#1c476c" stroke="#dfe8f1" stroke-width="1.1"/>
<ellipse cx="847.1" cy="1081.5" rx="3.7" ry="4.3" fill="none" stroke="#dfe8f1" stroke-width="0.9"/>
<ellipse cx="847.3" cy="1081.5" rx="1.5" ry="1.8" fill="#dfe8f1" stroke="none"/>
<ellipse cx="875.9" cy="1064.7" rx="6" ry="7" fill="#1c476c" stroke="#dfe8f1" stroke-width="1.1"/>
<ellipse cx="876.3" cy="1064.7" rx="3.7" ry="4.3" fill="none" stroke="#dfe8f1" stroke-width="0.9"/>
<ellipse cx="876.5" cy="1064.7" rx="1.5" ry="1.8" fill="#dfe8f1" stroke="none"/>
<ellipse cx="905" cy="1047.9" rx="6" ry="7" fill="#1c476c" stroke="#dfe8f1" stroke-width="1.1"/>
<ellipse cx="905.4" cy="1047.9" rx="3.7" ry="4.3" fill="none" stroke="#dfe8f1" stroke-width="0.9"/>
<ellipse cx="905.6" cy="1047.9" rx="1.5" ry="1.8" fill="#dfe8f1" stroke="none"/>
<path d="M782.8 1038.5 Q776.7 1035 782.8 1031.5 L857.2 988.5 Q865 984 872.8 988.5 L914 1012.2 Q920 1015.7 914 1019.2 L839.5 1062.2 Q831.7 1066.7 823.9 1062.2 Z" fill="#1c476c" stroke="#ffffff" stroke-width="1.5" stroke-linejoin="round" stroke-linecap="round" />
<path d="M789.7 1037.5 Q785.4 1035 789.7 1032.5 L859 992.5 Q865 989 871.1 992.5 L907 1013.2 Q911.4 1015.7 907 1018.2 L837.8 1058.2 Q831.7 1061.7 825.6 1058.2 Z" fill="none" stroke="#ffffff" stroke-width="1.2" stroke-linejoin="round" stroke-linecap="round" />
<path d="M781 1045 Q781 1042.5 783.2 1043.7 L824.3 1067.5 Q826.5 1068.7 826.5 1071.2 L826.5 1078.7 Q826.5 1081.2 824.3 1080 L783.2 1056.2 Q781 1055 781 1052.5 Z" fill="#f2601f" stroke="#ffffff" stroke-width="1.2" stroke-linejoin="round" stroke-linecap="round" />
<polyline points="778.4,1056 829.1,1085.2" fill="none" stroke="#ffffff" stroke-width="1.1" stroke-linejoin="round" stroke-linecap="round" />
<ellipse cx="808.3" cy="1001.7" rx="9.4" ry="12.3" fill="none" stroke="#e4572e" stroke-width="1.2" transform="rotate(-18 808.3 1001.7)"/>
<path d="M805.6 1003 A3.5 3.5 0 0 1 811 1003" fill="none" stroke="#e4572e" stroke-width="1.1" stroke-linejoin="round" stroke-linecap="round" />
<path d="M803.6 1001.5 A6 6 0 0 1 813 1001.5" fill="none" stroke="#e4572e" stroke-width="1.1" stroke-linejoin="round" stroke-linecap="round" />
<path d="M801.7 999.9 A8.5 8.5 0 0 1 814.9 999.9" fill="none" stroke="#e4572e" stroke-width="1.1" stroke-linejoin="round" stroke-linecap="round" />
<circle cx="808.3" cy="1005.9" r="1.5" fill="#e4572e"/>
<polyline points="808.3,1006.7 808.3,1050.5" fill="none" stroke="#e4572e" stroke-width="1.1" stroke-linejoin="round" stroke-linecap="round" />
<polygon points="806.1,1046.5 810.5,1046.5 808.3,1050.5" fill="#e4572e" stroke="none" stroke-width="0" stroke-linejoin="round" />
<polygon points="1095,1046 1150,1076 1172,1080 1208,1062 1409,946 1411,934 1402,928 1200,1040" fill="#0e2238" stroke="none" stroke-width="0" stroke-linejoin="round" />
<path d="M1152 896.6 L1132.7 923.7 L1117.9 944.7 L1104.7 969.2 Q1086.1 987.7 1085.1 997.7 L1082.9 1009.5 L1082.9 1025.2 Q1083.5 1037.7 1110 1052.4 L1148.5 1069.9 Q1163.5 1074.6 1169.5 1071.6 L1204.5 1046 L1402.7 932.2 L1400.8 844.7 Q1400.8 835.7 1394.4 832.7 L1333.7 797.9 Q1325.7 792.4 1317.7 797.9 Z" fill="#1c476c" stroke="#d9e6f2" stroke-width="1.3" stroke-linejoin="round" stroke-linecap="round" />
<polyline points="1394.4,832.7 1235,924" fill="none" stroke="#d9e6f2" stroke-width="1.1" stroke-linejoin="round" stroke-linecap="round" />
<path d="M1235 924 Q1218 938 1202.7 965.7" fill="none" stroke="#d9e6f2" stroke-width="1.1" stroke-linejoin="round" stroke-linecap="round" />
<path d="M1241 926 Q1224 941 1206.7 969.7" fill="none" stroke="#d9e6f2" stroke-width="1" stroke-linejoin="round" stroke-linecap="round" />
<polyline points="1132.7,923.7 1202.7,965.7" fill="none" stroke="#d9e6f2" stroke-width="1.1" stroke-linejoin="round" stroke-linecap="round" />
<polyline points="1202.7,965.7 1169.5,1028.7" fill="none" stroke="#d9e6f2" stroke-width="1.1" stroke-linejoin="round" stroke-linecap="round" />
<polyline points="1206.2,968.7 1173.5,1025.7" fill="none" stroke="#d9e6f2" stroke-width="1" stroke-linejoin="round" stroke-linecap="round" />
<polyline points="1088.1,993.7 1092.5,994.6 1166,1032.2 1169.5,1028.7" fill="none" stroke="#d9e6f2" stroke-width="1.1" stroke-linejoin="round" stroke-linecap="round" />
<polyline points="1169.5,1028.7 1171.5,1046" fill="none" stroke="#d9e6f2" stroke-width="1.1" stroke-linejoin="round" stroke-linecap="round" />
<path d="M1115.8 957.1 Q1118.7 948.6 1126.8 952.6 L1181.5 979.6 Q1189.6 983.6 1184.6 991 L1180.7 996.8 Q1175.6 1004.2 1167.5 1000.4 L1118.2 977.4 Q1110 973.6 1113 965.1 Z" fill="none" stroke="#d9e6f2" stroke-width="1.1" stroke-linejoin="round" stroke-linecap="round" />
<path d="M1118.5 959.7 Q1120.8 953.1 1127.1 956.2 L1178.6 981.5 Q1184.9 984.6 1180.7 990.3 L1177.1 995.1 Q1173 1000.7 1166.7 997.7 L1120.2 975.4 Q1113.8 972.4 1116.2 965.8 Z" fill="none" stroke="#d9e6f2" stroke-width="1" stroke-linejoin="round" stroke-linecap="round" />
<polyline points="1104.7,969.2 1107.4,972.7 1175.6,1007.7 1180,1006" fill="none" stroke="#d9e6f2" stroke-width="1" stroke-linejoin="round" stroke-linecap="round" />
<path d="M1091.8 1017.7 Q1091.6 1014.7 1094.3 1016 L1163.3 1047.6 Q1166 1048.9 1166 1051.9 L1166 1053.7 Q1166 1056.7 1163 1056.3 L1135.7 1052.7 Q1132.7 1052.4 1130.2 1050.8 L1095.1 1030.3 Q1092.5 1028.7 1092.3 1025.7 Z" fill="none" stroke="#d9e6f2" stroke-width="1" stroke-linejoin="round" stroke-linecap="round" />
<polygon points="1099.5,1040.1 1117.9,1048.9 1117.9,1053.2 1099.5,1044.5" fill="none" stroke="#d9e6f2" stroke-width="1" stroke-linejoin="round" />
<polyline points="1117.9,1051.1 1131,1052.4 1136.2,1041.9" fill="none" stroke="#d9e6f2" stroke-width="1" stroke-linejoin="round" stroke-linecap="round" />
<polyline points="1085.5,1002.5 1166,1040.1" fill="none" stroke="#d9e6f2" stroke-width="1" stroke-linejoin="round" stroke-linecap="round" />
<path d="M1103.7 942.5 Q1103 938.6 1106.9 939.5 L1111.3 940.4 Q1115.2 941.2 1115.4 945.2 L1115.5 949.5 Q1115.6 953.5 1111.6 953.1 L1109.6 953 Q1105.6 952.6 1104.9 948.7 Z" fill="#1c476c" stroke="#d9e6f2" stroke-width="1.1" stroke-linejoin="round" stroke-linecap="round" />
<path d="M1197.8 1002.1 Q1197.5 998.1 1201.4 999.1 L1204.1 999.8 Q1208 1000.7 1208.1 1004.7 L1208.2 1010.7 Q1208.3 1014.7 1204.7 1013.1 L1202 1012 Q1198.4 1010.4 1198.1 1006.4 Z" fill="#1c476c" stroke="#d9e6f2" stroke-width="1.1" stroke-linejoin="round" stroke-linecap="round" />
<path d="M1192 999.9 Q1191.9 996.9 1193.8 997.5 L1193.8 997.5 Q1195.7 998.1 1195.8 1001.1 L1196 1004.7 Q1196.1 1007.7 1194.2 1007 L1194.2 1007 Q1192.2 1006.3 1192.1 1003.3 Z" fill="#1c476c" stroke="#d9e6f2" stroke-width="1" stroke-linejoin="round" stroke-linecap="round" />
<path d="M1156.1 924.3 L1175.9 904.2 A7 7 0 0 0 1165.9 894.3 L1146.1 914.5 A7 7 0 0 0 1156.1 924.3 Z" fill="none" stroke="#d9e6f2" stroke-width="1" stroke-linejoin="round" stroke-linecap="round" />
<path d="M1155.9 924.4 L1175.2 904.9 A5.5 5.5 0 0 0 1167.3 897.1 L1148.1 916.7 A5.5 5.5 0 0 0 1155.9 924.4 Z" fill="none" stroke="#d9e6f2" stroke-width="1" stroke-linejoin="round" stroke-linecap="round" />
<path d="M1195.5 943.5 L1214.8 923.3 A7 7 0 0 0 1204.7 913.7 L1185.4 933.8 A7 7 0 0 0 1195.5 943.5 Z" fill="none" stroke="#d9e6f2" stroke-width="1" stroke-linejoin="round" stroke-linecap="round" />
<path d="M1195.3 943.6 L1214.1 924 A5.5 5.5 0 0 0 1206.1 916.4 L1187.4 936 A5.5 5.5 0 0 0 1195.3 943.6 Z" fill="none" stroke="#d9e6f2" stroke-width="1" stroke-linejoin="round" stroke-linecap="round" />
<path d="M1180.5 883.7 L1324.9 799.3 A1.1 1.1 0 0 0 1323.8 797.4 L1179.4 881.8 A1.1 1.1 0 0 0 1180.5 883.7 Z" fill="none" stroke="#d9e6f2" stroke-width="0.9" stroke-linejoin="round" stroke-linecap="round" />
<path d="M1192.9 891.1 L1340.6 806.1 A1.1 1.1 0 0 0 1339.5 804.2 L1191.8 889.2 A1.1 1.1 0 0 0 1192.9 891.1 Z" fill="none" stroke="#d9e6f2" stroke-width="0.9" stroke-linejoin="round" stroke-linecap="round" />
<path d="M1205.3 898.5 L1355.9 813.9 A1.1 1.1 0 0 0 1354.9 811.9 L1204.2 896.6 A1.1 1.1 0 0 0 1205.3 898.5 Z" fill="none" stroke="#d9e6f2" stroke-width="0.9" stroke-linejoin="round" stroke-linecap="round" />
<path d="M1218.5 905.7 L1371.3 821.6 A1.1 1.1 0 0 0 1370.3 819.6 L1217.4 903.8 A1.1 1.1 0 0 0 1218.5 905.7 Z" fill="none" stroke="#d9e6f2" stroke-width="0.9" stroke-linejoin="round" stroke-linecap="round" />
<path d="M1232.7 913.4 L1386.7 829.3 A1.1 1.1 0 0 0 1385.7 827.3 L1231.7 911.5 A1.1 1.1 0 0 0 1232.7 913.4 Z" fill="none" stroke="#d9e6f2" stroke-width="0.9" stroke-linejoin="round" stroke-linecap="round" />
<polyline points="1237.7,938.6 1237.7,1021.7" fill="none" stroke="#d9e6f2" stroke-width="1" stroke-linejoin="round" stroke-linecap="round" />
<path d="M1237.7 938.6 Q1220.2 944.7 1211.5 958.7" fill="none" stroke="#d9e6f2" stroke-width="1" stroke-linejoin="round" stroke-linecap="round" />
<path d="M1214.2 965.2 Q1214.1 962.2 1216.7 960.7 L1229 953.3 Q1231.6 951.7 1231.8 954.7 L1233.2 981.1 Q1233.4 984.1 1230.8 985.7 L1217.5 994.2 Q1215 995.8 1214.9 992.8 Z" fill="none" stroke="#d9e6f2" stroke-width="1.1" stroke-linejoin="round" stroke-linecap="round" />
<polygon points="1226.9,990.6 1230.4,989.5 1230.4,998.6 1226.9,999.7" fill="none" stroke="#d9e6f2" stroke-width="1" stroke-linejoin="round" />
<polyline points="1204.5,1025.2 1237.7,1013" fill="none" stroke="#d9e6f2" stroke-width="0.9" stroke-linejoin="round" stroke-linecap="round" />
<polygon points="1246,918.5 1302.3,888.2 1302.3,983.1 1246,1013.3" fill="#173a5b" stroke="#d9e6f2" stroke-width="1.2" stroke-linejoin="round" />
<polygon points="1248.2,920.7 1300.4,892.4 1300.4,981.7 1248.2,1009.8" fill="none" stroke="#d9e6f2" stroke-width="0.9" stroke-linejoin="round" />
<polygon points="1248.2,979 1274.8,991.3 1296,979.5 1296,975.7 1270.7,963.8 1248.2,974.8" fill="#b97c3f" stroke="none" stroke-width="0" stroke-linejoin="round" />
<polygon points="1248.2,974.8 1274.8,987.2 1296,975.7 1270.7,963.8" fill="#dba35f" stroke="none" stroke-width="0" stroke-linejoin="round" />
<polygon points="1274,977.9 1288.3,969.6 1288.3,954 1274,962.3" fill="#e9a45a" stroke="#c98a48" stroke-width="0.6" stroke-linejoin="round" />
<polygon points="1274,977.9 1263,971.5 1263,955.9 1274,962.3" fill="#f2b772" stroke="#c98a48" stroke-width="0.6" stroke-linejoin="round" />
<polygon points="1274,962.3 1288.3,954 1277.3,947.7 1263,955.9" fill="#f8d4a4" stroke="#c98a48" stroke-width="0.6" stroke-linejoin="round" />
<polyline points="1270.2,951.8 1281.2,958.1 1281.2,973.7" fill="none" stroke="#d9442a" stroke-width="1.3" stroke-linejoin="round" stroke-linecap="round" stroke-linecap="butt"/>
<polygon points="1282.9,958.4 1287.2,955.9 1287.2,958.6 1282.9,961" fill="#f4ede4" stroke="none" stroke-width="0" stroke-linejoin="round" />
<polygon points="1274.9,973.6 1279.2,971.1 1279.2,973.8 1274.9,976.3" fill="#f4ede4" stroke="none" stroke-width="0" stroke-linejoin="round" />
<polygon points="1259.7,986.1 1274,977.9 1274,962.3 1259.7,970.5" fill="#e9a45a" stroke="#c98a48" stroke-width="0.6" stroke-linejoin="round" />
<polygon points="1259.7,986.1 1248.7,979.8 1248.7,964.2 1259.7,970.5" fill="#f2b772" stroke="#c98a48" stroke-width="0.6" stroke-linejoin="round" />
<polygon points="1259.7,970.5 1274,962.3 1263,955.9 1248.7,964.2" fill="#f8d4a4" stroke="#c98a48" stroke-width="0.6" stroke-linejoin="round" />
<polyline points="1255.9,960 1266.9,966.4 1266.9,982" fill="none" stroke="#d9442a" stroke-width="1.3" stroke-linejoin="round" stroke-linecap="round" stroke-linecap="butt"/>
<polygon points="1268.6,966.6 1272.9,964.2 1272.9,966.8 1268.6,969.3" fill="#f4ede4" stroke="none" stroke-width="0" stroke-linejoin="round" />
<polygon points="1260.6,981.9 1264.9,979.4 1264.9,982.1 1260.6,984.5" fill="#f4ede4" stroke="none" stroke-width="0" stroke-linejoin="round" />
<polygon points="1274,962.3 1288.3,954 1288.3,938.4 1274,946.7" fill="#e9a45a" stroke="#c98a48" stroke-width="0.6" stroke-linejoin="round" />
<polygon points="1274,962.3 1263,955.9 1263,940.3 1274,946.7" fill="#f2b772" stroke="#c98a48" stroke-width="0.6" stroke-linejoin="round" />
<polygon points="1274,946.7 1288.3,938.4 1277.3,932.1 1263,940.3" fill="#f8d4a4" stroke="#c98a48" stroke-width="0.6" stroke-linejoin="round" />
<polyline points="1270.2,936.2 1281.2,942.5 1281.2,958.1" fill="none" stroke="#d9442a" stroke-width="1.3" stroke-linejoin="round" stroke-linecap="round" stroke-linecap="butt"/>
<polygon points="1282.9,942.8 1287.2,940.3 1287.2,943 1282.9,945.4" fill="#f4ede4" stroke="none" stroke-width="0" stroke-linejoin="round" />
<polygon points="1274.9,958 1279.2,955.5 1279.2,958.2 1274.9,960.7" fill="#f4ede4" stroke="none" stroke-width="0" stroke-linejoin="round" />
<polygon points="1259.7,970.5 1274,962.3 1274,946.7 1259.7,954.9" fill="#e9a45a" stroke="#c98a48" stroke-width="0.6" stroke-linejoin="round" />
<polygon points="1259.7,970.5 1248.7,964.2 1248.7,948.6 1259.7,954.9" fill="#f2b772" stroke="#c98a48" stroke-width="0.6" stroke-linejoin="round" />
<polygon points="1259.7,954.9 1274,946.7 1263,940.3 1248.7,948.6" fill="#f8d4a4" stroke="#c98a48" stroke-width="0.6" stroke-linejoin="round" />
<polyline points="1255.9,944.4 1266.9,950.8 1266.9,966.4" fill="none" stroke="#d9442a" stroke-width="1.3" stroke-linejoin="round" stroke-linecap="round" stroke-linecap="butt"/>
<polygon points="1268.6,951 1272.9,948.6 1272.9,951.2 1268.6,953.7" fill="#f4ede4" stroke="none" stroke-width="0" stroke-linejoin="round" />
<polygon points="1260.6,966.3 1264.9,963.8 1264.9,966.5 1260.6,968.9" fill="#f4ede4" stroke="none" stroke-width="0" stroke-linejoin="round" />
<polygon points="1274,946.7 1288.3,938.4 1288.3,922.8 1274,931.1" fill="#e9a45a" stroke="#c98a48" stroke-width="0.6" stroke-linejoin="round" />
<polygon points="1274,946.7 1263,940.3 1263,924.7 1274,931.1" fill="#f2b772" stroke="#c98a48" stroke-width="0.6" stroke-linejoin="round" />
<polygon points="1274,931.1 1288.3,922.8 1277.3,916.5 1263,924.7" fill="#f8d4a4" stroke="#c98a48" stroke-width="0.6" stroke-linejoin="round" />
<polyline points="1270.2,920.6 1281.2,926.9 1281.2,942.5" fill="none" stroke="#d9442a" stroke-width="1.3" stroke-linejoin="round" stroke-linecap="round" stroke-linecap="butt"/>
<polygon points="1282.9,927.2 1287.2,924.7 1287.2,927.4 1282.9,929.8" fill="#f4ede4" stroke="none" stroke-width="0" stroke-linejoin="round" />
<polygon points="1274.9,942.4 1279.2,939.9 1279.2,942.6 1274.9,945.1" fill="#f4ede4" stroke="none" stroke-width="0" stroke-linejoin="round" />
<polygon points="1259.7,954.9 1274,946.7 1274,931.1 1259.7,939.3" fill="#e9a45a" stroke="#c98a48" stroke-width="0.6" stroke-linejoin="round" />
<polygon points="1259.7,954.9 1248.7,948.6 1248.7,933 1259.7,939.3" fill="#f2b772" stroke="#c98a48" stroke-width="0.6" stroke-linejoin="round" />
<polygon points="1259.7,939.3 1274,931.1 1263,924.7 1248.7,933" fill="#f8d4a4" stroke="#c98a48" stroke-width="0.6" stroke-linejoin="round" />
<polyline points="1255.9,928.8 1266.9,935.2 1266.9,950.8" fill="none" stroke="#d9442a" stroke-width="1.3" stroke-linejoin="round" stroke-linecap="round" stroke-linecap="butt"/>
<polygon points="1268.6,935.4 1272.9,933 1272.9,935.6 1268.6,938.1" fill="#f4ede4" stroke="none" stroke-width="0" stroke-linejoin="round" />
<polygon points="1260.6,950.7 1264.9,948.2 1264.9,950.9 1260.6,953.3" fill="#f4ede4" stroke="none" stroke-width="0" stroke-linejoin="round" />
<polygon points="1246,924 1248.7,922.6 1248.7,1012 1246,1013.3" fill="#173a5b" stroke="none" stroke-width="0" stroke-linejoin="round" />
<polygon points="1246,918.5 1302.3,888.2 1302.3,983.1 1246,1013.3" fill="none" stroke="#d9e6f2" stroke-width="1.2" stroke-linejoin="round" />
<polygon points="1302.3,890.4 1351.8,866.2 1351.8,951.5 1302.3,981.7" fill="#1c476c" stroke="#d9e6f2" stroke-width="1.2" stroke-linejoin="round" />
<polygon points="1304.5,892.9 1349.6,870.4 1349.6,949.3 1304.5,977.6" fill="none" stroke="#d9e6f2" stroke-width="0.9" stroke-linejoin="round" />
<polyline points="1235,1021.6 1402.7,935" fill="none" stroke="#d9e6f2" stroke-width="0.9" stroke-linejoin="round" stroke-linecap="round" />
<polyline points="1394.4,832.7 1396.6,932.2" fill="none" stroke="#d9e6f2" stroke-width="1" stroke-linejoin="round" stroke-linecap="round" />
<path d="M1398.8 883.4 Q1398.8 881.4 1400.6 882.2 L1400.9 882.4 Q1402.7 883.3 1402.7 885.3 L1402.7 906.9 Q1402.7 908.9 1400.9 908 L1400.6 907.8 Q1398.8 906.9 1398.8 904.9 Z" fill="none" stroke="#d9e6f2" stroke-width="1" stroke-linejoin="round" stroke-linecap="round" />
<ellipse cx="1187" cy="1051.5" rx="13.5" ry="16.5" fill="#1c476c" stroke="#d9e6f2" stroke-width="1.2"/>
<ellipse cx="1188.5" cy="1051.5" rx="9" ry="11" fill="none" stroke="#d9e6f2" stroke-width="1"/>
<ellipse cx="1188.8" cy="1051.5" rx="6" ry="7.5" fill="none" stroke="#d9e6f2" stroke-width="0.9"/>
<ellipse cx="1189" cy="1051.5" rx="2.2" ry="2.8" fill="none" stroke="#d9e6f2" stroke-width="0.9"/>
<ellipse cx="1353" cy="960" rx="13.5" ry="16.5" fill="#1c476c" stroke="#d9e6f2" stroke-width="1.2"/>
<ellipse cx="1354.5" cy="960" rx="9" ry="11" fill="none" stroke="#d9e6f2" stroke-width="1"/>
<ellipse cx="1354.8" cy="960" rx="6" ry="7.5" fill="none" stroke="#d9e6f2" stroke-width="0.9"/>
<ellipse cx="1355" cy="960" rx="2.2" ry="2.8" fill="none" stroke="#d9e6f2" stroke-width="0.9"/>
<path d="M1169 1052 A18 21 0 0 1 1205 1043" fill="none" stroke="#d9e6f2" stroke-width="1" stroke-linejoin="round" stroke-linecap="round" />
<path d="M1335 962 A18 21 0 0 1 1371 950" fill="none" stroke="#d9e6f2" stroke-width="1" stroke-linejoin="round" stroke-linecap="round" />
<polygon points="1590,799.8 1603.4,792.1 1653.2,817 1657.1,839 1697.3,853.4 1714.5,868.7 1749,873.5 1749,894.6 1773.9,900.3 1842.9,860.1 1844.8,852.4 1773.9,896.5 1685.8,860.1 1653.2,839" fill="#0e2238" stroke="none" stroke-width="0" stroke-linejoin="round" />
<polygon points="1590,799.8 1603.4,792.1 1653.2,817 1656.1,840 1712.6,869.7 1705,873.5" fill="#0e2238" stroke="none" stroke-width="0" stroke-linejoin="round" />
<polygon points="1602.5,777.3 1609.2,773.9 1654.2,795 1651.7,800.3 1602.5,781.9" fill="#1c476c" stroke="#d5e3f0" stroke-width="1.1" stroke-linejoin="round" />
<polyline points="1606.3,785 1647.5,804.9" fill="none" stroke="#d5e3f0" stroke-width="1" stroke-linejoin="round" stroke-linecap="round" />
<polyline points="1631.2,796.9 1631.2,800.3" fill="none" stroke="#d5e3f0" stroke-width="0.9" stroke-linejoin="round" stroke-linecap="round" />
<polygon points="1641.6,773.9 1654.5,766.4 1654.5,750.1 1641.6,757.6" fill="#1c476c" stroke="#ffffff" stroke-width="0.9" stroke-linejoin="round" />
<polygon points="1641.6,773.9 1627.8,765.9 1627.8,749.6 1641.6,757.6" fill="#1c476c" stroke="#ffffff" stroke-width="0.9" stroke-linejoin="round" />
<polygon points="1641.6,757.6 1654.5,750.1 1640.8,742.1 1627.8,749.6" fill="#1c476c" stroke="#ffffff" stroke-width="0.9" stroke-linejoin="round" />
<polyline points="1647.7,746.1 1634.7,753.6 1634.7,769.9" fill="none" stroke="#e4572e" stroke-width="1.8" stroke-linejoin="round" stroke-linecap="round" stroke-linecap="butt"/>
<polygon points="1629.2,752 1633.3,754.4 1633.3,758.5 1629.2,756.1" fill="#e9edf2" stroke="none" stroke-width="0" stroke-linejoin="round" />
<polygon points="1655.3,781.8 1668.3,774.3 1668.3,758 1655.3,765.5" fill="#1c476c" stroke="#ffffff" stroke-width="0.9" stroke-linejoin="round" />
<polygon points="1655.3,781.8 1641.6,773.9 1641.6,757.6 1655.3,765.5" fill="#1c476c" stroke="#ffffff" stroke-width="0.9" stroke-linejoin="round" />
<polygon points="1655.3,765.5 1668.3,758 1654.5,750.1 1641.6,757.6" fill="#1c476c" stroke="#ffffff" stroke-width="0.9" stroke-linejoin="round" />
<polyline points="1661.4,754 1648.4,761.5 1648.4,777.8" fill="none" stroke="#e4572e" stroke-width="1.8" stroke-linejoin="round" stroke-linecap="round" stroke-linecap="butt"/>
<polygon points="1642.9,760 1647.1,762.4 1647.1,766.4 1642.9,764.1" fill="#e9edf2" stroke="none" stroke-width="0" stroke-linejoin="round" />
<polygon points="1669.1,789.8 1682.1,782.3 1682.1,766 1669.1,773.5" fill="#1c476c" stroke="#ffffff" stroke-width="0.9" stroke-linejoin="round" />
<polygon points="1669.1,789.8 1655.3,781.8 1655.3,765.5 1669.1,773.5" fill="#1c476c" stroke="#ffffff" stroke-width="0.9" stroke-linejoin="round" />
<polygon points="1669.1,773.5 1682.1,766 1668.3,758 1655.3,765.5" fill="#1c476c" stroke="#ffffff" stroke-width="0.9" stroke-linejoin="round" />
<polyline points="1675.2,762 1662.2,769.5 1662.2,785.8" fill="none" stroke="#e4572e" stroke-width="1.8" stroke-linejoin="round" stroke-linecap="round" stroke-linecap="butt"/>
<polygon points="1656.7,767.9 1660.8,770.3 1660.8,774.4 1656.7,772" fill="#e9edf2" stroke="none" stroke-width="0" stroke-linejoin="round" />
<polygon points="1628.6,781.4 1641.6,773.9 1641.6,757.6 1628.6,765.1" fill="#1c476c" stroke="#ffffff" stroke-width="0.9" stroke-linejoin="round" />
<polygon points="1628.6,781.4 1614.8,773.4 1614.8,757.1 1628.6,765.1" fill="#1c476c" stroke="#ffffff" stroke-width="0.9" stroke-linejoin="round" />
<polygon points="1628.6,765.1 1641.6,757.6 1627.8,749.6 1614.8,757.1" fill="#1c476c" stroke="#ffffff" stroke-width="0.9" stroke-linejoin="round" />
<polyline points="1634.7,753.6 1621.7,761.1 1621.7,777.4" fill="none" stroke="#e4572e" stroke-width="1.8" stroke-linejoin="round" stroke-linecap="round" stroke-linecap="butt"/>
<polygon points="1616.2,759.5 1620.3,761.9 1620.3,766 1616.2,763.6" fill="#e9edf2" stroke="none" stroke-width="0" stroke-linejoin="round" />
<polygon points="1642.3,789.3 1655.3,781.8 1655.3,765.5 1642.3,773" fill="#1c476c" stroke="#ffffff" stroke-width="0.9" stroke-linejoin="round" />
<polygon points="1642.3,789.3 1628.6,781.4 1628.6,765.1 1642.3,773" fill="#1c476c" stroke="#ffffff" stroke-width="0.9" stroke-linejoin="round" />
<polygon points="1642.3,773 1655.3,765.5 1641.6,757.6 1628.6,765.1" fill="#1c476c" stroke="#ffffff" stroke-width="0.9" stroke-linejoin="round" />
<polyline points="1648.4,761.5 1635.4,769 1635.4,785.3" fill="none" stroke="#e4572e" stroke-width="1.8" stroke-linejoin="round" stroke-linecap="round" stroke-linecap="butt"/>
<polygon points="1629.9,767.5 1634.1,769.9 1634.1,773.9 1629.9,771.6" fill="#e9edf2" stroke="none" stroke-width="0" stroke-linejoin="round" />
<polygon points="1656.1,797.3 1669.1,789.8 1669.1,773.5 1656.1,781" fill="#1c476c" stroke="#ffffff" stroke-width="0.9" stroke-linejoin="round" />
<polygon points="1656.1,797.3 1642.3,789.3 1642.3,773 1656.1,781" fill="#1c476c" stroke="#ffffff" stroke-width="0.9" stroke-linejoin="round" />
<polygon points="1656.1,781 1669.1,773.5 1655.3,765.5 1642.3,773" fill="#1c476c" stroke="#ffffff" stroke-width="0.9" stroke-linejoin="round" />
<polyline points="1662.2,769.5 1649.2,777 1649.2,793.3" fill="none" stroke="#e4572e" stroke-width="1.8" stroke-linejoin="round" stroke-linecap="round" stroke-linecap="butt"/>
<polygon points="1643.7,775.4 1647.8,777.8 1647.8,781.9 1643.7,779.5" fill="#e9edf2" stroke="none" stroke-width="0" stroke-linejoin="round" />
<polygon points="1641.6,757.6 1654.5,750.1 1654.5,733.8 1641.6,741.3" fill="#1c476c" stroke="#ffffff" stroke-width="0.9" stroke-linejoin="round" />
<polygon points="1641.6,757.6 1627.8,749.6 1627.8,733.3 1641.6,741.3" fill="#1c476c" stroke="#ffffff" stroke-width="0.9" stroke-linejoin="round" />
<polygon points="1641.6,741.3 1654.5,733.8 1640.8,725.8 1627.8,733.3" fill="#1c476c" stroke="#ffffff" stroke-width="0.9" stroke-linejoin="round" />
<polyline points="1647.7,729.8 1634.7,737.3 1634.7,753.6" fill="none" stroke="#e4572e" stroke-width="1.8" stroke-linejoin="round" stroke-linecap="round" stroke-linecap="butt"/>
<polygon points="1629.2,735.7 1633.3,738.1 1633.3,742.2 1629.2,739.8" fill="#e9edf2" stroke="none" stroke-width="0" stroke-linejoin="round" />
<polygon points="1655.3,765.5 1668.3,758 1668.3,741.7 1655.3,749.2" fill="#1c476c" stroke="#ffffff" stroke-width="0.9" stroke-linejoin="round" />
<polygon points="1655.3,765.5 1641.6,757.6 1641.6,741.3 1655.3,749.2" fill="#1c476c" stroke="#ffffff" stroke-width="0.9" stroke-linejoin="round" />
<polygon points="1655.3,749.2 1668.3,741.7 1654.5,733.8 1641.6,741.3" fill="#1c476c" stroke="#ffffff" stroke-width="0.9" stroke-linejoin="round" />
<polyline points="1661.4,737.7 1648.4,745.2 1648.4,761.5" fill="none" stroke="#e4572e" stroke-width="1.8" stroke-linejoin="round" stroke-linecap="round" stroke-linecap="butt"/>
<polygon points="1642.9,743.7 1647.1,746.1 1647.1,750.1 1642.9,747.8" fill="#e9edf2" stroke="none" stroke-width="0" stroke-linejoin="round" />
<polygon points="1669.1,773.5 1682.1,766 1682.1,749.7 1669.1,757.2" fill="#1c476c" stroke="#ffffff" stroke-width="0.9" stroke-linejoin="round" />
<polygon points="1669.1,773.5 1655.3,765.5 1655.3,749.2 1669.1,757.2" fill="#1c476c" stroke="#ffffff" stroke-width="0.9" stroke-linejoin="round" />
<polygon points="1669.1,757.2 1682.1,749.7 1668.3,741.7 1655.3,749.2" fill="#1c476c" stroke="#ffffff" stroke-width="0.9" stroke-linejoin="round" />
<polyline points="1675.2,745.7 1662.2,753.2 1662.2,769.5" fill="none" stroke="#e4572e" stroke-width="1.8" stroke-linejoin="round" stroke-linecap="round" stroke-linecap="butt"/>
<polygon points="1656.7,751.6 1660.8,754 1660.8,758.1 1656.7,755.7" fill="#e9edf2" stroke="none" stroke-width="0" stroke-linejoin="round" />
<polygon points="1628.6,765.1 1641.6,757.6 1641.6,741.3 1628.6,748.8" fill="#1c476c" stroke="#ffffff" stroke-width="0.9" stroke-linejoin="round" />
<polygon points="1628.6,765.1 1614.8,757.1 1614.8,740.8 1628.6,748.8" fill="#1c476c" stroke="#ffffff" stroke-width="0.9" stroke-linejoin="round" />
<polygon points="1628.6,748.8 1641.6,741.3 1627.8,733.3 1614.8,740.8" fill="#1c476c" stroke="#ffffff" stroke-width="0.9" stroke-linejoin="round" />
<polyline points="1634.7,737.3 1621.7,744.8 1621.7,761.1" fill="none" stroke="#e4572e" stroke-width="1.8" stroke-linejoin="round" stroke-linecap="round" stroke-linecap="butt"/>
<polygon points="1616.2,743.2 1620.3,745.6 1620.3,749.7 1616.2,747.3" fill="#e9edf2" stroke="none" stroke-width="0" stroke-linejoin="round" />
<polygon points="1642.3,773 1655.3,765.5 1655.3,749.2 1642.3,756.7" fill="#1c476c" stroke="#ffffff" stroke-width="0.9" stroke-linejoin="round" />
<polygon points="1642.3,773 1628.6,765.1 1628.6,748.8 1642.3,756.7" fill="#1c476c" stroke="#ffffff" stroke-width="0.9" stroke-linejoin="round" />
<polygon points="1642.3,756.7 1655.3,749.2 1641.6,741.3 1628.6,748.8" fill="#1c476c" stroke="#ffffff" stroke-width="0.9" stroke-linejoin="round" />
<polyline points="1648.4,745.2 1635.4,752.7 1635.4,769" fill="none" stroke="#e4572e" stroke-width="1.8" stroke-linejoin="round" stroke-linecap="round" stroke-linecap="butt"/>
<polygon points="1629.9,751.2 1634.1,753.6 1634.1,757.6 1629.9,755.3" fill="#e9edf2" stroke="none" stroke-width="0" stroke-linejoin="round" />
<polygon points="1656.1,781 1669.1,773.5 1669.1,757.2 1656.1,764.7" fill="#1c476c" stroke="#ffffff" stroke-width="0.9" stroke-linejoin="round" />
<polygon points="1656.1,781 1642.3,773 1642.3,756.7 1656.1,764.7" fill="#1c476c" stroke="#ffffff" stroke-width="0.9" stroke-linejoin="round" />
<polygon points="1656.1,764.7 1669.1,757.2 1655.3,749.2 1642.3,756.7" fill="#1c476c" stroke="#ffffff" stroke-width="0.9" stroke-linejoin="round" />
<polyline points="1662.2,753.2 1649.2,760.7 1649.2,777" fill="none" stroke="#e4572e" stroke-width="1.8" stroke-linejoin="round" stroke-linecap="round" stroke-linecap="butt"/>
<polygon points="1643.7,759.1 1647.8,761.5 1647.8,765.6 1643.7,763.2" fill="#e9edf2" stroke="none" stroke-width="0" stroke-linejoin="round" />
<polygon points="1641.6,741.3 1654.5,733.8 1654.5,717.5 1641.6,725" fill="#1c476c" stroke="#ffffff" stroke-width="0.9" stroke-linejoin="round" />
<polygon points="1641.6,741.3 1627.8,733.3 1627.8,717 1641.6,725" fill="#1c476c" stroke="#ffffff" stroke-width="0.9" stroke-linejoin="round" />
<polygon points="1641.6,725 1654.5,717.5 1640.8,709.5 1627.8,717" fill="#1c476c" stroke="#ffffff" stroke-width="0.9" stroke-linejoin="round" />
<polyline points="1647.7,713.5 1634.7,721 1634.7,737.3" fill="none" stroke="#e4572e" stroke-width="1.8" stroke-linejoin="round" stroke-linecap="round" stroke-linecap="butt"/>
<polygon points="1629.2,719.4 1633.3,721.8 1633.3,725.9 1629.2,723.5" fill="#e9edf2" stroke="none" stroke-width="0" stroke-linejoin="round" />
<polygon points="1655.3,749.2 1668.3,741.7 1668.3,725.4 1655.3,732.9" fill="#1c476c" stroke="#ffffff" stroke-width="0.9" stroke-linejoin="round" />
<polygon points="1655.3,749.2 1641.6,741.3 1641.6,725 1655.3,732.9" fill="#1c476c" stroke="#ffffff" stroke-width="0.9" stroke-linejoin="round" />
<polygon points="1655.3,732.9 1668.3,725.4 1654.5,717.5 1641.6,725" fill="#1c476c" stroke="#ffffff" stroke-width="0.9" stroke-linejoin="round" />
<polyline points="1661.4,721.4 1648.4,728.9 1648.4,745.2" fill="none" stroke="#e4572e" stroke-width="1.8" stroke-linejoin="round" stroke-linecap="round" stroke-linecap="butt"/>
<polygon points="1642.9,727.4 1647.1,729.8 1647.1,733.8 1642.9,731.5" fill="#e9edf2" stroke="none" stroke-width="0" stroke-linejoin="round" />
<polygon points="1669.1,757.2 1682.1,749.7 1682.1,733.4 1669.1,740.9" fill="#1c476c" stroke="#ffffff" stroke-width="0.9" stroke-linejoin="round" />
<polygon points="1669.1,757.2 1655.3,749.2 1655.3,732.9 1669.1,740.9" fill="#1c476c" stroke="#ffffff" stroke-width="0.9" stroke-linejoin="round" />
<polygon points="1669.1,740.9 1682.1,733.4 1668.3,725.4 1655.3,732.9" fill="#1c476c" stroke="#ffffff" stroke-width="0.9" stroke-linejoin="round" />
<polyline points="1675.2,729.4 1662.2,736.9 1662.2,753.2" fill="none" stroke="#e4572e" stroke-width="1.8" stroke-linejoin="round" stroke-linecap="round" stroke-linecap="butt"/>
<polygon points="1656.7,735.3 1660.8,737.7 1660.8,741.8 1656.7,739.4" fill="#e9edf2" stroke="none" stroke-width="0" stroke-linejoin="round" />
<polygon points="1628.6,748.8 1641.6,741.3 1641.6,725 1628.6,732.5" fill="#1c476c" stroke="#ffffff" stroke-width="0.9" stroke-linejoin="round" />
<polygon points="1628.6,748.8 1614.8,740.8 1614.8,724.5 1628.6,732.5" fill="#1c476c" stroke="#ffffff" stroke-width="0.9" stroke-linejoin="round" />
<polygon points="1628.6,732.5 1641.6,725 1627.8,717 1614.8,724.5" fill="#1c476c" stroke="#ffffff" stroke-width="0.9" stroke-linejoin="round" />
<polyline points="1634.7,721 1621.7,728.5 1621.7,744.8" fill="none" stroke="#e4572e" stroke-width="1.8" stroke-linejoin="round" stroke-linecap="round" stroke-linecap="butt"/>
<polygon points="1616.2,726.9 1620.3,729.3 1620.3,733.4 1616.2,731" fill="#e9edf2" stroke="none" stroke-width="0" stroke-linejoin="round" />
<polygon points="1642.3,756.7 1655.3,749.2 1655.3,732.9 1642.3,740.4" fill="#1c476c" stroke="#ffffff" stroke-width="0.9" stroke-linejoin="round" />
<polygon points="1642.3,756.7 1628.6,748.8 1628.6,732.5 1642.3,740.4" fill="#1c476c" stroke="#ffffff" stroke-width="0.9" stroke-linejoin="round" />
<polygon points="1642.3,740.4 1655.3,732.9 1641.6,725 1628.6,732.5" fill="#1c476c" stroke="#ffffff" stroke-width="0.9" stroke-linejoin="round" />
<polyline points="1648.4,728.9 1635.4,736.4 1635.4,752.7" fill="none" stroke="#e4572e" stroke-width="1.8" stroke-linejoin="round" stroke-linecap="round" stroke-linecap="butt"/>
<polygon points="1629.9,734.9 1634.1,737.3 1634.1,741.3 1629.9,739" fill="#e9edf2" stroke="none" stroke-width="0" stroke-linejoin="round" />
<polygon points="1656.1,764.7 1669.1,757.2 1669.1,740.9 1656.1,748.4" fill="#1c476c" stroke="#ffffff" stroke-width="0.9" stroke-linejoin="round" />
<polygon points="1656.1,764.7 1642.3,756.7 1642.3,740.4 1656.1,748.4" fill="#1c476c" stroke="#ffffff" stroke-width="0.9" stroke-linejoin="round" />
<polygon points="1656.1,748.4 1669.1,740.9 1655.3,732.9 1642.3,740.4" fill="#1c476c" stroke="#ffffff" stroke-width="0.9" stroke-linejoin="round" />
<polyline points="1662.2,736.9 1649.2,744.4 1649.2,760.7" fill="none" stroke="#e4572e" stroke-width="1.8" stroke-linejoin="round" stroke-linecap="round" stroke-linecap="butt"/>
<polygon points="1643.7,742.8 1647.8,745.2 1647.8,749.3 1643.7,746.9" fill="#e9edf2" stroke="none" stroke-width="0" stroke-linejoin="round" />
<polygon points="1695.4,691.9 1699.6,689.6 1704.4,691.9 1704.4,758.6 1699.6,761.4 1695.4,758.9" fill="#1c476c" stroke="#d5e3f0" stroke-width="1.1" stroke-linejoin="round" />
<polyline points="1699.6,694.4 1699.6,761.4" fill="none" stroke="#d5e3f0" stroke-width="1" stroke-linejoin="round" stroke-linecap="round" />
<polyline points="1695.4,691.9 1699.6,694.4 1704.4,691.9" fill="none" stroke="#d5e3f0" stroke-width="1" stroke-linejoin="round" stroke-linecap="round" />
<polygon points="1663.8,725 1695.8,708.7 1695.8,714.1 1663.8,730.4" fill="#1c476c" stroke="#d5e3f0" stroke-width="1" stroke-linejoin="round" />
<polygon points="1663.8,741.3 1695.8,725 1695.8,730.4 1663.8,746.7" fill="#1c476c" stroke="#d5e3f0" stroke-width="1" stroke-linejoin="round" />
<polygon points="1663.8,757.6 1695.8,741.3 1695.8,746.7 1663.8,763" fill="#1c476c" stroke="#d5e3f0" stroke-width="1" stroke-linejoin="round" />
<polygon points="1663.8,772.9 1695.8,756.6 1695.8,762 1663.8,778.3" fill="#1c476c" stroke="#d5e3f0" stroke-width="1" stroke-linejoin="round" />
<polygon points="1663.8,788.3 1695.8,772 1695.8,777.3 1663.8,793.6" fill="#1c476c" stroke="#d5e3f0" stroke-width="1" stroke-linejoin="round" />
<polygon points="1657.1,709.1 1660.5,706.8 1664.3,709.1 1664.3,791.1 1660.5,794 1657.1,791.5" fill="#1c476c" stroke="#d5e3f0" stroke-width="1.1" stroke-linejoin="round" />
<polyline points="1660.5,711.6 1660.5,794" fill="none" stroke="#d5e3f0" stroke-width="1" stroke-linejoin="round" stroke-linecap="round" />
<polyline points="1657.1,709.1 1660.5,711.6 1664.3,709.1" fill="none" stroke="#d5e3f0" stroke-width="1" stroke-linejoin="round" stroke-linecap="round" />
<path d="M1651.3 798.4 L1682 792.1 L1724.1 825.6 L1724.1 850.5 L1718.4 855.1 Q1712.6 859.7 1704.3 854.2 L1693.5 847.1 L1651.3 815.5 Z" fill="#1c476c" stroke="#d5e3f0" stroke-width="1.2" stroke-linejoin="round" stroke-linecap="round" />
<path d="M1682 792.1 L1708.5 764.8 Q1712.6 760.5 1718 763.1 L1736 771.7 Q1741.4 774.3 1741.4 780.3 L1741.4 787.3 L1706.9 805.5 Z" fill="#1c476c" stroke="#d5e3f0" stroke-width="1.2" stroke-linejoin="round" stroke-linecap="round" />
<polyline points="1712.6,760.5 1712.6,771 1682,798.8" fill="none" stroke="#d5e3f0" stroke-width="1" stroke-linejoin="round" stroke-linecap="round" />
<path d="M1680.1 802.6 A16 14 0 0 1 1694.4 807.4" fill="none" stroke="#d5e3f0" stroke-width="1" stroke-linejoin="round" stroke-linecap="round" />
<path d="M1724.1 825.6 L1791.2 787.3 L1814 798.4 Q1826.6 804.5 1833.8 816 L1833.8 816 Q1841 827.5 1841 841.4 L1841 855.3 L1773.9 895.6 L1741.4 871.6 L1724.1 850.5 Z" fill="#1c476c" stroke="#d5e3f0" stroke-width="1.2" stroke-linejoin="round" stroke-linecap="round" />
<path d="M1724.1 825.6 L1739.5 830.9 Q1754.8 836.2 1764.4 854.8 L1764.4 854.8 Q1773.9 873.5 1773.9 884.5 L1773.9 895.6" fill="none" stroke="#d5e3f0" stroke-width="1.1" stroke-linejoin="round" stroke-linecap="round" />
<polyline points="1773.9,874.5 1841,828.5" fill="none" stroke="#d5e3f0" stroke-width="1" stroke-linejoin="round" stroke-linecap="round" />
<polyline points="1724.1,850.5 1773.9,879.3" fill="none" stroke="#d5e3f0" stroke-width="1" stroke-linejoin="round" stroke-linecap="round" />
<polygon points="1724.1,825.6 1756.7,808.4 1756.7,835.2" fill="#1c476c" stroke="#d5e3f0" stroke-width="1" stroke-linejoin="round" />
<path d="M1758.6 816.4 L1762.2 786.7 Q1763.4 776.8 1767.7 774.6 L1767.7 774.6 Q1772 772.4 1776.3 776 L1776.3 776 Q1780.6 779.6 1781.6 787.6 L1783.5 803 Z" fill="#1c476c" stroke="#d5e3f0" stroke-width="1.1" stroke-linejoin="round" stroke-linecap="round" />
<polygon points="1727,795 1741.4,787.3 1749,802.6 1749,814.1 1735.6,821.8 1727,818" fill="#1b4064" stroke="#d5e3f0" stroke-width="0.9" stroke-linejoin="round" />
<polygon points="1730.8,779.6 1749,770.1 1751.9,787.3 1747.1,804.5 1732.7,796.9" fill="#1b4064" stroke="#d5e3f0" stroke-width="0.9" stroke-linejoin="round" />
<polyline points="1735.6,779.6 1724.1,775.8" fill="none" stroke="#d5e3f0" stroke-width="1" stroke-linejoin="round" stroke-linecap="round" />
<polyline points="1741.4,770.1 1737.5,764.3" fill="none" stroke="#d5e3f0" stroke-width="1" stroke-linejoin="round" stroke-linecap="round" />
<ellipse cx="1723.2" cy="778.1" rx="3.8" ry="3.2" fill="#f1c9a5"/>
<ellipse cx="1737.5" cy="770.1" rx="3.5" ry="3" fill="#f1c9a5"/>
<ellipse cx="1751" cy="755.9" rx="5" ry="4.6" fill="#0b0d12"/>
<ellipse cx="1717.4" cy="778.7" rx="8" ry="9" fill="none" stroke="#d5e3f0" stroke-width="1.1" transform="rotate(-25 1717.4 778.7)"/>
<polyline points="1717.4,781.6 1714.5,796.9" fill="none" stroke="#d5e3f0" stroke-width="1.3" stroke-linejoin="round" stroke-linecap="round" />
<path d="M1707.8 801.2 Q1707.8 798.8 1710.2 796.9 L1710.2 796.9 Q1712.6 795 1716.2 796.8 L1716.7 797 Q1720.3 798.8 1720.3 801.7 L1720.3 801.7 Q1720.3 804.5 1717.4 805.5 L1717.4 805.5 Q1714.5 806.5 1711.2 805 L1711.2 805 Q1707.8 803.6 1707.8 801.2 Z" fill="#1c476c" stroke="#d5e3f0" stroke-width="1" stroke-linejoin="round" stroke-linecap="round" />
<polygon points="1750,765.3 1757.1,767.2 1757.1,835.2 1750,832.3" fill="#1c476c" stroke="#d5e3f0" stroke-width="1.1" stroke-linejoin="round" />
<polygon points="1806.5,735.6 1813.2,733.7 1817.1,805.5 1810.3,806.5" fill="#1c476c" stroke="#d5e3f0" stroke-width="1.1" stroke-linejoin="round" />
<path d="M1674.3 802.6 L1691.2 762.7 Q1698.3 746.1 1705.4 743.2 L1712.6 740.4" fill="none" stroke="#d5e3f0" stroke-width="1.2" stroke-linejoin="round" stroke-linecap="round" />
<path d="M1681.6 802.6 L1697.7 764.7 Q1704 749.9 1710.2 747.5 L1716.5 745.1" fill="none" stroke="#d5e3f0" stroke-width="1.2" stroke-linejoin="round" stroke-linecap="round" />
<polyline points="1674.3,802.6 1681.6,802.6" fill="none" stroke="#d5e3f0" stroke-width="1" stroke-linejoin="round" stroke-linecap="round" />
<polyline points="1743.3,743.2 1758.6,713.5 1764.4,714.5" fill="none" stroke="#d5e3f0" stroke-width="1.2" stroke-linejoin="round" stroke-linecap="round" />
<polyline points="1749,745.1 1763.4,718.3" fill="none" stroke="#d5e3f0" stroke-width="1" stroke-linejoin="round" stroke-linecap="round" />
<polygon points="1705,737.5 1761.5,704 1812.3,731.7 1753.8,767.2" fill="none" stroke="#d5e3f0" stroke-width="1.3" stroke-linejoin="round" />
<polygon points="1705,739.8 1753.8,770.1 1812.3,734.6 1812.3,731.7 1753.8,767.2 1705,737.5" fill="#1c476c" stroke="#d5e3f0" stroke-width="1" stroke-linejoin="round" />
<polygon points="1714.9,737.5 1761.5,710.7 1802.3,732.3 1753.8,760.5" fill="none" stroke="#d5e3f0" stroke-width="1.1" stroke-linejoin="round" />
<polyline points="1725.1,743.2 1772,716.4" fill="none" stroke="#d5e3f0" stroke-width="1" stroke-linejoin="round" stroke-linecap="round" />
<polyline points="1727.8,744.8 1774.7,717.9" fill="none" stroke="#d5e3f0" stroke-width="0.9" stroke-linejoin="round" stroke-linecap="round" />
<polyline points="1735,749.4 1782,721.8" fill="none" stroke="#d5e3f0" stroke-width="1" stroke-linejoin="round" stroke-linecap="round" />
<polyline points="1737.7,750.9 1784.7,723.3" fill="none" stroke="#d5e3f0" stroke-width="0.9" stroke-linejoin="round" stroke-linecap="round" />
<polyline points="1744.8,755.1 1792.1,727.3" fill="none" stroke="#d5e3f0" stroke-width="1" stroke-linejoin="round" stroke-linecap="round" />
<polyline points="1747.5,756.6 1794.8,728.9" fill="none" stroke="#d5e3f0" stroke-width="0.9" stroke-linejoin="round" stroke-linecap="round" />
<ellipse cx="1677.4" cy="827.4" rx="14" ry="17.5" fill="#1c476c" stroke="#d5e3f0" stroke-width="1.2"/>
<ellipse cx="1671.4" cy="830.4" rx="14" ry="17.5" fill="#1c476c" stroke="#d5e3f0" stroke-width="1.2"/>
<ellipse cx="1671.4" cy="830.4" rx="10.1" ry="12.6" fill="none" stroke="#d5e3f0" stroke-width="0.8"/>
<ellipse cx="1671.4" cy="830.4" rx="7.7" ry="9.6" fill="none" stroke="#d5e3f0" stroke-width="0.8"/>
<ellipse cx="1671.4" cy="830.4" rx="5.3" ry="6.7" fill="none" stroke="#d5e3f0" stroke-width="0.8"/>
<ellipse cx="1671.4" cy="830.4" rx="3.1" ry="3.9" fill="none" stroke="#d5e3f0" stroke-width="0.8"/>
<ellipse cx="1763.7" cy="881.1" rx="13.5" ry="16.5" fill="#1c476c" stroke="#d5e3f0" stroke-width="1.2"/>
<ellipse cx="1757.7" cy="884.1" rx="13.5" ry="16.5" fill="#1c476c" stroke="#d5e3f0" stroke-width="1.2"/>
<ellipse cx="1757.7" cy="884.1" rx="9.7" ry="11.9" fill="none" stroke="#d5e3f0" stroke-width="0.8"/>
<ellipse cx="1757.7" cy="884.1" rx="7.4" ry="9.1" fill="none" stroke="#d5e3f0" stroke-width="0.8"/>
<ellipse cx="1757.7" cy="884.1" rx="5.1" ry="6.3" fill="none" stroke="#d5e3f0" stroke-width="0.8"/>
<ellipse cx="1757.7" cy="884.1" rx="3" ry="3.6" fill="none" stroke="#d5e3f0" stroke-width="0.8"/>
<path d="M1656.1 815.1 Q1680.1 812.2 1693.5 847.1" fill="none" stroke="#d5e3f0" stroke-width="1.1" stroke-linejoin="round" stroke-linecap="round" />
<path d="M1742.3 871.6 Q1768.2 863.9 1774.9 892.7" fill="#1c476c" stroke="#d5e3f0" stroke-width="1.1" stroke-linejoin="round" stroke-linecap="round" />
<polygon points="1478.8,972.5 1630,1060 1670,1037.5 1687.5,1045 1635,1076.2 1470,983.8" fill="#0e2238" stroke="none" stroke-width="0" stroke-linejoin="round" />
<polygon points="1537.5,997.5 1607.5,1060 1635,1045 1630,1030" fill="#0e2238" stroke="none" stroke-width="0" stroke-linejoin="round" />
<polygon points="1510.5,792 1514,794 1514,987 1510.5,985" fill="#1c476c" stroke="#e6eef6" stroke-width="1.1" stroke-linejoin="round" />
<polygon points="1514,794 1517.5,792 1517.5,985 1514,987" fill="#1c476c" stroke="#e6eef6" stroke-width="1.1" stroke-linejoin="round" />
<polygon points="1510.5,792 1514,790 1517.5,792 1514,794" fill="#1c476c" stroke="#e6eef6" stroke-width="1" stroke-linejoin="round" />
<polygon points="1667,883 1670.5,885 1670.5,1048 1667,1046" fill="#1c476c" stroke="#e6eef6" stroke-width="1.1" stroke-linejoin="round" />
<polygon points="1670.5,885 1674,883 1674,1046 1670.5,1048" fill="#1c476c" stroke="#e6eef6" stroke-width="1.1" stroke-linejoin="round" />
<polygon points="1667,883 1670.5,881 1674,883 1670.5,885" fill="#1c476c" stroke="#e6eef6" stroke-width="1" stroke-linejoin="round" />
<polygon points="1606.2,1057.5 1627.5,1045.2 1627.5,1020.2 1606.2,1032.5" fill="#1c476c" stroke="#ffffff" stroke-width="1.2" stroke-linejoin="round" />
<polygon points="1606.2,1057.5 1538.7,1018.5 1538.7,993.5 1606.2,1032.5" fill="#1c476c" stroke="#ffffff" stroke-width="1.2" stroke-linejoin="round" />
<polygon points="1606.2,1032.5 1627.5,1020.2 1559.9,981.2 1538.7,993.5" fill="#1c476c" stroke="#ffffff" stroke-width="1.2" stroke-linejoin="round" />
<polyline points="1549.3,987.4 1616.9,1026.4 1616.9,1051.4" fill="none" stroke="#e4572e" stroke-width="2.5" stroke-linejoin="round" stroke-linecap="round" stroke-linecap="butt"/>
<polygon points="1619.4,1026.9 1625.8,1023.2 1625.8,1028 1619.4,1031.7" fill="#e9edf2" stroke="none" stroke-width="0" stroke-linejoin="round" />
<polygon points="1607.5,1050.8 1613.9,1047.1 1613.9,1051.3 1607.5,1055" fill="#e9edf2" stroke="none" stroke-width="0" stroke-linejoin="round" />
<polygon points="1598.1,1047.8 1571.1,1032.2 1571.1,1035.2 1598.1,1050.8" fill="#9fb2c6" stroke="none" stroke-width="0" stroke-linejoin="round" />
<rect x="1588.6" y="1030.8" width="1.6" height="3.5" fill="#cfd9e4"/>
<rect x="1577.1" y="1024.1" width="1.6" height="3.5" fill="#cfd9e4"/>
<rect x="1566.3" y="1017.9" width="1.6" height="3.5" fill="#cfd9e4"/>
<polygon points="1474,946 1630.5,1035.5 1630.5,1041.5 1474,952" fill="#1c476c" stroke="#e6eef6" stroke-width="1.2" stroke-linejoin="round" />
<polygon points="1630.5,1035.5 1670.5,1012.5 1670.5,1018.5 1630.5,1041.5" fill="#1c476c" stroke="#e6eef6" stroke-width="1.2" stroke-linejoin="round" />
<polygon points="1474,946 1514,923 1670.5,1012.5 1630.5,1035.5" fill="#1c476c" stroke="#e6eef6" stroke-width="1.2" stroke-linejoin="round" />
<polygon points="1515,961.2 1540.1,946.8 1540.1,918.8 1515,933.2" fill="#1c476c" stroke="#ffffff" stroke-width="1.2" stroke-linejoin="round" />
<polygon points="1515,961.2 1489,946.2 1489,918.2 1515,933.2" fill="#1c476c" stroke="#ffffff" stroke-width="1.2" stroke-linejoin="round" />
<polygon points="1515,933.2 1540.1,918.8 1514.1,903.8 1489,918.2" fill="#1c476c" stroke="#ffffff" stroke-width="1.2" stroke-linejoin="round" />
<polyline points="1501.6,911 1527.6,926 1527.6,954" fill="none" stroke="#e4572e" stroke-width="2.9" stroke-linejoin="round" stroke-linecap="round" stroke-linecap="butt"/>
<polygon points="1530.6,926.5 1538.1,922.1 1538.1,927.5 1530.6,931.8" fill="#e9edf2" stroke="none" stroke-width="0" stroke-linejoin="round" />
<polygon points="1516.5,953.7 1524,949.3 1524,954.1 1516.5,958.4" fill="#e9edf2" stroke="none" stroke-width="0" stroke-linejoin="round" />
<polygon points="1511.9,953.9 1501.5,947.9 1501.5,951.2 1511.9,957.2" fill="#9fb2c6" stroke="none" stroke-width="0" stroke-linejoin="round" />
<rect x="1507.7" y="938.5" width="1.6" height="3.5" fill="#cfd9e4"/>
<rect x="1503.3" y="935.9" width="1.6" height="3.5" fill="#cfd9e4"/>
<rect x="1499.1" y="933.5" width="1.6" height="3.5" fill="#cfd9e4"/>
<polygon points="1627.5,1021.2 1653.5,1006.2 1653.5,978.8 1627.5,993.8" fill="#1c476c" stroke="#ffffff" stroke-width="1.2" stroke-linejoin="round" />
<polygon points="1627.5,1021.2 1602.4,1006.8 1602.4,979.2 1627.5,993.8" fill="#1c476c" stroke="#ffffff" stroke-width="1.2" stroke-linejoin="round" />
<polygon points="1627.5,993.8 1653.5,978.8 1628.4,964.2 1602.4,979.2" fill="#1c476c" stroke="#ffffff" stroke-width="1.2" stroke-linejoin="round" />
<polyline points="1615.4,971.8 1640.5,986.2 1640.5,1013.8" fill="none" stroke="#e4572e" stroke-width="2.9" stroke-linejoin="round" stroke-linecap="round" stroke-linecap="butt"/>
<polygon points="1643.6,986.7 1651.4,982.2 1651.4,987.4 1643.6,991.9" fill="#e9edf2" stroke="none" stroke-width="0" stroke-linejoin="round" />
<polygon points="1629.1,1013.8 1636.9,1009.2 1636.9,1013.9 1629.1,1018.4" fill="#e9edf2" stroke="none" stroke-width="0" stroke-linejoin="round" />
<polygon points="1624.5,1014 1614.4,1008.2 1614.4,1011.5 1624.5,1017.3" fill="#9fb2c6" stroke="none" stroke-width="0" stroke-linejoin="round" />
<rect x="1620.4" y="998.9" width="1.6" height="3.5" fill="#cfd9e4"/>
<rect x="1616.2" y="996.5" width="1.6" height="3.5" fill="#cfd9e4"/>
<rect x="1612.1" y="994.1" width="1.6" height="3.5" fill="#cfd9e4"/>
<polygon points="1590,1002.5 1612.5,989.5 1612.5,965.5 1590,978.5" fill="#1c476c" stroke="#ffffff" stroke-width="1.2" stroke-linejoin="round" />
<polygon points="1590,1002.5 1521.6,963 1521.6,939 1590,978.5" fill="#1c476c" stroke="#ffffff" stroke-width="1.2" stroke-linejoin="round" />
<polygon points="1590,978.5 1612.5,965.5 1544.1,926 1521.6,939" fill="#1c476c" stroke="#ffffff" stroke-width="1.2" stroke-linejoin="round" />
<polyline points="1532.8,932.5 1601.3,972 1601.3,996" fill="none" stroke="#e4572e" stroke-width="2.6" stroke-linejoin="round" stroke-linecap="round" stroke-linecap="butt"/>
<polygon points="1604,972.4 1610.7,968.5 1610.7,973 1604,976.9" fill="#e9edf2" stroke="none" stroke-width="0" stroke-linejoin="round" />
<polygon points="1591.4,996 1598.1,992.1 1598.1,996.1 1591.4,1000" fill="#e9edf2" stroke="none" stroke-width="0" stroke-linejoin="round" />
<polygon points="1581.8,993 1554.4,977.2 1554.4,980 1581.8,995.8" fill="#9fb2c6" stroke="none" stroke-width="0" stroke-linejoin="round" />
<rect x="1572.1" y="976.3" width="1.6" height="3.5" fill="#cfd9e4"/>
<rect x="1560.5" y="969.6" width="1.6" height="3.5" fill="#cfd9e4"/>
<rect x="1549.5" y="963.3" width="1.6" height="3.5" fill="#cfd9e4"/>
<polygon points="1474,861 1630.5,950.5 1630.5,956.5 1474,867" fill="#1c476c" stroke="#e6eef6" stroke-width="1.2" stroke-linejoin="round" />
<polygon points="1630.5,950.5 1670.5,927.5 1670.5,933.5 1630.5,956.5" fill="#1c476c" stroke="#e6eef6" stroke-width="1.2" stroke-linejoin="round" />
<polygon points="1474,861 1514,838 1670.5,927.5 1630.5,950.5" fill="#1c476c" stroke="#e6eef6" stroke-width="1.2" stroke-linejoin="round" />
<polygon points="1560,898.8 1585.1,884.2 1585.1,861.2 1560,875.8" fill="#1c476c" stroke="#ffffff" stroke-width="1.2" stroke-linejoin="round" />
<polygon points="1560,898.8 1492.5,859.8 1492.5,836.8 1560,875.8" fill="#1c476c" stroke="#ffffff" stroke-width="1.2" stroke-linejoin="round" />
<polygon points="1560,875.8 1585.1,861.2 1517.6,822.2 1492.5,836.8" fill="#1c476c" stroke="#ffffff" stroke-width="1.2" stroke-linejoin="round" />
<polyline points="1505,829.5 1572.6,868.5 1572.6,891.5" fill="none" stroke="#e4572e" stroke-width="2.9" stroke-linejoin="round" stroke-linecap="round" stroke-linecap="butt"/>
<polygon points="1575.6,868.6 1583.1,864.2 1583.1,868.6 1575.6,873" fill="#e9edf2" stroke="none" stroke-width="0" stroke-linejoin="round" />
<polygon points="1561.5,892.4 1569,888 1569,891.9 1561.5,896.3" fill="#e9edf2" stroke="none" stroke-width="0" stroke-linejoin="round" />
<polygon points="1551.9,889.5 1524.9,873.9 1524.9,876.6 1551.9,892.2" fill="#9fb2c6" stroke="none" stroke-width="0" stroke-linejoin="round" />
<rect x="1542.3" y="873.4" width="1.6" height="3.5" fill="#cfd9e4"/>
<rect x="1530.8" y="866.7" width="1.6" height="3.5" fill="#cfd9e4"/>
<rect x="1520" y="860.5" width="1.6" height="3.5" fill="#cfd9e4"/>
<polygon points="1541.2,863.8 1563.8,850.8 1563.8,824.8 1541.2,837.8" fill="#1c476c" stroke="#ffffff" stroke-width="1.2" stroke-linejoin="round" />
<polygon points="1541.2,863.8 1515.3,848.8 1515.3,822.8 1541.2,837.8" fill="#1c476c" stroke="#ffffff" stroke-width="1.2" stroke-linejoin="round" />
<polygon points="1541.2,837.8 1563.8,824.8 1537.8,809.8 1515.3,822.8" fill="#1c476c" stroke="#ffffff" stroke-width="1.2" stroke-linejoin="round" />
<polygon points="1555.2,831.8 1562,827.9 1562,832.8 1555.2,836.7" fill="#e9edf2" stroke="none" stroke-width="0" stroke-linejoin="round" />
<polygon points="1542.6,856.7 1549.4,852.8 1549.4,857.2 1542.6,861.1" fill="#e9edf2" stroke="none" stroke-width="0" stroke-linejoin="round" />
<polygon points="1538.1,856.8 1527.7,850.8 1527.7,853.9 1538.1,859.9" fill="#9fb2c6" stroke="none" stroke-width="0" stroke-linejoin="round" />
<rect x="1534" y="842.3" width="1.6" height="3.5" fill="#cfd9e4"/>
<rect x="1529.5" y="839.8" width="1.6" height="3.5" fill="#cfd9e4"/>
<rect x="1525.4" y="837.4" width="1.6" height="3.5" fill="#cfd9e4"/>
<polygon points="1627.5,938.8 1653.5,923.8 1653.5,896.2 1627.5,911.2" fill="#1c476c" stroke="#ffffff" stroke-width="1.2" stroke-linejoin="round" />
<polygon points="1627.5,938.8 1602.4,924.2 1602.4,896.8 1627.5,911.2" fill="#1c476c" stroke="#ffffff" stroke-width="1.2" stroke-linejoin="round" />
<polygon points="1627.5,911.2 1653.5,896.2 1628.4,881.8 1602.4,896.8" fill="#1c476c" stroke="#ffffff" stroke-width="1.2" stroke-linejoin="round" />
<polyline points="1615.4,889.2 1640.5,903.8 1640.5,931.2" fill="none" stroke="#e4572e" stroke-width="2.9" stroke-linejoin="round" stroke-linecap="round" stroke-linecap="butt"/>
<polygon points="1643.6,904.2 1651.4,899.7 1651.4,904.9 1643.6,909.4" fill="#e9edf2" stroke="none" stroke-width="0" stroke-linejoin="round" />
<polygon points="1629.1,931.2 1636.9,926.8 1636.9,931.4 1629.1,935.9" fill="#e9edf2" stroke="none" stroke-width="0" stroke-linejoin="round" />
<polygon points="1624.5,931.5 1614.4,925.7 1614.4,929 1624.5,934.8" fill="#9fb2c6" stroke="none" stroke-width="0" stroke-linejoin="round" />
<rect x="1620.4" y="916.4" width="1.6" height="3.5" fill="#cfd9e4"/>
<rect x="1616.2" y="914" width="1.6" height="3.5" fill="#cfd9e4"/>
<rect x="1612.1" y="911.6" width="1.6" height="3.5" fill="#cfd9e4"/>
<polygon points="1470.5,817 1474,819 1474,982 1470.5,980" fill="#1c476c" stroke="#e6eef6" stroke-width="1.1" stroke-linejoin="round" />
<polygon points="1474,819 1477.5,817 1477.5,980 1474,982" fill="#1c476c" stroke="#e6eef6" stroke-width="1.1" stroke-linejoin="round" />
<polygon points="1470.5,817 1474,815 1477.5,817 1474,819" fill="#1c476c" stroke="#e6eef6" stroke-width="1" stroke-linejoin="round" />
<polygon points="1627,907 1630.5,909 1630.5,1072 1627,1070" fill="#1c476c" stroke="#e6eef6" stroke-width="1.1" stroke-linejoin="round" />
<polygon points="1630.5,909 1634,907 1634,1070 1630.5,1072" fill="#1c476c" stroke="#e6eef6" stroke-width="1.1" stroke-linejoin="round" />
<polygon points="1627,907 1630.5,905 1634,907 1630.5,909" fill="#1c476c" stroke="#e6eef6" stroke-width="1" stroke-linejoin="round" />
<ellipse cx="1381" cy="1106.7" rx="15" ry="7" fill="#0e2238"/>
<ellipse cx="1416.6" cy="1120.2" rx="16" ry="7.5" fill="#0e2238"/>
<polygon points="1305.8,1076.6 1342.2,1097.2 1366,1083 1329.6,1064" fill="#0e2238" stroke="none" stroke-width="0" stroke-linejoin="round" />
<polygon points="1309,1059.2 1342.2,1078.2 1347,1075.1 1313.7,1056.4" fill="#1c476c" stroke="#cfe0f0" stroke-width="1" stroke-linejoin="round" />
<polygon points="1321.7,1045 1342.2,1056.1 1364.4,1043.4 1353.3,1036.3 1331.2,1024.4 1321.7,1045" fill="#1c476c" stroke="#cfe0f0" stroke-width="1" stroke-linejoin="round" />
<polygon points="1321.7,1045 1320.1,1060.8 1340.7,1075.1 1342.2,1056.1" fill="#1c476c" stroke="#cfe0f0" stroke-width="1" stroke-linejoin="round" />
<polygon points="1342.2,1056.1 1340.7,1075.1 1361.2,1064 1364.4,1043.4" fill="#1c476c" stroke="#cfe0f0" stroke-width="1" stroke-linejoin="round" />
<polygon points="1332,1024.4 1330.4,1043.4 1351.7,1045 1353.3,1024.4" fill="#1c476c" stroke="#cfe0f0" stroke-width="1" stroke-linejoin="round" />
<polygon points="1332,1024.4 1353.3,1014.9 1366,1024.4 1353.3,1036.3" fill="#1c476c" stroke="#cfe0f0" stroke-width="1" stroke-linejoin="round" />
<polygon points="1353.3,1036.3 1351.7,1052.9 1366,1045 1367.6,1029.2 1366,1024.4" fill="#1c476c" stroke="#cfe0f0" stroke-width="1" stroke-linejoin="round" />
<polyline points="1359.7,1029.2 1342.2,1086.1" fill="none" stroke="#cfe0f0" stroke-width="1.6" stroke-linejoin="round" stroke-linecap="round" />
<polyline points="1374.7,1035.5 1361.2,1079.8" fill="none" stroke="#cfe0f0" stroke-width="1.6" stroke-linejoin="round" stroke-linecap="round" />
<polyline points="1359.7,1029.2 1374.7,1035.5" fill="none" stroke="#cfe0f0" stroke-width="1.4" stroke-linejoin="round" stroke-linecap="round" />
<polyline points="1351.7,1054.5 1367.6,1046.6" fill="none" stroke="#cfe0f0" stroke-width="1.2" stroke-linejoin="round" stroke-linecap="round" />
<polyline points="1345.4,1070.3 1364.4,1060.8" fill="none" stroke="#cfe0f0" stroke-width="1.2" stroke-linejoin="round" stroke-linecap="round" />
<polyline points="1342.2,1086.1 1372.3,1075.1" fill="none" stroke="#cfe0f0" stroke-width="1.6" stroke-linejoin="round" stroke-linecap="round" />
<ellipse cx="1372.3" cy="1078.2" rx="6" ry="8" fill="#1c476c" stroke="#cfe0f0" stroke-width="1.1"/>
<ellipse cx="1347" cy="1093.3" rx="7" ry="9" fill="#1c476c" stroke="#cfe0f0" stroke-width="1.2"/>
<ellipse cx="1347.5" cy="1093.3" rx="3.5" ry="4.5" fill="none" stroke="#cfe0f0" stroke-width="1"/>
<path d="M1376.7 1044.2 Q1376.8 1040.2 1380.6 1041.4 L1389.1 1043.9 Q1392.9 1045 1392.6 1049 L1391.6 1066.3 Q1391.3 1070.3 1390.9 1074.3 L1388.5 1098 Q1388.1 1102 1384.3 1101.1 L1381.8 1100.5 Q1377.9 1099.6 1377.6 1095.6 L1376.5 1074.3 Q1376.3 1070.3 1376.3 1066.3 Z" fill="#1c476c" stroke="#cfe0f0" stroke-width="1.1" stroke-linejoin="round" stroke-linecap="round" />
<path d="M1391.8 1049 Q1391.3 1045 1395.2 1044.2 L1404 1042.6 Q1407.9 1041.8 1408.7 1045.7 L1414.3 1072.7 Q1415.1 1076.6 1416.2 1080.5 L1424.2 1107.6 Q1425.3 1111.5 1421.5 1112.4 L1419 1112.9 Q1415.1 1113.8 1413.6 1110.1 L1402.2 1080.4 Q1400.8 1076.6 1399.3 1073 L1394.4 1061.3 Q1392.9 1057.6 1392.4 1053.7 Z" fill="#1c476c" stroke="#cfe0f0" stroke-width="1.1" stroke-linejoin="round" stroke-linecap="round" />
<path d="M1370.7 1105.1 Q1369.2 1102 1373.9 1101.2 L1373.9 1101.2 Q1378.6 1100.4 1383.1 1102.6 L1385.3 1103.7 Q1389.7 1105.9 1388.9 1107.9 L1388.9 1107.9 Q1388.1 1109.9 1383.2 1109.4 L1377.3 1108.8 Q1372.3 1108.3 1370.7 1105.1 Z" fill="#1d3f63" stroke="#cfe0f0" stroke-width="1" stroke-linejoin="round" stroke-linecap="round" />
<path d="M1376.3 1104.1 Q1373.9 1102.3 1376.9 1101.8 L1378.1 1101.6 Q1381 1101.2 1383.5 1102.8 L1385.7 1104.3 Q1388.1 1105.9 1385.1 1105.9 L1381.6 1105.9 Q1378.6 1105.9 1376.3 1104.1 Z" fill="#e8c9a0" stroke="none" stroke-width="0" stroke-linejoin="round" stroke-linecap="round" />
<path d="M1412.3 1121.4 Q1407.9 1120.2 1411.5 1117 L1411.5 1117 Q1415.1 1113.8 1419.9 1112.8 L1421.3 1112.5 Q1426.1 1111.5 1426.9 1113.4 L1426.9 1113.4 Q1427.7 1115.4 1423.5 1118.1 L1420.8 1119.8 Q1416.6 1122.6 1412.3 1121.4 Z" fill="#1d3f63" stroke="#cfe0f0" stroke-width="1" stroke-linejoin="round" stroke-linecap="round" />
<path d="M1414.9 1117.5 Q1411.9 1117.8 1414.2 1115.9 L1414.3 1115.8 Q1416.6 1113.8 1419.6 1113.3 L1421.6 1112.8 Q1424.6 1112.3 1422.4 1114.4 L1421.9 1114.9 Q1419.8 1117 1416.8 1117.3 Z" fill="#e8c9a0" stroke="none" stroke-width="0" stroke-linejoin="round" stroke-linecap="round" />
<path d="M1383.5 1003.8 Q1385 995.9 1392.1 992.7 L1392.1 992.7 Q1399.2 989.6 1404.8 988 L1404.8 988 Q1410.3 986.4 1411.5 992 L1411.5 992 Q1412.7 997.5 1411.8 1005.4 L1408.8 1032.3 Q1407.9 1040.2 1402 1041.8 L1402 1041.8 Q1396.1 1043.4 1389.7 1041 L1389.7 1041 Q1383.4 1038.6 1382.5 1030.7 L1381.9 1024.4 Q1381 1016.5 1382.5 1008.6 Z" fill="#1c476c" stroke="#cfe0f0" stroke-width="1.1" stroke-linejoin="round" stroke-linecap="round" />
<path d="M1382 1003.5 Q1382.6 997.5 1386.2 999.9 L1386.2 999.9 Q1389.7 1002.2 1388.9 1008.2 L1387.4 1020 Q1386.6 1026 1381.1 1028.5 L1374.6 1031.4 Q1369.2 1033.9 1368.4 1031.5 L1368.4 1031.5 Q1367.6 1029.2 1372.4 1025.6 L1375.4 1023.3 Q1380.2 1019.7 1380.9 1013.7 Z" fill="#1c476c" stroke="#cfe0f0" stroke-width="1.1" stroke-linejoin="round" stroke-linecap="round" />
<ellipse cx="1364.4" cy="1031.2" rx="4.5" ry="3.2" fill="#f3b5b0" stroke="#cfe0f0" stroke-width="0.8"/>
<path d="M1388.5 977.7 Q1388.9 973.7 1393.9 974.2 L1401.4 974.9 Q1406.4 975.3 1406.9 980.3 L1407.4 984.6 Q1407.9 989.6 1404.4 990.8 L1404.4 990.8 Q1400.8 992 1397.6 989.6 L1397.6 989.6 Q1394.5 987.2 1392.5 988.4 L1392.5 988.4 Q1390.5 989.6 1389.3 985.6 L1389.3 985.6 Q1388.1 981.7 1388.5 977.7 Z" fill="#8a4b33" stroke="none" stroke-width="0" stroke-linejoin="round" stroke-linecap="round" />
<path d="M1386.9 973.7 C1387.4 961.1 1405.6 959.5 1405.2 973.7 L1399.2 976.9 L1391.3 975.3 Z" fill="#d33a2c" stroke="none" stroke-width="0" stroke-linejoin="round" stroke-linecap="round" />
<polygon points="1379.4,967.7 1387.8,966.6 1387.8,972.2 1383.4,970.9" fill="#e0523f" stroke="none" stroke-width="0" stroke-linejoin="round" />
<rect x="73" y="571.5" width="244.5" height="480.5" rx="17" ry="17" fill="#1c476c" stroke="#fff" stroke-width="2"/>
<clipPath id="scr"><rect x="84" y="616.5" width="223.5" height="391.5"/></clipPath>
<rect x="84" y="616.5" width="223.5" height="391.5" fill="#ffffff"/>
<g clip-path="url(#scr)" fill="none" stroke-linecap="butt">
<path d="M80 830 C120 838 150 842 175 855 S215 895 235 918 S280 945 310 945" stroke="#d9e6f2" stroke-width="27"/>
<path d="M157 612 C157 650 150 680 132 700 S100 738 80 750" stroke="#1ea78f" stroke-width="4.5" />
<path d="M175 612 C186 640 190 670 182 700" stroke="#5a8fe6" stroke-width="4.5" />
<path d="M178 712 C182 730 190 742 198 750" stroke="#5a8fe6" stroke-width="4.5" />
<path d="M198 750 C212 762 218 772 217 786 C216 795 210 800 203 808" stroke="#f59c1a" stroke-width="4.5" />
<path d="M187 695 C205 703 230 712 253 712 S295 695 310 675" stroke="#1ea78f" stroke-width="4.5" />
<path d="M310 702 C296 705 290 712 288 725" stroke="#f59c1a" stroke-width="4.5" />
<path d="M288 725 C287 750 275 768 258 777" stroke="#1ea78f" stroke-width="4.5" />
<path d="M258 777 L241 783" stroke="#d9281f" stroke-width="5" />
<path d="M241 783 L217 787" stroke="#f59c1a" stroke-width="4.5" />
<path d="M229 711 L237 738" stroke="#1ea78f" stroke-width="4.5" />
<path d="M237 738 L245 770" stroke="#f59c1a" stroke-width="4.5" />
<path d="M245 770 L250 792" stroke="#d9281f" stroke-width="5" />
<path d="M250 792 C253 800 254 810 254 822" stroke="#f59c1a" stroke-width="4.5" />
<path d="M160 741 L126 809" stroke="#1ea78f" stroke-width="4.5" />
<path d="M160 741 L126 809" stroke="#c0504a" stroke-width="2" stroke-dasharray="2.5 3"/>
<path d="M80 786 C95 800 110 806 126 809 S160 818 175 832 S215 868 232 880 S280 915 310 913" stroke="#1ea78f" stroke-width="4.5" />
<path d="M126 809 L148 814" stroke="#c0504a" stroke-width="2" stroke-dasharray="2.5 3"/>
<path d="M80 859 C100 860 125 866 145 882 S170 925 180 940 S215 968 235 973 S290 985 310 991" stroke="#1ea78f" stroke-width="4.5" />
<path d="M80 890 C100 898 120 912 135 930 S170 975 186 1010" stroke="#1ea78f" stroke-width="4.5" />
<path d="M240 865 L232 880" stroke="#1ea78f" stroke-width="4.5" />
<path d="M203 808 L188 833" stroke="#d9281f" stroke-width="5" />
<path d="M188 833 L170 864" stroke="#d9281f" stroke-width="5" />
<path d="M170 864 C160 885 150 905 130 930" stroke="#f59c1a" stroke-width="4.5" />
<path d="M130 930 C115 940 100 942 80 943" stroke="#d9281f" stroke-width="5" />
<path d="M175 974 L211 966" stroke="#9fc0da" stroke-width="4" />
</g>
<ellipse cx="159.8" cy="741.5" rx="25.7" ry="2" fill="#d8d8d8" opacity="0.7"/>
<path d="M159.8 740.5 C147 714.9 131.3 706.9 131.3 685.5 C131.3 646.2 188.3 646.2 188.3 685.5 Z" fill="#e8222a"/>
<path d="M188.3 685.5 C188.3 706.9 172.6 714.9 159.8 740.5 Z" fill="#e8222a"/>
<path d="M131.3 685.5 L188.3 685.5 L159.8 740.5 Z" fill="#e8222a"/>
<circle cx="159.8" cy="685.5" r="19.4" fill="#9c1c1c"/>
<circle cx="159.8" cy="686" r="17.4" fill="#f1f1f1"/>
<ellipse cx="256.3" cy="902.5" rx="25.7" ry="2" fill="#d8d8d8" opacity="0.7"/>
<path d="M256.3 901.5 C243.5 875.9 227.8 867.4 227.8 846 C227.8 806.7 284.8 806.7 284.8 846 Z" fill="#e8222a"/>
<path d="M284.8 846 C284.8 867.4 269.1 875.9 256.3 901.5 Z" fill="#e8222a"/>
<path d="M227.8 846 L284.8 846 L256.3 901.5 Z" fill="#e8222a"/>
<circle cx="256.3" cy="846" r="19.4" fill="#9c1c1c"/>
<circle cx="256.3" cy="846.5" r="17.4" fill="#f1f1f1"/>
<filter id="fat" x="-2%" y="-10%" width="104%" height="120%"><feMorphology operator="dilate" radius="1.9 0.9"/></filter>
<g filter="url(#fat)"><text transform="translate(75.5,158.6) scale(0.4400,1.2456)" x="0" y="0" letter-spacing="8.53" font-family="'Liberation Sans', sans-serif" font-weight="400" font-size="100" fill="#fdfcf8">SMART WAREHOUSE</text></g>
<g filter="url(#fat)"><text transform="translate(75.5,308) scale(0.4400,1.2456)" x="0" y="0" letter-spacing="9.99" font-family="'Liberation Sans', sans-serif" font-weight="400" font-size="100" fill="#fdfcf8">MANAGEMENT SYSTEM</text></g>
</svg></body></html>
